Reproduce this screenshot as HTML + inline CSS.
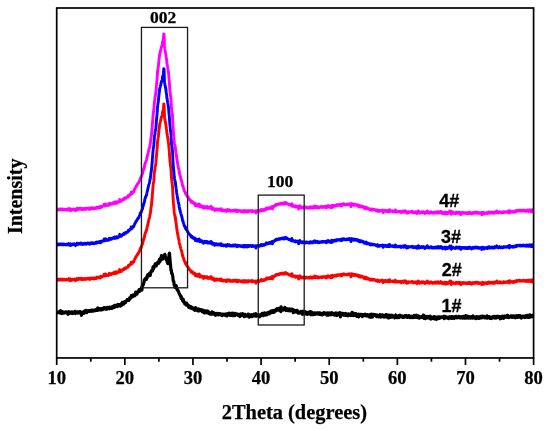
<!DOCTYPE html>
<html><head><meta charset="utf-8"><style>
html,body{margin:0;padding:0;background:#fff;}
svg{display:block;}
.serif{font-family:"Liberation Serif","Times New Roman",serif;font-weight:bold;stroke:#000;stroke-width:0.25px;}
.sans{font-family:"Liberation Sans",Arial,sans-serif;font-weight:bold;}
</style></head><body>
<svg width="550" height="431" viewBox="0 0 550 431">
<rect x="0" y="0" width="550" height="431" fill="#fff"/>
<g clip-path="url(#clip)">
<path d="M56.80,312.70 56.95,312.86 57.10,312.29 57.25,312.14 57.40,312.41 57.55,312.60 57.69,312.40 57.84,312.49 57.99,312.73 58.14,312.55 58.29,312.58 58.44,312.31 58.59,312.11 58.74,311.85 58.89,312.24 59.04,312.42 59.18,312.42 59.33,311.95 59.48,311.81 59.63,311.96 59.78,312.15 59.93,312.62 60.08,313.10 60.23,312.31 60.38,310.92 60.53,310.64 60.67,311.55 60.82,312.19 60.97,312.38 61.12,313.19 61.27,312.98 61.42,312.46 61.57,312.52 61.72,313.34 61.87,313.53 62.02,312.73 62.16,311.89 62.31,311.62 62.46,312.02 62.61,312.15 62.76,311.75 62.91,311.76 63.06,311.93 63.21,312.03 63.36,313.16 63.51,312.51 63.65,312.39 63.80,312.50 63.95,312.89 64.10,313.19 64.25,312.70 64.40,312.53 64.55,312.45 64.70,312.86 64.85,312.45 65.00,312.69 65.14,312.63 65.29,312.48 65.44,311.97 65.59,312.10 65.74,312.63 65.89,312.45 66.04,311.96 66.19,311.93 66.34,312.23 66.49,312.59 66.64,312.85 66.78,312.54 66.93,312.30 67.08,312.65 67.23,313.18 67.38,312.69 67.53,312.49 67.68,312.83 67.83,313.32 67.98,314.35 68.13,312.37 68.27,311.93 68.42,312.05 68.57,312.72 68.72,312.95 68.87,312.51 69.02,311.70 69.17,311.96 69.32,312.91 69.47,313.06 69.62,312.64 69.76,312.64 69.91,313.03 70.06,313.31 70.21,313.30 70.36,313.05 70.51,312.66 70.66,312.89 70.81,312.35 70.96,312.04 71.11,311.94 71.25,312.22 71.40,312.21 71.55,312.18 71.70,312.80 71.85,312.81 72.00,313.12 72.15,313.32 72.30,313.54 72.45,312.96 72.60,311.97 72.74,312.33 72.89,312.92 73.04,312.98 73.19,312.41 73.34,312.47 73.49,312.92 73.64,313.00 73.79,312.97 73.94,312.48 74.09,312.54 74.23,312.33 74.38,312.61 74.53,313.12 74.68,313.05 74.83,311.74 74.98,311.36 75.13,312.00 75.28,313.63 75.43,312.66 75.58,312.02 75.72,312.26 75.87,312.35 76.02,312.08 76.17,312.53 76.32,312.65 76.47,312.75 76.62,312.60 76.77,312.41 76.92,312.15 77.07,311.96 77.22,312.16 77.36,312.01 77.51,311.84 77.66,312.30 77.81,312.90 77.96,313.07 78.11,312.77 78.26,312.71 78.41,312.56 78.56,312.55 78.71,312.84 78.85,312.53 79.00,312.50 79.15,312.44 79.30,312.32 79.45,311.72 79.60,311.80 79.75,312.69 79.90,312.82 80.05,312.69 80.20,311.65 80.34,311.77 80.49,312.23 80.64,312.92 80.79,312.60 80.94,312.34 81.09,312.73 81.24,313.18 81.39,315.31 81.54,313.70 81.69,313.12 81.83,312.36 81.98,312.31 82.13,312.51 82.28,312.54 82.43,312.58 82.58,312.01 82.73,312.05 82.88,312.05 83.03,312.02 83.18,311.86 83.32,312.60 83.47,313.16 83.62,312.88 83.77,312.09 83.92,312.68 84.07,313.26 84.22,312.94 84.37,311.54 84.52,311.28 84.67,311.20 84.81,311.28 84.96,311.25 85.11,312.02 85.26,312.41 85.41,311.64 85.56,310.85 85.71,310.30 85.86,311.30 86.01,311.61 86.16,312.17 86.31,311.51 86.45,311.84 86.60,312.59 86.75,312.59 86.90,311.79 87.05,311.08 87.20,311.28 87.35,310.82 87.50,311.48 87.65,311.49 87.80,311.49 87.94,311.11 88.09,311.28 88.24,311.17 88.39,310.86 88.54,310.98 88.69,310.72 88.84,310.64 88.99,310.68 89.14,310.96 89.29,311.09 89.43,311.09 89.58,311.39 89.73,311.36 89.88,311.29 90.03,310.85 90.18,310.72 90.33,310.37 90.48,310.65 90.63,310.63 90.78,310.61 90.92,310.59 91.07,311.18 91.22,311.28 91.37,310.43 91.52,310.26 91.67,310.71 91.82,310.87 91.97,310.79 92.12,310.70 92.27,310.62 92.41,310.34 92.56,310.62 92.71,310.99 92.86,310.48 93.01,310.90 93.16,310.98 93.31,310.73 93.46,310.24 93.61,310.52 93.76,310.98 93.90,310.72 94.05,310.72 94.20,310.69 94.35,310.57 94.50,310.67 94.65,310.56 94.80,310.37 94.95,310.10 95.10,310.45 95.25,310.66 95.39,310.26 95.54,310.21 95.69,309.84 95.84,309.50 95.99,309.36 96.14,309.55 96.29,309.70 96.44,309.78 96.59,310.44 96.74,310.20 96.89,309.79 97.03,309.60 97.18,309.17 97.33,310.01 97.48,310.23 97.63,310.33 97.78,307.86 97.93,309.92 98.08,309.45 98.23,309.16 98.38,309.65 98.52,310.06 98.67,309.59 98.82,309.46 98.97,309.36 99.12,309.40 99.27,309.42 99.42,309.43 99.57,308.73 99.72,308.49 99.87,308.51 100.01,309.17 100.16,309.45 100.31,309.86 100.46,309.62 100.61,309.57 100.76,309.06 100.91,309.10 101.06,309.70 101.21,309.95 101.36,309.31 101.50,308.64 101.65,308.61 101.80,308.52 101.95,308.57 102.10,308.70 102.25,309.31 102.40,309.43 102.55,309.45 102.70,309.31 102.85,309.26 102.99,309.46 103.14,309.13 103.29,308.73 103.44,308.13 103.59,308.32 103.74,308.14 103.89,308.09 104.04,307.73 104.19,308.42 104.34,308.71 104.48,308.86 104.63,308.06 104.78,307.92 104.93,308.09 105.08,308.04 105.23,307.77 105.38,307.78 105.53,308.00 105.68,308.53 105.83,309.08 105.98,309.25 106.12,308.97 106.27,308.22 106.42,308.20 106.57,308.23 106.72,308.71 106.87,309.05 107.02,308.43 107.17,307.93 107.32,307.33 107.47,308.06 107.61,307.72 107.76,307.69 107.91,307.62 108.06,308.28 108.21,308.47 108.36,308.08 108.51,307.59 108.66,307.84 108.81,308.21 108.96,307.74 109.10,307.52 109.25,307.89 109.40,308.62 109.55,307.14 109.70,308.24 109.85,307.72 110.00,307.78 110.15,307.50 110.30,307.91 110.45,308.14 110.59,308.06 110.74,307.62 110.89,307.35 111.04,307.93 111.19,308.26 111.34,307.78 111.49,307.31 111.64,307.47 111.79,308.51 111.94,307.95 112.08,307.11 112.23,306.95 112.38,307.21 112.53,306.68 112.68,306.40 112.83,307.29 112.98,307.47 113.13,307.26 113.28,307.07 113.43,307.67 113.57,307.61 113.72,307.68 113.87,306.98 114.02,306.69 114.17,306.38 114.32,306.99 114.47,307.32 114.62,305.25 114.77,306.68 114.92,306.85 115.06,307.01 115.21,306.58 115.36,306.22 115.51,305.68 115.66,305.61 115.81,305.90 115.96,306.11 116.11,306.12 116.26,305.73 116.41,305.56 116.56,305.21 116.70,306.22 116.85,306.09 117.00,305.99 117.15,305.83 117.30,306.44 117.45,306.51 117.60,305.93 117.75,304.80 117.90,305.94 118.05,304.68 118.19,305.02 118.34,304.44 118.49,305.00 118.64,305.54 118.79,305.60 118.94,305.32 119.09,305.20 119.24,305.23 119.39,304.87 119.54,304.72 119.68,304.86 119.83,304.96 119.98,304.81 120.13,304.80 120.28,306.12 120.43,304.54 120.58,304.38 120.73,304.98 120.88,304.77 121.03,304.90 121.17,304.65 121.32,304.51 121.47,303.64 121.62,303.64 121.77,305.36 121.92,303.51 122.07,302.77 122.22,302.50 122.37,302.62 122.52,303.22 122.66,303.94 122.81,304.37 122.96,304.00 123.11,303.29 123.26,302.86 123.41,302.99 123.56,303.79 123.71,304.10 123.86,303.51 124.01,302.62 124.15,302.12 124.30,301.81 124.45,301.61 124.60,301.78 124.75,302.55 124.90,302.69 125.05,302.77 125.20,302.79 125.35,302.74 125.50,302.54 125.65,302.26 125.79,301.91 125.94,301.27 126.09,301.03 126.24,300.96 126.39,300.69 126.54,300.63 126.69,300.77 126.84,300.48 126.99,300.19 127.14,299.57 127.28,299.67 127.43,299.95 127.58,300.42 127.73,300.27 127.88,300.17 128.03,299.84 128.18,299.43 128.33,299.35 128.48,299.85 128.63,299.99 128.77,300.47 128.92,300.24 129.07,300.05 129.22,299.65 129.37,299.56 129.52,298.73 129.67,297.77 129.82,297.72 129.97,298.36 130.12,298.81 130.26,298.61 130.41,298.02 130.56,297.95 130.71,297.20 130.86,297.00 131.01,296.97 131.16,297.08 131.31,295.68 131.46,297.25 131.61,296.85 131.75,295.70 131.90,296.36 132.05,296.55 132.20,296.82 132.35,296.70 132.50,296.94 132.65,296.16 132.80,295.49 132.95,295.90 133.10,296.03 133.24,295.52 133.39,294.87 133.54,295.49 133.69,295.82 133.84,295.93 133.99,295.27 134.14,295.18 134.29,295.22 134.44,294.89 134.59,294.73 134.74,295.50 134.88,295.72 135.03,294.79 135.18,294.47 135.33,294.27 135.48,293.18 135.63,292.13 135.78,292.37 135.93,294.24 136.08,293.26 136.23,293.53 136.37,293.14 136.52,292.84 136.67,293.42 136.82,294.22 136.97,294.15 137.12,293.39 137.27,293.07 137.42,292.40 137.57,292.29 137.72,291.99 137.86,292.44 138.01,292.35 138.16,291.81 138.31,291.18 138.46,291.43 138.61,291.40 138.76,290.78 138.91,290.05 139.06,289.77 139.21,290.05 139.35,290.86 139.50,291.52 139.65,291.08 139.80,290.41 139.95,290.04 140.10,289.59 140.25,289.64 140.40,289.93 140.55,290.33 140.70,289.67 140.84,289.00 140.99,288.52 141.14,289.08 141.29,289.14 141.44,288.17 141.59,287.26 141.74,287.88 141.89,290.17 142.04,288.49 142.19,287.62 142.33,286.31 142.48,284.83 142.63,284.05 142.78,284.37 142.93,284.83 143.08,285.15 143.23,284.72 143.38,284.43 143.53,283.85 143.68,283.20 143.82,282.76 143.97,282.38 144.12,281.15 144.27,279.96 144.42,280.21 144.57,279.92 144.72,279.51 144.87,279.40 145.02,279.71 145.17,278.90 145.32,278.58 145.46,278.75 145.61,279.47 145.76,279.73 145.91,278.99 146.06,277.72 146.21,277.68 146.36,278.89 146.51,279.24 146.66,278.65 146.81,278.39 146.95,278.18 147.10,277.47 147.25,275.98 147.40,275.43 147.55,276.25 147.70,276.37 147.85,275.91 148.00,274.53 148.15,274.76 148.30,275.12 148.44,275.49 148.59,275.42 148.74,275.34 148.89,275.46 149.04,275.67 149.19,275.71 149.34,275.16 149.49,273.94 149.64,273.11 149.79,273.24 149.93,273.40 150.08,274.55 150.23,275.34 150.38,275.08 150.53,273.40 150.68,273.14 150.83,272.53 150.98,271.80 151.13,271.49 151.28,271.85 151.42,271.37 151.57,270.68 151.72,271.11 151.87,271.28 152.02,271.29 152.17,271.08 152.32,270.83 152.47,270.83 152.62,270.20 152.77,269.11 152.91,267.57 153.06,266.92 153.21,267.08 153.36,268.17 153.51,268.92 153.66,268.54 153.81,268.35 153.96,266.68 154.11,266.60 154.26,266.60 154.41,265.94 154.55,265.55 154.70,266.15 154.85,265.81 155.00,265.23 155.15,263.93 155.30,264.48 155.45,264.39 155.60,264.07 155.75,263.65 155.90,264.91 156.04,265.95 156.19,265.99 156.34,265.14 156.49,265.50 156.64,263.01 156.79,263.08 156.94,263.08 157.09,262.89 157.24,263.38 157.39,263.56 157.53,263.31 157.68,262.84 157.83,262.94 157.98,262.19 158.13,262.42 158.28,261.70 158.43,262.39 158.58,262.49 158.73,263.29 158.88,262.28 159.02,261.46 159.17,261.09 159.32,260.27 159.47,259.31 159.62,259.50 159.77,261.10 159.92,261.78 160.07,261.10 160.22,260.79 160.37,259.99 160.51,259.16 160.66,257.89 160.81,257.77 160.96,258.15 161.11,258.47 161.26,256.95 161.41,255.70 161.56,255.82 161.71,257.59 161.86,258.18 162.00,259.30 162.15,256.36 162.30,257.13 162.45,257.49 162.60,258.59 162.75,258.56 162.90,258.91 163.05,257.47 163.20,256.45 163.35,255.68 163.49,255.62 163.64,255.55 163.79,256.05 163.94,256.26 164.09,256.93 164.24,256.54 164.39,256.20 164.54,255.30 164.69,254.90 164.84,254.35 164.99,254.57 165.13,255.65 165.28,256.96 165.43,258.29 165.58,258.27 165.73,258.19 165.88,257.89 166.03,257.79 166.18,258.31 166.33,259.44 166.48,259.96 166.62,260.32 166.77,260.26 166.92,260.94 167.07,261.25 167.22,262.20 167.37,262.18 167.52,262.87 167.67,263.37 167.82,263.70 167.97,262.67 168.11,260.85 168.26,259.06 168.41,257.74 168.56,257.55 168.71,257.47 168.86,257.16 169.01,255.62 169.16,254.05 169.31,253.52 169.46,253.26 169.60,254.34 169.75,256.38 169.90,258.77 170.05,260.17 170.20,261.89 170.35,263.60 170.50,264.90 170.65,266.40 170.80,268.09 170.95,269.96 171.09,270.36 171.24,270.07 171.39,270.47 171.54,272.33 171.69,273.50 171.84,273.08 171.99,273.28 172.14,273.74 172.29,274.59 172.44,274.62 172.58,275.62 172.73,275.90 172.88,277.13 173.03,278.77 173.18,280.45 173.33,281.36 173.48,281.41 173.63,281.69 173.78,281.46 173.93,282.63 174.08,283.86 174.22,285.42 174.37,285.29 174.52,285.23 174.67,285.05 174.82,286.25 174.97,287.33 175.12,287.29 175.27,286.24 175.42,285.07 175.57,285.85 175.71,286.74 175.86,287.13 176.01,286.76 176.16,286.19 176.31,285.76 176.46,286.45 176.61,288.06 176.76,288.93 176.91,288.51 177.06,288.74 177.20,289.79 177.35,290.16 177.50,289.94 177.65,289.64 177.80,290.46 177.95,290.87 178.10,291.25 178.25,291.14 178.40,291.36 178.55,291.62 178.69,292.11 178.84,292.45 178.99,293.18 179.14,293.41 179.29,293.46 179.44,293.91 179.59,294.47 179.74,294.63 179.89,294.83 180.04,295.40 180.18,295.74 180.33,295.79 180.48,295.58 180.63,295.83 180.78,296.66 180.93,297.63 181.08,297.16 181.23,298.60 181.38,296.84 181.53,297.41 181.67,297.70 181.82,297.90 181.97,298.52 182.12,298.98 182.27,299.72 182.42,299.82 182.57,300.50 182.72,300.93 182.87,300.44 183.02,299.94 183.16,299.23 183.31,299.53 183.46,300.12 183.61,301.41 183.76,302.18 183.91,302.05 184.06,301.86 184.21,301.72 184.36,302.40 184.51,303.11 184.66,303.16 184.80,303.93 184.95,304.02 185.10,303.78 185.25,302.88 185.40,303.38 185.55,303.84 185.70,303.57 185.85,303.82 186.00,304.04 186.15,304.73 186.29,305.01 186.44,304.71 186.59,303.76 186.74,303.17 186.89,303.78 187.04,304.38 187.19,304.89 187.34,304.70 187.49,304.83 187.64,305.45 187.78,305.51 187.93,305.14 188.08,305.01 188.23,305.56 188.38,305.63 188.53,306.22 188.68,306.98 188.83,307.38 188.98,306.64 189.13,306.88 189.27,307.16 189.42,307.13 189.57,306.32 189.72,306.19 189.87,307.13 190.02,307.69 190.17,307.77 190.32,306.51 190.47,306.55 190.62,306.60 190.76,306.84 190.91,306.89 191.06,307.24 191.21,307.80 191.36,308.24 191.51,308.07 191.66,307.55 191.81,306.96 191.96,307.45 192.11,308.02 192.25,308.28 192.40,308.71 192.55,308.73 192.70,308.65 192.85,308.02 193.00,308.55 193.15,308.66 193.30,308.53 193.45,308.06 193.60,308.79 193.75,309.17 193.89,309.41 194.04,309.34 194.19,309.09 194.34,308.90 194.49,309.29 194.64,309.93 194.79,310.31 194.94,309.98 195.09,309.71 195.24,309.14 195.38,309.18 195.53,309.33 195.68,307.69 195.83,308.84 195.98,308.53 196.13,308.77 196.28,309.33 196.43,310.09 196.58,309.54 196.73,309.42 196.87,309.48 197.02,309.53 197.17,309.18 197.32,309.62 197.47,310.33 197.62,310.51 197.77,310.60 197.92,310.75 198.07,310.53 198.22,309.50 198.36,308.78 198.51,309.06 198.66,309.71 198.81,309.06 198.96,310.38 199.11,310.57 199.26,310.89 199.41,310.55 199.56,310.55 199.71,310.04 199.85,309.98 200.00,309.87 200.15,309.99 200.30,310.41 200.45,310.05 200.60,310.07 200.75,309.70 200.90,309.93 201.05,309.91 201.20,309.85 201.34,310.09 201.49,310.05 201.64,309.95 201.79,310.10 201.94,311.05 202.09,311.63 202.24,311.48 202.39,311.91 202.54,311.58 202.69,310.93 202.84,310.01 202.98,310.71 203.13,311.29 203.28,311.95 203.43,312.12 203.58,312.01 203.73,311.33 203.88,310.71 204.03,311.52 204.18,312.48 204.33,312.91 204.47,312.12 204.62,311.72 204.77,311.49 204.92,311.53 205.07,310.89 205.22,310.82 205.37,311.09 205.52,311.96 205.67,312.16 205.82,312.58 205.96,312.60 206.11,312.73 206.26,311.78 206.41,311.12 206.56,311.61 206.71,312.36 206.86,312.35 207.01,312.17 207.16,312.42 207.31,312.60 207.45,312.14 207.60,311.62 207.75,310.96 207.90,310.99 208.05,311.59 208.20,312.11 208.35,312.74 208.50,312.52 208.65,313.31 208.80,313.59 208.94,313.66 209.09,313.04 209.24,313.08 209.39,312.85 209.54,312.73 209.69,313.20 209.84,313.73 209.99,314.00 210.14,313.59 210.29,313.01 210.43,313.35 210.58,313.78 210.73,313.96 210.88,313.67 211.03,314.24 211.18,313.76 211.33,313.12 211.48,312.65 211.63,313.01 211.78,312.44 211.92,312.34 212.07,311.79 212.22,312.37 212.37,312.93 212.52,314.07 212.67,313.63 212.82,313.59 212.97,313.37 213.12,313.19 213.27,312.56 213.42,312.61 213.56,313.09 213.71,313.78 213.86,313.47 214.01,312.96 214.16,313.16 214.31,314.06 214.46,314.33 214.61,313.63 214.76,313.67 214.91,313.29 215.05,313.58 215.20,313.91 215.35,315.14 215.50,315.31 215.65,315.03 215.80,314.30 215.95,313.85 216.10,313.97 216.25,314.35 216.40,314.35 216.54,313.54 216.69,313.47 216.84,313.89 216.99,314.15 217.14,313.80 217.29,314.14 217.44,314.68 217.59,314.62 217.74,313.72 217.89,313.40 218.03,313.48 218.18,314.32 218.33,314.50 218.48,314.95 218.63,314.49 218.78,314.29 218.93,314.07 219.08,314.42 219.23,314.17 219.38,313.81 219.52,314.11 219.67,313.90 219.82,313.64 219.97,313.63 220.12,314.07 220.27,314.36 220.42,314.34 220.57,314.22 220.72,314.03 220.87,314.49 221.01,314.61 221.16,314.99 221.31,314.66 221.46,314.88 221.61,314.37 221.76,314.39 221.91,314.17 222.06,315.15 222.21,315.67 222.36,315.31 222.51,314.93 222.65,314.77 222.80,314.49 222.95,314.17 223.10,314.40 223.25,314.91 223.40,314.69 223.55,314.63 223.70,314.63 223.85,314.92 224.00,314.75 224.14,314.31 224.29,314.43 224.44,314.66 224.59,314.96 224.74,314.60 224.89,314.48 225.04,314.03 225.19,314.06 225.34,314.42 225.49,314.85 225.63,315.03 225.78,314.97 225.93,315.31 226.08,315.09 226.23,315.76 226.38,313.87 226.53,314.10 226.68,314.25 226.83,314.23 226.98,315.90 227.12,314.95 227.27,314.66 227.42,314.56 227.57,314.56 227.72,315.23 227.87,315.11 228.02,314.77 228.17,314.40 228.32,314.11 228.47,313.40 228.61,313.98 228.76,314.36 228.91,314.64 229.06,313.93 229.21,314.10 229.36,313.31 229.51,313.16 229.66,313.77 229.81,314.13 229.96,314.38 230.10,314.44 230.25,315.48 230.40,315.33 230.55,315.37 230.70,315.20 230.85,315.22 231.00,314.18 231.15,314.23 231.30,314.22 231.45,314.30 231.59,314.20 231.74,315.12 231.89,315.03 232.04,314.54 232.19,313.22 232.34,314.81 232.49,315.76 232.64,315.41 232.79,314.87 232.94,313.48 233.09,313.66 233.23,313.33 233.38,314.74 233.53,315.12 233.68,313.94 233.83,314.17 233.98,313.97 234.13,314.25 234.28,314.44 234.43,314.80 234.58,315.31 234.72,315.68 234.87,315.00 235.02,313.81 235.17,313.31 235.32,314.13 235.47,314.73 235.62,314.61 235.77,314.30 235.92,314.05 236.07,313.74 236.21,313.89 236.36,314.42 236.51,314.56 236.66,314.49 236.81,314.49 236.96,314.33 237.11,314.08 237.26,314.48 237.41,314.84 237.56,314.56 237.70,314.15 237.85,314.43 238.00,315.51 238.15,315.38 238.30,314.97 238.45,314.46 238.60,315.03 238.75,315.19 238.90,315.70 239.05,315.72 239.19,315.32 239.34,314.58 239.49,314.55 239.64,314.96 239.79,315.89 239.94,316.51 240.09,315.95 240.24,315.02 240.39,314.24 240.54,313.92 240.68,314.02 240.83,314.87 240.98,315.05 241.13,315.18 241.28,314.99 241.43,314.68 241.58,314.36 241.73,314.94 241.88,315.22 242.03,314.96 242.18,314.98 242.32,315.03 242.47,314.97 242.62,314.30 242.77,313.75 242.92,314.07 243.07,314.66 243.22,315.12 243.37,315.46 243.52,315.65 243.67,315.41 243.81,315.75 243.96,316.28 244.11,316.63 244.26,316.59 244.41,316.58 244.56,315.89 244.71,315.06 244.86,314.41 245.01,314.58 245.16,315.16 245.30,315.46 245.45,315.52 245.60,315.29 245.75,315.55 245.90,315.49 246.05,315.56 246.20,315.21 246.35,315.17 246.50,315.97 246.65,315.74 246.79,315.40 246.94,315.20 247.09,316.05 247.24,315.85 247.39,315.90 247.54,315.56 247.69,314.95 247.84,314.56 247.99,314.64 248.14,314.10 248.28,314.10 248.43,315.14 248.58,316.11 248.73,315.68 248.88,315.37 249.03,314.91 249.18,317.27 249.33,315.97 249.48,316.41 249.63,315.25 249.77,314.97 249.92,315.50 250.07,316.56 250.22,316.53 250.37,316.01 250.52,315.44 250.67,315.35 250.82,315.57 250.97,315.72 251.12,315.42 251.26,315.77 251.41,315.54 251.56,315.33 251.71,314.74 251.86,315.37 252.01,316.00 252.16,316.62 252.31,316.51 252.46,315.57 252.61,315.60 252.76,315.90 252.90,316.14 253.05,315.42 253.20,315.17 253.35,315.30 253.50,315.47 253.65,315.45 253.80,314.44 253.95,314.10 254.10,314.63 254.25,315.65 254.39,315.62 254.54,315.54 254.69,315.77 254.84,315.73 254.99,315.89 255.14,315.15 255.29,314.54 255.44,313.87 255.59,313.75 255.74,313.67 255.88,314.50 256.03,315.90 256.18,316.25 256.33,316.27 256.48,316.13 256.63,315.79 256.78,315.24 256.93,315.20 257.08,315.55 257.23,315.09 257.37,315.22 257.52,315.10 257.67,315.69 257.82,315.03 257.97,314.78 258.12,314.65 258.27,315.47 258.42,315.29 258.57,315.56 258.72,315.72 258.86,315.81 259.01,315.55 259.16,315.60 259.31,316.00 259.46,316.44 259.61,316.76 259.76,316.05 259.91,315.03 260.06,314.96 260.21,315.30 260.35,315.12 260.50,314.59 260.65,314.70 260.80,315.82 260.95,315.36 261.10,314.83 261.25,314.35 261.40,315.30 261.55,315.42 261.70,315.49 261.85,314.81 261.99,313.96 262.14,313.28 262.29,313.91 262.44,314.58 262.59,314.82 262.74,314.28 262.89,313.92 263.04,314.05 263.19,314.69 263.34,315.55 263.48,314.91 263.63,314.61 263.78,314.29 263.93,313.93 264.08,312.96 264.23,312.93 264.38,313.53 264.53,313.66 264.68,313.35 264.83,313.19 264.97,314.22 265.12,314.68 265.27,314.60 265.42,314.11 265.57,315.09 265.72,314.58 265.87,314.39 266.02,313.42 266.17,313.55 266.32,313.20 266.46,314.62 266.61,314.87 266.76,313.85 266.91,313.09 267.06,313.36 267.21,313.61 267.36,313.21 267.51,313.48 267.66,313.47 267.81,313.48 267.95,313.57 268.10,313.85 268.25,313.63 268.40,313.09 268.55,312.40 268.70,312.64 268.85,312.98 269.00,313.37 269.15,313.37 269.30,313.86 269.44,313.82 269.59,313.67 269.74,312.77 269.89,312.10 270.04,311.73 270.19,311.75 270.34,312.16 270.49,311.98 270.64,312.12 270.79,311.22 270.94,310.98 271.08,310.94 271.23,311.66 271.38,311.40 271.53,311.32 271.68,311.86 271.83,312.67 271.98,312.33 272.13,311.65 272.28,311.02 272.43,311.31 272.57,312.08 272.72,312.31 272.87,311.31 273.02,310.74 273.17,311.26 273.32,310.93 273.47,310.49 273.62,311.19 273.77,312.46 273.92,312.39 274.06,311.74 274.21,311.74 274.36,311.28 274.51,310.62 274.66,310.36 274.81,310.52 274.96,310.69 275.11,310.00 275.26,310.17 275.41,310.59 275.55,311.16 275.70,310.84 275.85,311.04 276.00,310.79 276.15,310.12 276.30,309.23 276.45,309.37 276.60,309.36 276.75,309.61 276.90,309.60 277.04,309.34 277.19,308.71 277.34,309.24 277.49,309.92 277.64,310.15 277.79,309.72 277.94,309.69 278.09,309.95 278.24,310.16 278.39,309.94 278.53,309.28 278.68,308.70 278.83,308.42 278.98,309.07 279.13,309.37 279.28,308.85 279.43,308.00 279.58,308.13 279.73,308.85 279.88,308.93 280.02,309.20 280.17,309.34 280.32,309.98 280.47,310.57 280.62,311.42 280.77,311.49 280.92,310.27 281.07,308.96 281.22,306.88 281.37,309.73 281.52,310.25 281.66,310.38 281.81,309.71 281.96,309.52 282.11,309.43 282.26,309.34 282.41,309.26 282.56,309.49 282.71,309.60 282.86,309.54 283.01,309.83 283.15,309.96 283.30,309.46 283.45,308.83 283.60,308.58 283.75,308.59 283.90,308.64 284.05,308.68 284.20,308.40 284.35,308.00 284.50,307.73 284.64,308.15 284.79,308.40 284.94,308.34 285.09,307.49 285.24,309.81 285.39,309.76 285.54,309.26 285.69,308.85 285.84,309.47 285.99,310.53 286.13,309.38 286.28,309.39 286.43,309.48 286.58,309.65 286.73,309.21 286.88,309.35 287.03,308.98 287.18,309.18 287.33,309.20 287.48,309.32 287.62,309.03 287.77,309.18 287.92,309.66 288.07,310.39 288.22,310.65 288.37,310.04 288.52,309.78 288.67,310.06 288.82,310.36 288.97,310.12 289.11,310.38 289.26,310.47 289.41,309.54 289.56,308.91 289.71,310.11 289.86,311.00 290.01,310.51 290.16,309.44 290.31,309.20 290.46,309.43 290.61,309.64 290.75,309.25 290.90,309.25 291.05,310.02 291.20,309.40 291.35,310.56 291.50,310.49 291.65,310.35 291.80,309.87 291.95,309.13 292.10,309.50 292.24,310.18 292.39,310.69 292.54,310.90 292.69,311.14 292.84,311.39 292.99,310.97 293.14,309.69 293.29,312.59 293.44,310.98 293.59,310.78 293.73,310.38 293.88,310.67 294.03,310.47 294.18,310.12 294.33,310.99 294.48,312.08 294.63,312.14 294.78,311.18 294.93,311.20 295.08,311.43 295.22,311.57 295.37,311.30 295.52,311.20 295.67,311.04 295.82,311.15 295.97,310.49 296.12,310.35 296.27,310.86 296.42,311.84 296.57,311.58 296.71,311.48 296.86,311.57 297.01,311.34 297.16,310.36 297.31,310.43 297.46,311.00 297.61,311.89 297.76,312.65 297.91,312.92 298.06,312.13 298.20,311.47 298.35,311.97 298.50,311.93 298.65,312.17 298.80,312.55 298.95,313.12 299.10,312.55 299.25,312.43 299.40,312.67 299.55,312.49 299.69,312.67 299.84,312.68 299.99,312.95 300.14,312.23 300.29,312.38 300.44,312.75 300.59,312.77 300.74,311.95 300.89,311.38 301.04,311.38 301.19,311.59 301.33,311.78 301.48,312.26 301.63,312.94 301.78,312.82 301.93,312.74 302.08,312.34 302.23,313.02 302.38,313.92 302.53,314.32 302.68,314.20 302.82,313.40 302.97,312.59 303.12,311.57 303.27,311.29 303.42,311.48 303.57,311.89 303.72,312.83 303.87,313.52 304.02,313.70 304.17,313.20 304.31,312.67 304.46,312.51 304.61,312.78 304.76,313.11 304.91,313.25 305.06,313.19 305.21,312.46 305.36,311.82 305.51,311.69 305.66,312.88 305.80,313.37 305.95,313.63 306.10,313.69 306.25,314.02 306.40,313.58 306.55,312.96 306.70,312.55 306.85,312.71 307.00,313.31 307.15,313.91 307.29,314.01 307.44,313.91 307.59,314.37 307.74,314.07 307.89,313.63 308.04,313.31 308.19,313.97 308.34,313.22 308.49,312.46 308.64,312.21 308.78,312.70 308.93,313.05 309.08,313.39 309.23,313.54 309.38,312.70 309.53,312.09 309.68,311.95 309.83,312.65 309.98,312.84 310.13,312.33 310.28,311.65 310.42,311.92 310.57,313.20 310.72,314.69 310.87,314.82 311.02,314.28 311.17,314.09 311.32,314.70 311.47,314.36 311.62,313.37 311.77,312.70 311.91,312.24 312.06,312.58 312.21,313.21 312.36,313.26 312.51,312.89 312.66,312.94 312.81,313.97 312.96,314.52 313.11,314.70 313.26,314.03 313.40,313.33 313.55,313.49 313.70,313.69 313.85,313.60 314.00,313.78 314.15,314.18 314.30,313.61 314.45,312.87 314.60,313.14 314.75,313.61 314.89,313.99 315.04,314.33 315.19,314.20 315.34,313.47 315.49,313.05 315.64,312.92 315.79,313.08 315.94,313.22 316.09,313.79 316.24,313.58 316.38,313.22 316.53,313.52 316.68,313.72 316.83,313.53 316.98,312.75 317.13,312.91 317.28,312.85 317.43,313.01 317.58,312.97 317.73,313.06 317.87,313.22 318.02,313.74 318.17,314.06 318.32,313.69 318.47,313.46 318.62,313.40 318.77,313.54 318.92,312.87 319.07,312.95 319.22,313.20 319.36,314.19 319.51,314.37 319.66,313.95 319.81,312.80 319.96,312.93 320.11,313.28 320.26,313.71 320.41,313.42 320.56,314.25 320.71,314.31 320.86,314.67 321.00,314.58 321.15,314.39 321.30,313.62 321.45,313.69 321.60,314.03 321.75,313.70 321.90,313.52 322.05,314.55 322.20,314.96 322.35,314.75 322.49,314.04 322.64,314.32 322.79,313.97 322.94,314.28 323.09,314.19 323.24,314.13 323.39,313.71 323.54,313.41 323.69,313.04 323.84,312.57 323.98,312.73 324.13,312.86 324.28,313.23 324.43,313.57 324.58,314.07 324.73,313.77 324.88,313.52 325.03,313.42 325.18,313.99 325.33,313.86 325.47,313.53 325.62,313.08 325.77,313.31 325.92,313.20 326.07,313.01 326.22,313.39 326.37,313.60 326.52,313.91 326.67,314.40 326.82,315.12 326.96,314.18 327.11,313.46 327.26,313.48 327.41,314.19 327.56,313.44 327.71,313.30 327.86,313.04 328.01,313.76 328.16,314.11 328.31,315.23 328.45,314.86 328.60,313.73 328.75,313.14 328.90,313.81 329.05,314.15 329.20,314.12 329.35,314.24 329.50,313.89 329.65,313.14 329.80,312.89 329.95,313.25 330.09,313.46 330.24,313.42 330.39,313.30 330.54,313.48 330.69,315.00 330.84,313.68 330.99,313.38 331.14,313.37 331.29,312.88 331.44,312.84 331.58,312.77 331.73,313.29 331.88,312.90 332.03,313.35 332.18,313.65 332.33,313.62 332.48,313.25 332.63,313.11 332.78,314.00 332.93,314.36 333.07,314.21 333.22,313.59 333.37,313.54 333.52,314.15 333.67,314.33 333.82,314.42 333.97,313.71 334.12,313.69 334.27,314.39 334.42,315.09 334.56,314.69 334.71,314.02 334.86,313.54 335.01,313.51 335.16,313.24 335.31,313.42 335.46,313.37 335.61,313.42 335.76,313.55 335.91,313.36 336.05,313.40 336.20,312.96 336.35,313.88 336.50,314.86 336.65,315.56 336.80,315.47 336.95,315.16 337.10,314.93 337.25,314.20 337.40,313.64 337.54,313.47 337.69,313.55 337.84,313.63 337.99,313.84 338.14,313.22 338.29,313.67 338.44,313.22 338.59,313.17 338.74,313.52 338.89,313.30 339.04,313.84 339.18,314.78 339.33,314.86 339.48,314.38 339.63,314.16 339.78,314.17 339.93,312.63 340.08,314.22 340.23,314.97 340.38,316.95 340.53,314.67 340.67,313.88 340.82,313.52 340.97,314.11 341.12,314.37 341.27,314.13 341.42,313.85 341.57,313.66 341.72,313.91 341.87,313.29 342.02,313.65 342.16,313.81 342.31,314.01 342.46,313.59 342.61,313.53 342.76,313.91 342.91,313.81 343.06,314.36 343.21,314.60 343.36,315.16 343.51,314.88 343.65,314.36 343.80,313.98 343.95,313.73 344.10,313.87 344.25,314.13 344.40,314.12 344.55,314.17 344.70,314.83 344.85,314.87 345.00,314.39 345.14,314.56 345.29,315.32 345.44,314.80 345.59,313.78 345.74,313.45 345.89,313.74 346.04,314.15 346.19,314.22 346.34,314.54 346.49,314.44 346.63,314.32 346.78,315.14 346.93,315.61 347.08,315.58 347.23,314.83 347.38,314.90 347.53,314.39 347.68,314.35 347.83,314.43 347.98,314.92 348.12,315.50 348.27,315.71 348.42,315.51 348.57,313.79 348.72,314.41 348.87,314.79 349.02,315.25 349.17,314.85 349.32,314.38 349.47,314.44 349.62,314.53 349.76,314.35 349.91,315.03 350.06,315.09 350.21,314.78 350.36,314.03 350.51,314.69 350.66,314.93 350.81,315.37 350.96,315.21 351.11,315.17 351.25,314.29 351.40,314.48 351.55,314.94 351.70,315.47 351.85,315.04 352.00,314.70 352.15,312.46 352.30,314.40 352.45,314.85 352.60,315.08 352.74,314.52 352.89,314.45 353.04,314.62 353.19,315.32 353.34,315.72 353.49,315.47 353.64,313.30 353.79,314.10 353.94,314.10 354.09,314.41 354.23,314.72 354.38,315.25 354.53,315.39 354.68,315.18 354.83,315.11 354.98,314.79 355.13,314.68 355.28,314.83 355.43,315.30 355.58,314.88 355.72,314.10 355.87,313.52 356.02,314.45 356.17,314.69 356.32,314.80 356.47,314.97 356.62,316.01 356.77,316.39 356.92,315.69 357.07,315.39 357.21,316.07 357.36,316.47 357.51,316.05 357.66,315.04 357.81,314.97 357.96,315.00 358.11,315.58 358.26,315.41 358.41,314.61 358.56,314.13 358.71,314.63 358.85,316.83 359.00,315.90 359.15,315.57 359.30,315.17 359.45,315.42 359.60,315.77 359.75,315.40 359.90,315.20 360.05,315.11 360.20,314.53 360.34,314.58 360.49,314.62 360.64,314.83 360.79,314.42 360.94,314.73 361.09,314.74 361.24,314.40 361.39,314.55 361.54,314.86 361.69,315.28 361.83,315.45 361.98,315.90 362.13,316.32 362.28,316.59 362.43,316.45 362.58,315.40 362.73,314.68 362.88,314.73 363.03,315.22 363.18,314.97 363.32,314.62 363.47,314.83 363.62,315.50 363.77,315.45 363.92,315.16 364.07,314.98 364.22,315.14 364.37,315.17 364.52,315.32 364.67,315.20 364.81,314.95 364.96,315.53 365.11,314.19 365.26,314.18 365.41,314.39 365.56,314.54 365.71,314.93 365.86,315.20 366.01,315.00 366.16,315.18 366.30,315.79 366.45,315.65 366.60,315.36 366.75,315.48 366.90,315.79 367.05,315.33 367.20,314.69 367.35,314.60 367.50,314.57 367.65,315.38 367.79,315.63 367.94,315.81 368.09,315.34 368.24,315.71 368.39,315.52 368.54,314.95 368.69,315.18 368.84,316.99 368.99,315.87 369.14,315.44 369.29,315.88 369.43,316.21 369.58,316.47 369.73,316.38 369.88,316.16 370.03,315.81 370.18,315.34 370.33,314.58 370.48,314.31 370.63,314.39 370.78,315.74 370.92,316.70 371.07,317.31 371.22,316.29 371.37,316.27 371.52,315.65 371.67,315.06 371.82,314.22 371.97,314.51 372.12,314.93 372.27,315.36 372.41,316.28 372.56,316.74 372.71,316.97 372.86,316.54 373.01,316.10 373.16,315.45 373.31,314.80 373.46,314.49 373.61,314.66 373.76,315.44 373.90,315.31 374.05,314.75 374.20,314.62 374.35,315.00 374.50,315.41 374.65,315.37 374.80,315.39 374.95,314.84 375.10,314.88 375.25,315.03 375.39,315.20 375.54,315.05 375.69,315.34 375.84,315.68 375.99,315.34 376.14,315.04 376.29,315.29 376.44,316.23 376.59,316.60 376.74,316.52 376.88,315.78 377.03,315.16 377.18,315.43 377.33,315.75 377.48,316.15 377.63,316.45 377.78,315.22 377.93,315.95 378.08,315.68 378.23,316.60 378.38,316.96 378.52,316.71 378.67,316.07 378.82,315.61 378.97,315.59 379.12,315.62 379.27,316.00 379.42,316.14 379.57,315.81 379.72,315.06 379.87,314.75 380.01,314.92 380.16,315.23 380.31,316.05 380.46,317.00 380.61,317.07 380.76,315.81 380.91,314.90 381.06,315.09 381.21,316.06 381.36,316.46 381.50,316.25 381.65,316.04 381.80,316.48 381.95,315.94 382.10,315.60 382.25,315.61 382.40,316.54 382.55,316.67 382.70,316.15 382.85,315.51 382.99,314.97 383.14,315.28 383.29,315.71 383.44,316.35 383.59,316.03 383.74,315.46 383.89,315.76 384.04,316.41 384.19,317.18 384.34,317.01 384.48,316.36 384.63,315.87 384.78,316.36 384.93,316.73 385.08,315.69 385.23,315.36 385.38,315.74 385.53,315.23 385.68,315.34 385.83,315.22 385.97,314.61 386.12,314.85 386.27,315.18 386.42,315.66 386.57,315.07 386.72,314.65 386.87,315.89 387.02,317.21 387.17,317.16 387.32,316.73 387.46,316.58 387.61,316.81 387.76,316.58 387.91,316.18 388.06,316.24 388.21,316.63 388.36,317.74 388.51,317.95 388.66,316.66 388.81,315.08 388.96,315.03 389.10,315.99 389.25,315.76 389.40,315.41 389.55,315.46 389.70,316.01 389.85,316.05 390.00,316.45 390.15,317.04 390.30,317.35 390.45,316.64 390.59,315.72 390.74,315.32 390.89,315.68 391.04,315.89 391.19,315.95 391.34,315.69 391.49,316.07 391.64,315.31 391.79,317.23 391.94,316.92 392.08,316.69 392.23,316.16 392.38,315.73 392.53,315.41 392.68,315.93 392.83,316.32 392.98,316.06 393.13,315.81 393.28,316.12 393.43,316.57 393.57,316.31 393.72,316.11 393.87,316.01 394.02,316.07 394.17,316.03 394.32,316.43 394.47,317.20 394.62,317.84 394.77,317.77 394.92,316.98 395.06,316.29 395.21,316.02 395.36,316.51 395.51,315.89 395.66,315.65 395.81,314.98 395.96,315.62 396.11,316.17 396.26,316.65 396.41,315.70 396.55,315.55 396.70,316.69 396.85,317.60 397.00,316.28 397.15,316.84 397.30,316.84 397.45,317.19 397.60,317.70 397.75,317.31 397.90,317.15 398.05,317.41 398.19,317.07 398.34,316.90 398.49,317.01 398.64,317.23 398.79,317.16 398.94,317.34 399.09,317.49 399.24,315.23 399.39,316.74 399.54,316.30 399.68,316.22 399.83,315.54 399.98,315.19 400.13,315.37 400.28,316.11 400.43,316.62 400.58,316.69 400.73,316.88 400.88,316.55 401.03,316.26 401.17,316.24 401.32,316.34 401.47,316.24 401.62,316.19 401.77,316.13 401.92,316.03 402.07,316.26 402.22,317.18 402.37,317.22 402.52,317.01 402.66,316.05 402.81,316.60 402.96,316.66 403.11,316.96 403.26,316.92 403.41,317.46 403.56,316.92 403.71,316.44 403.86,316.27 404.01,316.86 404.15,316.83 404.30,317.09 404.45,317.05 404.60,316.91 404.75,317.01 404.90,316.58 405.05,316.20 405.20,315.65 405.35,316.04 405.50,316.13 405.64,316.36 405.79,316.29 405.94,316.24 406.09,315.78 406.24,315.80 406.39,316.22 406.54,316.59 406.69,316.31 406.84,316.01 406.99,316.73 407.14,317.25 407.28,317.42 407.43,316.82 407.58,316.54 407.73,316.12 407.88,316.67 408.03,316.55 408.18,316.59 408.33,316.31 408.48,316.74 408.63,316.13 408.77,315.61 408.92,316.04 409.07,316.56 409.22,317.05 409.37,317.13 409.52,317.51 409.67,317.47 409.82,316.90 409.97,316.37 410.12,316.42 410.26,316.53 410.41,317.01 410.56,316.93 410.71,317.08 410.86,316.29 411.01,317.63 411.16,316.43 411.31,316.56 411.46,316.15 411.61,316.67 411.75,316.48 411.90,316.69 412.05,316.61 412.20,317.25 412.35,316.81 412.50,316.91 412.65,317.30 412.80,317.67 412.95,317.36 413.10,317.03 413.24,317.14 413.39,316.87 413.54,316.95 413.69,317.02 413.84,316.82 413.99,315.64 414.14,315.35 414.29,316.01 414.44,317.22 414.59,317.43 414.73,317.20 414.88,316.34 415.03,316.21 415.18,316.32 415.33,316.35 415.48,316.29 415.63,316.92 415.78,317.42 415.93,317.03 416.08,316.69 416.22,316.46 416.37,316.15 416.52,315.24 416.67,316.55 416.82,317.29 416.97,317.42 417.12,317.26 417.27,316.86 417.42,317.28 417.57,317.59 417.72,317.04 417.86,316.34 418.01,316.18 418.16,316.13 418.31,315.90 418.46,316.28 418.61,317.19 418.76,317.56 418.91,317.52 419.06,317.58 419.21,318.24 419.35,318.02 419.50,317.43 419.65,317.02 419.80,317.19 419.95,317.37 420.10,317.67 420.25,317.61 420.40,317.40 420.55,316.76 420.70,316.72 420.84,316.53 420.99,316.55 421.14,316.52 421.29,316.65 421.44,316.99 421.59,317.40 421.74,317.12 421.89,317.08 422.04,316.39 422.19,316.60 422.33,316.77 422.48,317.32 422.63,317.03 422.78,316.61 422.93,317.04 423.08,316.29 423.23,315.81 423.38,315.15 423.53,316.11 423.68,317.05 423.82,318.16 423.97,318.30 424.12,317.92 424.27,317.26 424.42,317.33 424.57,317.66 424.72,317.57 424.87,316.63 425.02,316.20 425.17,316.88 425.31,317.85 425.46,318.58 425.61,318.04 425.76,317.28 425.91,317.26 426.06,317.75 426.21,317.99 426.36,317.20 426.51,316.80 426.66,316.65 426.81,317.00 426.95,316.95 427.10,316.44 427.25,316.94 427.40,317.46 427.55,317.36 427.70,317.02 427.85,317.27 428.00,317.85 428.15,317.52 428.30,317.16 428.44,316.64 428.59,316.82 428.74,317.43 428.89,317.87 429.04,317.94 429.19,318.09 429.34,318.09 429.49,318.11 429.64,318.16 429.79,318.18 429.93,317.76 430.08,317.24 430.23,316.73 430.38,316.19 430.53,316.70 430.68,317.38 430.83,319.05 430.98,317.60 431.13,318.13 431.28,318.27 431.42,317.99 431.57,317.73 431.72,317.70 431.87,318.02 432.02,318.57 432.17,318.30 432.32,317.81 432.47,317.95 432.62,318.05 432.77,317.57 432.91,317.76 433.06,317.95 433.21,317.44 433.36,316.80 433.51,317.77 433.66,318.62 433.81,318.71 433.96,317.35 434.11,316.65 434.26,316.91 434.40,317.66 434.55,318.09 434.70,318.04 434.85,318.21 435.00,318.33 435.15,318.16 435.30,317.66 435.45,317.17 435.60,319.03 435.75,317.09 435.89,317.24 436.04,317.56 436.19,317.94 436.34,319.44 436.49,317.59 436.64,317.92 436.79,317.92 436.94,318.15 437.09,317.56 437.24,317.29 437.39,317.24 437.53,317.29 437.68,317.03 437.83,316.93 437.98,317.64 438.13,318.21 438.28,318.48 438.43,318.24 438.58,318.22 438.73,318.48 438.88,318.51 439.02,318.22 439.17,317.95 439.32,317.28 439.47,316.84 439.62,316.99 439.77,317.91 439.92,317.88 440.07,317.94 440.22,317.64 440.37,317.51 440.51,317.78 440.66,317.75 440.81,317.47 440.96,317.02 441.11,317.41 441.26,317.27 441.41,317.48 441.56,317.29 441.71,316.86 441.86,316.78 442.00,316.93 442.15,317.29 442.30,317.31 442.45,317.43 442.60,317.13 442.75,317.12 442.90,317.50 443.05,317.47 443.20,317.32 443.35,316.77 443.49,316.75 443.64,316.34 443.79,316.60 443.94,316.74 444.09,317.96 444.24,318.64 444.39,318.65 444.54,318.14 444.69,317.94 444.84,317.55 444.98,316.34 445.13,316.46 445.28,317.32 445.43,317.39 445.58,316.99 445.73,317.43 445.88,317.86 446.03,317.74 446.18,317.06 446.33,316.94 446.48,316.86 446.62,317.68 446.77,317.95 446.92,317.97 447.07,317.88 447.22,317.58 447.37,317.85 447.52,317.79 447.67,318.06 447.82,317.71 447.97,317.66 448.11,317.57 448.26,317.80 448.41,318.28 448.56,318.53 448.71,318.18 448.86,317.75 449.01,317.56 449.16,317.44 449.31,316.84 449.46,316.86 449.60,317.09 449.75,316.91 449.90,316.72 450.05,317.09 450.20,317.59 450.35,317.23 450.50,316.84 450.65,317.31 450.80,317.65 450.95,317.50 451.09,317.84 451.24,318.47 451.39,318.21 451.54,316.79 451.69,316.62 451.84,316.58 451.99,317.00 452.14,316.78 452.29,316.60 452.44,317.04 452.58,317.63 452.73,318.26 452.88,318.08 453.03,317.87 453.18,317.45 453.33,317.19 453.48,317.68 453.63,317.92 453.78,317.87 453.93,318.00 454.07,318.24 454.22,318.38 454.37,317.61 454.52,317.44 454.67,316.96 454.82,317.15 454.97,316.93 455.12,317.31 455.27,317.19 455.42,317.51 455.56,317.62 455.71,317.70 455.86,317.57 456.01,316.99 456.16,316.26 456.31,316.63 456.46,317.61 456.61,317.67 456.76,317.66 456.91,317.61 457.06,317.96 457.20,317.62 457.35,317.87 457.50,317.87 457.65,317.35 457.80,317.10 457.95,316.97 458.10,317.41 458.25,317.37 458.40,317.21 458.55,316.91 458.69,317.27 458.84,317.37 458.99,316.36 459.14,317.50 459.29,317.73 459.44,317.70 459.59,317.82 459.74,317.69 459.89,317.55 460.04,318.07 460.18,318.07 460.33,317.56 460.48,316.79 460.63,317.71 460.78,317.65 460.93,317.54 461.08,317.35 461.23,317.62 461.38,317.38 461.53,316.94 461.67,316.73 461.82,316.69 461.97,317.20 462.12,317.56 462.27,317.54 462.42,317.65 462.57,318.21 462.72,317.82 462.87,317.54 463.02,317.16 463.16,316.83 463.31,316.26 463.46,316.77 463.61,317.61 463.76,317.47 463.91,317.63 464.06,317.94 464.21,318.14 464.36,317.41 464.51,317.37 464.65,317.36 464.80,317.81 464.95,317.93 465.10,318.16 465.25,317.74 465.40,317.08 465.55,316.93 465.70,315.66 465.85,317.18 466.00,317.11 466.15,317.19 466.29,317.42 466.44,317.15 466.59,317.62 466.74,317.46 466.89,317.99 467.04,318.09 467.19,318.03 467.34,317.27 467.49,317.17 467.64,317.68 467.78,317.85 467.93,316.97 468.08,316.20 468.23,316.36 468.38,317.61 468.53,317.99 468.68,317.33 468.83,316.93 468.98,317.40 469.13,317.88 469.27,317.68 469.42,316.82 469.57,316.94 469.72,317.28 469.87,318.08 470.02,317.18 470.17,317.11 470.32,316.80 470.47,316.99 470.62,317.12 470.76,317.89 470.91,318.08 471.06,317.78 471.21,317.17 471.36,316.97 471.51,316.74 471.66,317.01 471.81,317.39 471.96,317.19 472.11,317.40 472.25,317.73 472.40,318.04 472.55,317.24 472.70,316.09 472.85,316.01 473.00,316.40 473.15,317.10 473.30,316.88 473.45,316.98 473.60,317.04 473.74,317.36 473.89,317.46 474.04,317.59 474.19,317.89 474.34,317.63 474.49,317.57 474.64,317.48 474.79,317.53 474.94,316.93 475.09,317.28 475.24,317.73 475.38,317.76 475.53,317.24 475.68,318.76 475.83,317.22 475.98,316.71 476.13,316.66 476.28,316.93 476.43,317.24 476.58,317.49 476.73,317.26 476.87,316.81 477.02,316.59 477.17,317.37 477.32,317.92 477.47,318.08 477.62,317.14 477.77,316.80 477.92,316.98 478.07,317.87 478.22,317.53 478.36,317.41 478.51,317.63 478.66,318.40 478.81,318.38 478.96,317.51 479.11,316.86 479.26,317.13 479.41,317.76 479.56,318.32 479.71,318.20 479.85,317.51 480.00,316.63 480.15,316.93 480.30,317.13 480.45,316.85 480.60,316.36 480.75,317.00 480.90,317.61 481.05,317.67 481.20,317.49 481.34,317.75 481.49,317.54 481.64,317.36 481.79,317.41 481.94,317.00 482.09,316.14 482.24,316.23 482.39,317.17 482.54,317.47 482.69,317.00 482.83,316.85 482.98,316.50 483.13,316.76 483.28,316.89 483.43,317.37 483.58,317.01 483.73,317.25 483.88,316.68 484.03,316.29 484.18,316.36 484.32,317.01 484.47,317.60 484.62,317.78 484.77,317.65 484.92,317.42 485.07,317.45 485.22,317.74 485.37,317.28 485.52,317.00 485.67,317.04 485.82,317.39 485.96,317.28 486.11,316.70 486.26,316.86 486.41,317.80 486.56,317.92 486.71,317.66 486.86,316.37 487.01,315.82 487.16,315.98 487.31,317.59 487.45,318.14 487.60,317.94 487.75,317.57 487.90,317.83 488.05,317.40 488.20,317.30 488.35,317.03 488.50,317.15 488.65,316.96 488.80,317.06 488.94,316.90 489.09,316.77 489.24,316.59 489.39,317.21 489.54,317.76 489.69,317.84 489.84,317.76 489.99,318.15 490.14,318.39 490.29,317.65 490.43,317.22 490.58,317.33 490.73,317.96 490.88,317.90 491.03,317.38 491.18,317.62 491.33,318.40 491.48,318.58 491.63,317.47 491.78,317.06 491.92,317.45 492.07,318.04 492.22,318.10 492.37,317.77 492.52,317.81 492.67,317.47 492.82,317.14 492.97,316.64 493.12,316.62 493.27,317.35 493.41,317.24 493.56,317.14 493.71,316.42 493.86,316.43 494.01,316.36 494.16,316.31 494.31,316.49 494.46,317.33 494.61,318.03 494.76,317.94 494.91,317.02 495.05,317.07 495.20,316.59 495.35,316.71 495.50,316.69 495.65,317.79 495.80,317.94 495.95,317.63 496.10,316.74 496.25,316.37 496.40,316.65 496.54,317.48 496.69,317.81 496.84,317.59 496.99,317.14 497.14,317.27 497.29,317.26 497.44,316.93 497.59,316.36 497.74,316.57 497.89,316.60 498.03,316.54 498.18,316.34 498.33,316.61 498.48,316.56 498.63,316.86 498.78,317.34 498.93,316.52 499.08,316.62 499.23,316.75 499.38,317.67 499.52,317.26 499.67,317.10 499.82,316.71 499.97,317.79 500.12,318.80 500.27,318.54 500.42,317.41 500.57,317.33 500.72,317.71 500.87,317.61 501.01,317.14 501.16,316.59 501.31,316.70 501.46,317.30 501.61,318.37 501.76,318.08 501.91,317.64 502.06,317.05 502.21,317.54 502.36,317.44 502.50,317.10 502.65,316.11 502.80,316.26 502.95,316.76 503.10,317.59 503.25,317.29 503.40,317.87 503.55,317.62 503.70,317.61 503.85,318.28 503.99,317.61 504.14,317.46 504.29,316.91 504.44,316.17 504.59,316.46 504.74,316.97 504.89,317.31 505.04,316.82 505.19,316.71 505.34,316.77 505.49,317.22 505.63,316.76 505.78,316.22 505.93,316.64 506.08,317.24 506.23,317.23 506.38,316.59 506.53,316.20 506.68,315.77 506.83,316.06 506.98,316.47 507.12,317.33 507.27,317.02 507.42,316.25 507.57,315.44 507.72,315.69 507.87,316.65 508.02,316.90 508.17,317.25 508.32,316.47 508.47,316.60 508.61,316.86 508.76,317.69 508.91,317.61 509.06,317.46 509.21,317.15 509.36,317.33 509.51,317.11 509.66,317.09 509.81,316.71 509.96,316.94 510.10,316.82 510.25,316.68 510.40,316.20 510.55,316.75 510.70,316.69 510.85,316.11 511.00,315.85 511.15,316.25 511.30,316.39 511.45,316.09 511.59,317.12 511.74,317.34 511.89,316.95 512.04,316.10 512.19,316.42 512.34,316.87 512.49,316.55 512.64,316.41 512.79,317.07 512.94,317.12 513.08,316.77 513.23,316.64 513.38,317.27 513.53,316.96 513.68,315.93 513.83,316.03 513.98,316.36 514.13,316.88 514.28,316.89 514.43,316.40 514.58,316.07 514.72,316.11 514.87,317.14 515.02,317.36 515.17,317.80 515.32,317.81 515.47,317.75 515.62,317.42 515.77,316.84 515.92,316.04 516.07,316.52 516.21,317.20 516.36,317.17 516.51,316.12 516.66,315.96 516.81,315.67 516.96,315.78 517.11,316.14 517.26,316.41 517.41,316.26 517.56,316.52 517.70,317.13 517.85,317.40 518.00,317.29 518.15,317.01 518.30,316.56 518.45,315.61 518.60,315.84 518.75,316.19 518.90,316.73 519.05,316.17 519.19,316.32 519.34,316.69 519.49,317.09 519.64,316.34 519.79,315.69 519.94,315.70 520.09,316.01 520.24,316.31 520.39,316.77 520.54,316.85 520.68,316.49 520.83,316.01 520.98,316.51 521.13,317.03 521.28,318.07 521.43,317.93 521.58,317.07 521.73,316.26 521.88,316.32 522.03,316.60 522.17,316.90 522.32,316.99 522.47,317.00 522.62,316.04 522.77,316.16 522.92,316.31 523.07,316.80 523.22,316.26 523.37,316.64 523.52,316.75 523.66,317.10 523.81,316.68 523.96,316.66 524.11,316.43 524.26,317.26 524.41,317.49 524.56,317.27 524.71,316.60 524.86,316.39 525.01,316.10 525.16,316.65 525.30,317.46 525.45,317.40 525.60,316.65 525.75,315.90 525.90,316.27 526.05,316.65 526.20,317.03 526.35,316.42 526.50,316.34 526.65,316.66 526.79,316.84 526.94,316.74 527.09,316.22 527.24,315.86 527.39,315.40 527.54,315.82 527.69,316.64 527.84,317.12 527.99,317.26 528.14,316.84 528.28,316.57 528.43,316.49 528.58,316.81 528.73,317.33 528.88,317.41 529.03,316.93 529.18,315.49 529.33,315.04 529.48,315.20 529.63,315.41 529.77,314.88 529.92,315.03 530.07,315.50 530.22,316.01 530.37,316.87 530.52,316.76 530.67,316.41 530.82,315.49 530.97,315.43 531.12,315.47 531.26,316.10 531.41,316.05 531.56,316.20 531.71,316.03 531.86,316.51 532.01,316.33 532.16,316.80 532.31,316.77 532.46,316.65 532.61,316.43 532.75,315.90 532.90,315.38 533.05,315.12 533.20,316.07 533.35,316.42 533.50,316.31" fill="none" stroke="#000000" stroke-width="3.2" stroke-linejoin="round"/>
<path d="M56.80,279.41 56.95,279.74 57.10,280.09 57.25,279.76 57.40,279.32 57.55,279.19 57.69,279.48 57.84,279.23 57.99,279.28 58.14,279.41 58.29,279.98 58.44,280.08 58.59,280.05 58.74,279.51 58.89,279.74 59.04,279.53 59.18,279.74 59.33,279.46 59.48,279.56 59.63,279.21 59.78,279.16 59.93,279.39 60.08,279.55 60.23,279.91 60.38,279.61 60.53,279.43 60.67,279.11 60.82,279.53 60.97,279.24 61.12,279.17 61.27,279.17 61.42,279.32 61.57,279.46 61.72,279.60 61.87,280.00 62.02,280.05 62.16,279.84 62.31,279.39 62.46,279.20 62.61,279.54 62.76,279.90 62.91,279.81 63.06,279.47 63.21,279.18 63.36,279.19 63.51,279.27 63.65,279.41 63.80,279.90 63.95,279.98 64.10,279.80 64.25,279.52 64.40,279.49 64.55,279.39 64.70,279.34 64.85,279.68 65.00,279.55 65.14,279.67 65.29,279.63 65.44,279.79 65.59,279.73 65.74,279.95 65.89,280.10 66.04,280.00 66.19,279.83 66.34,279.68 66.49,279.49 66.64,279.64 66.78,279.57 66.93,279.41 67.08,279.53 67.23,279.84 67.38,279.73 67.53,279.63 67.68,279.77 67.83,280.05 67.98,279.65 68.13,279.55 68.27,279.09 68.42,278.81 68.57,278.66 68.72,279.00 68.87,279.54 69.02,280.21 69.17,280.13 69.32,279.96 69.47,279.53 69.62,279.59 69.76,279.17 69.91,278.93 70.06,278.81 70.21,278.90 70.36,279.14 70.51,280.81 70.66,279.62 70.81,279.76 70.96,279.84 71.11,279.82 71.25,279.94 71.40,279.86 71.55,279.60 71.70,279.47 71.85,279.67 72.00,279.89 72.15,279.96 72.30,279.87 72.45,279.65 72.60,279.59 72.74,279.25 72.89,279.47 73.04,279.55 73.19,279.76 73.34,279.62 73.49,279.62 73.64,279.50 73.79,279.58 73.94,279.69 74.09,279.50 74.23,279.29 74.38,279.04 74.53,279.36 74.68,279.45 74.83,279.65 74.98,279.76 75.13,280.30 75.28,280.30 75.43,279.88 75.58,280.87 75.72,280.01 75.87,279.90 76.02,279.61 76.17,279.54 76.32,279.66 76.47,279.71 76.62,279.62 76.77,279.35 76.92,278.95 77.07,278.37 77.22,278.41 77.36,278.94 77.51,279.31 77.66,279.42 77.81,279.49 77.96,279.66 78.11,279.36 78.26,279.19 78.41,279.05 78.56,278.93 78.71,278.94 78.85,279.21 79.00,278.56 79.15,279.31 79.30,279.25 79.45,279.05 79.60,279.05 79.75,279.00 79.90,279.16 80.05,279.14 80.20,278.30 80.34,279.03 80.49,278.87 80.64,278.78 80.79,279.07 80.94,279.23 81.09,279.54 81.24,279.52 81.39,278.89 81.54,278.27 81.69,278.68 81.83,279.34 81.98,279.23 82.13,278.74 82.28,278.94 82.43,279.33 82.58,279.58 82.73,279.39 82.88,279.45 83.03,279.53 83.18,279.19 83.32,278.94 83.47,278.93 83.62,279.09 83.77,279.06 83.92,279.08 84.07,278.53 84.22,278.48 84.37,278.93 84.52,279.40 84.67,278.97 84.81,278.80 84.96,278.62 85.11,278.65 85.26,278.65 85.41,278.78 85.56,278.54 85.71,278.42 85.86,278.69 86.01,279.20 86.16,279.41 86.31,279.15 86.45,278.71 86.60,278.69 86.75,279.08 86.90,278.99 87.05,278.87 87.20,278.35 87.35,278.37 87.50,278.33 87.65,278.51 87.80,278.18 87.94,278.13 88.09,278.62 88.24,278.84 88.39,278.96 88.54,278.76 88.69,279.03 88.84,278.95 88.99,279.02 89.14,278.81 89.29,278.86 89.43,279.13 89.58,279.49 89.73,279.54 89.88,279.07 90.03,278.41 90.18,278.10 90.33,278.15 90.48,278.38 90.63,278.49 90.78,278.48 90.92,278.57 91.07,278.36 91.22,278.05 91.37,278.17 91.52,278.68 91.67,278.74 91.82,278.67 91.97,278.50 92.12,278.41 92.27,277.86 92.41,278.03 92.56,278.21 92.71,278.67 92.86,278.69 93.01,278.67 93.16,278.45 93.31,278.52 93.46,278.51 93.61,278.36 93.76,278.13 93.90,278.30 94.05,278.51 94.20,278.83 94.35,278.71 94.50,278.62 94.65,278.22 94.80,278.20 94.95,278.05 95.10,278.43 95.25,278.50 95.39,278.31 95.54,278.01 95.69,278.00 95.84,277.98 95.99,277.76 96.14,277.51 96.29,277.99 96.44,278.27 96.59,278.43 96.74,277.75 96.89,277.37 97.03,277.15 97.18,277.36 97.33,277.67 97.48,277.55 97.63,277.53 97.78,277.73 97.93,277.77 98.08,277.66 98.23,277.30 98.38,277.38 98.52,277.33 98.67,277.79 98.82,277.65 98.97,277.44 99.12,277.33 99.27,277.27 99.42,277.07 99.57,276.76 99.72,276.76 99.87,276.86 100.01,277.19 100.16,277.75 100.31,277.95 100.46,277.94 100.61,277.41 100.76,276.98 100.91,276.72 101.06,276.33 101.21,276.49 101.36,276.54 101.50,276.58 101.65,276.99 101.80,276.40 101.95,276.85 102.10,276.84 102.25,276.62 102.40,276.39 102.55,276.21 102.70,276.06 102.85,276.11 102.99,275.96 103.14,275.99 103.29,275.82 103.44,275.94 103.59,275.63 103.74,275.65 103.89,275.46 104.04,275.74 104.19,274.24 104.34,275.65 104.48,275.83 104.63,276.00 104.78,275.86 104.93,275.70 105.08,275.73 105.23,274.70 105.38,275.50 105.53,275.63 105.68,273.94 105.83,275.48 105.98,275.51 106.12,275.59 106.27,275.58 106.42,275.12 106.57,274.98 106.72,275.00 106.87,275.19 107.02,275.45 107.17,275.26 107.32,274.98 107.47,275.02 107.61,275.35 107.76,275.39 107.91,275.45 108.06,275.51 108.21,275.41 108.36,275.09 108.51,275.28 108.66,275.46 108.81,275.26 108.96,274.90 109.10,274.54 109.25,274.73 109.40,273.31 109.55,274.97 109.70,274.62 109.85,274.12 110.00,274.17 110.15,274.33 110.30,274.51 110.45,274.45 110.59,274.38 110.74,274.21 110.89,273.92 111.04,273.75 111.19,274.21 111.34,274.49 111.49,274.47 111.64,274.15 111.79,273.66 111.94,273.43 112.08,273.42 112.23,273.78 112.38,273.77 112.53,273.45 112.68,273.44 112.83,273.59 112.98,273.57 113.13,273.07 113.28,272.89 113.43,273.31 113.57,273.42 113.72,273.43 113.87,273.49 114.02,273.31 114.17,273.08 114.32,272.84 114.47,272.59 114.62,272.08 114.77,272.43 114.92,272.94 115.06,273.61 115.21,273.24 115.36,272.95 115.51,272.68 115.66,272.91 115.81,272.99 115.96,272.95 116.11,272.80 116.26,272.20 116.41,271.85 116.56,272.31 116.70,272.98 116.85,273.30 117.00,272.87 117.15,272.53 117.30,272.10 117.45,272.19 117.60,272.26 117.75,272.43 117.90,272.65 118.05,272.51 118.19,272.36 118.34,271.83 118.49,271.99 118.64,271.88 118.79,271.97 118.94,271.76 119.09,272.09 119.24,272.12 119.39,271.85 119.54,271.25 119.68,269.49 119.83,271.16 119.98,271.15 120.13,271.05 120.28,271.29 120.43,271.22 120.58,271.20 120.73,271.41 120.88,271.26 121.03,271.12 121.17,271.29 121.32,271.42 121.47,271.04 121.62,270.40 121.77,270.36 121.92,270.21 122.07,270.38 122.22,270.10 122.37,269.85 122.52,269.62 122.66,269.59 122.81,269.51 122.96,269.46 123.11,269.32 123.26,269.25 123.41,269.33 123.56,269.05 123.71,268.84 123.86,268.67 124.01,269.68 124.15,268.33 124.30,268.19 124.45,268.19 124.60,268.40 124.75,268.29 124.90,268.42 125.05,268.25 125.20,268.39 125.35,268.39 125.50,268.24 125.65,268.08 125.79,268.32 125.94,268.43 126.09,268.09 126.24,267.65 126.39,267.60 126.54,267.38 126.69,267.20 126.84,267.20 126.99,267.37 127.14,267.37 127.28,267.36 127.43,267.39 127.58,267.38 127.73,266.86 127.88,266.81 128.03,266.97 128.18,266.57 128.33,265.71 128.48,265.34 128.63,265.82 128.77,266.22 128.92,266.16 129.07,265.84 129.22,265.66 129.37,265.40 129.52,265.24 129.67,265.06 129.82,265.16 129.97,264.96 130.12,264.68 130.26,264.28 130.41,264.20 130.56,264.38 130.71,264.39 130.86,264.43 131.01,264.30 131.16,262.22 131.31,263.48 131.46,263.43 131.61,263.50 131.75,263.63 131.90,263.68 132.05,263.71 132.20,263.49 132.35,263.18 132.50,262.96 132.65,262.70 132.80,262.50 132.95,261.96 133.10,261.73 133.24,261.46 133.39,261.45 133.54,261.55 133.69,261.87 133.84,261.76 133.99,261.08 134.14,260.47 134.29,260.11 134.44,259.69 134.59,259.21 134.74,258.89 134.88,258.61 135.03,258.59 135.18,258.39 135.33,258.05 135.48,257.68 135.63,257.49 135.78,257.04 135.93,256.49 136.08,256.48 136.23,256.59 136.37,256.55 136.52,256.13 136.67,255.62 136.82,255.46 136.97,255.16 137.12,254.91 137.27,254.35 137.42,254.25 137.57,254.11 137.72,254.37 137.86,253.81 138.01,253.62 138.16,253.28 138.31,253.48 138.46,253.21 138.61,253.00 138.76,252.55 138.91,252.23 139.06,252.05 139.21,251.55 139.35,251.10 139.50,250.83 139.65,250.33 139.80,250.08 139.95,249.93 140.10,249.36 140.25,248.47 140.40,248.52 140.55,249.07 140.70,248.94 140.84,247.92 140.99,247.14 141.14,247.03 141.29,247.13 141.44,246.70 141.59,245.94 141.74,245.59 141.89,245.28 142.04,244.97 142.19,244.49 142.33,244.37 142.48,243.94 142.63,243.33 142.78,242.23 142.93,241.77 143.08,241.56 143.23,241.34 143.38,240.13 143.53,239.17 143.68,238.72 143.82,238.96 143.97,238.72 144.12,238.18 144.27,237.40 144.42,236.99 144.57,236.14 144.72,235.17 144.87,234.23 145.02,233.87 145.17,233.52 145.32,233.26 145.46,232.68 145.61,232.21 145.76,231.63 145.91,231.66 146.06,231.24 146.21,231.20 146.36,230.80 146.51,230.12 146.66,229.15 146.81,228.56 146.95,227.93 147.10,227.18 147.25,226.60 147.40,226.31 147.55,225.47 147.70,224.79 147.85,224.22 148.00,223.74 148.15,222.97 148.30,222.19 148.44,221.42 148.59,220.89 148.74,219.87 148.89,219.50 149.04,219.06 149.19,218.88 149.34,218.15 149.49,217.29 149.64,216.82 149.79,215.99 149.93,215.37 150.08,214.35 150.23,213.98 150.38,213.10 150.53,211.79 150.68,210.54 150.83,209.16 150.98,208.11 151.13,206.93 151.28,206.42 151.42,205.25 151.57,203.82 151.72,202.01 151.87,200.46 152.02,198.96 152.17,197.56 152.32,194.31 152.47,193.63 152.62,191.28 152.77,189.39 152.91,187.63 153.06,185.97 153.21,184.34 153.36,183.08 153.51,182.29 153.66,181.42 153.81,180.13 153.96,178.31 154.11,175.99 154.26,173.86 154.41,172.29 154.55,171.17 154.70,170.11 154.85,170.60 155.00,167.79 155.15,167.01 155.30,166.25 155.45,165.45 155.60,164.38 155.75,163.46 155.90,162.39 156.04,160.88 156.19,159.14 156.34,156.92 156.49,155.16 156.64,153.53 156.79,152.16 156.94,150.59 157.09,148.96 157.24,146.92 157.39,144.45 157.53,141.21 157.68,141.01 157.83,139.91 157.98,138.62 158.13,137.89 158.28,137.26 158.43,135.89 158.58,133.89 158.73,132.40 158.88,130.98 159.02,128.78 159.17,128.82 159.32,127.51 159.47,125.97 159.62,124.70 159.77,123.93 159.92,123.13 160.07,122.91 160.22,122.20 160.37,121.55 160.51,120.78 160.66,120.38 160.81,119.78 160.96,119.15 161.11,118.30 161.26,117.58 161.41,116.98 161.56,116.84 161.71,116.43 161.86,116.02 162.00,115.57 162.15,115.11 162.30,114.59 162.45,112.24 162.60,112.96 162.75,111.97 162.90,111.11 163.05,110.45 163.20,110.05 163.35,108.93 163.49,107.34 163.64,105.61 163.79,103.94 163.94,104.09 164.09,105.04 164.24,108.73 164.39,114.69 164.54,117.06 164.69,118.24 164.84,119.19 164.99,120.14 165.13,120.83 165.28,121.55 165.43,122.33 165.58,123.18 165.73,123.74 165.88,124.75 166.03,125.97 166.18,127.31 166.33,128.24 166.48,129.00 166.62,130.08 166.77,131.22 166.92,133.67 167.07,133.38 167.22,134.45 167.37,135.44 167.52,136.27 167.67,137.63 167.82,138.40 167.97,139.07 168.11,140.19 168.26,141.72 168.41,142.39 168.56,143.32 168.71,144.91 168.86,146.97 169.01,148.47 169.16,150.05 169.31,151.90 169.46,154.03 169.60,156.15 169.75,158.17 169.90,160.07 170.05,161.51 170.20,162.90 170.35,164.34 170.50,165.84 170.65,166.36 170.80,167.34 170.95,168.83 171.09,170.85 171.24,174.80 171.39,175.99 171.54,178.34 171.69,179.89 171.84,181.14 171.99,182.09 172.14,183.20 172.29,184.41 172.44,185.31 172.58,187.20 172.73,190.53 172.88,194.47 173.03,197.26 173.18,199.36 173.33,201.37 173.48,203.45 173.63,204.95 173.78,206.30 173.93,207.90 174.08,209.75 174.22,211.68 174.37,213.23 174.52,214.26 174.67,214.75 174.82,215.35 174.97,216.08 175.12,217.30 175.27,216.61 175.42,218.98 175.57,219.81 175.71,220.79 175.86,221.78 176.01,222.81 176.16,223.90 176.31,224.66 176.46,225.86 176.61,227.40 176.76,228.38 176.91,229.32 177.06,230.19 177.20,231.23 177.35,231.91 177.50,232.79 177.65,233.71 177.80,234.65 177.95,235.30 178.10,236.33 178.25,237.29 178.40,238.06 178.55,238.04 178.69,238.57 178.84,239.48 178.99,239.65 179.14,241.65 179.29,242.80 179.44,243.42 179.59,243.99 179.74,244.28 179.89,244.81 180.04,245.57 180.18,246.34 180.33,246.89 180.48,247.13 180.63,247.78 180.78,248.52 180.93,249.15 181.08,249.40 181.23,249.84 181.38,250.35 181.53,250.96 181.67,251.50 181.82,252.26 181.97,252.43 182.12,253.06 182.27,253.92 182.42,255.15 182.57,255.88 182.72,256.11 182.87,255.96 183.02,256.08 183.16,257.00 183.31,257.58 183.46,257.91 183.61,258.48 183.76,259.01 183.91,259.49 184.06,260.04 184.21,260.68 184.36,261.14 184.51,261.41 184.66,261.50 184.80,261.52 184.95,261.90 185.10,262.47 185.25,262.87 185.40,263.29 185.55,263.70 185.70,264.00 185.85,264.10 186.00,262.69 186.15,264.39 186.29,264.60 186.44,265.12 186.59,265.20 186.74,265.38 186.89,265.18 187.04,265.51 187.19,265.89 187.34,266.43 187.49,266.94 187.64,266.94 187.78,267.01 187.93,266.91 188.08,267.31 188.23,267.60 188.38,267.89 188.53,268.17 188.68,268.72 188.83,269.14 188.98,269.33 189.13,269.32 189.27,269.37 189.42,269.28 189.57,269.28 189.72,269.60 189.87,269.73 190.02,270.07 190.17,270.29 190.32,270.54 190.47,270.43 190.62,270.78 190.76,271.22 190.91,271.47 191.06,271.79 191.21,272.36 191.36,272.24 191.51,271.98 191.66,271.66 191.81,271.66 191.96,271.48 192.11,271.96 192.25,272.35 192.40,272.39 192.55,272.55 192.70,272.92 192.85,273.04 193.00,273.17 193.15,273.38 193.30,273.29 193.45,272.78 193.60,272.69 193.75,272.98 193.89,273.47 194.04,273.84 194.19,273.90 194.34,273.56 194.49,273.58 194.64,273.78 194.79,273.81 194.94,273.42 195.09,273.51 195.24,275.67 195.38,274.37 195.53,274.21 195.68,274.44 195.83,274.22 195.98,274.27 196.13,274.34 196.28,275.01 196.43,274.89 196.58,274.71 196.73,274.90 196.87,275.31 197.02,275.06 197.17,275.10 197.32,276.28 197.47,274.96 197.62,274.63 197.77,274.85 197.92,274.89 198.07,275.24 198.22,275.21 198.36,275.27 198.51,275.57 198.66,275.95 198.81,276.00 198.96,275.93 199.11,275.84 199.26,274.05 199.41,275.67 199.56,275.98 199.71,276.50 199.85,276.93 200.00,276.79 200.15,276.26 200.30,275.83 200.45,275.50 200.60,275.78 200.75,276.32 200.90,276.38 201.05,276.03 201.20,276.52 201.34,277.14 201.49,277.15 201.64,276.79 201.79,276.58 201.94,276.25 202.09,276.07 202.24,276.29 202.39,276.55 202.54,276.84 202.69,277.22 202.84,277.46 202.98,277.45 203.13,277.11 203.28,276.72 203.43,276.93 203.58,278.51 203.73,277.76 203.88,277.35 204.03,276.84 204.18,276.81 204.33,276.70 204.47,276.79 204.62,276.60 204.77,277.03 204.92,277.28 205.07,277.59 205.22,277.19 205.37,277.07 205.52,276.78 205.67,277.14 205.82,277.06 205.96,277.16 206.11,276.92 206.26,276.82 206.41,277.00 206.56,277.38 206.71,277.85 206.86,277.88 207.01,277.89 207.16,276.62 207.31,278.30 207.45,278.33 207.60,278.05 207.75,277.57 207.90,277.38 208.05,277.44 208.20,277.52 208.35,277.83 208.50,278.11 208.65,278.18 208.80,278.12 208.94,277.89 209.09,277.75 209.24,277.26 209.39,277.17 209.54,277.31 209.69,278.28 209.84,278.40 209.99,278.29 210.14,277.88 210.29,277.85 210.43,277.84 210.58,278.05 210.73,278.09 210.88,277.55 211.03,277.52 211.18,276.58 211.33,278.20 211.48,278.32 211.63,278.65 211.78,278.56 211.92,278.87 212.07,279.05 212.22,279.36 212.37,279.19 212.52,278.82 212.67,278.24 212.82,278.14 212.97,278.47 213.12,278.69 213.27,279.21 213.42,279.36 213.56,279.44 213.71,279.07 213.86,278.85 214.01,278.91 214.16,279.19 214.31,279.58 214.46,279.26 214.61,280.54 214.76,278.98 214.91,279.39 215.05,279.23 215.20,279.23 215.35,279.40 215.50,279.64 215.65,279.29 215.80,279.30 215.95,279.58 216.10,279.00 216.25,279.87 216.40,280.02 216.54,279.82 216.69,279.24 216.84,279.06 216.99,279.16 217.14,279.61 217.29,279.50 217.44,279.88 217.59,279.88 217.74,280.04 217.89,280.03 218.03,280.10 218.18,279.96 218.33,279.79 218.48,279.64 218.63,279.81 218.78,279.82 218.93,279.57 219.08,279.19 219.23,279.46 219.38,279.82 219.52,279.87 219.67,279.75 219.82,279.36 219.97,279.45 220.12,280.04 220.27,280.39 220.42,279.81 220.57,279.58 220.72,279.85 220.87,279.41 221.01,278.92 221.16,278.90 221.31,279.39 221.46,279.93 221.61,280.59 221.76,280.74 221.91,280.32 222.06,280.46 222.21,280.40 222.36,280.38 222.51,280.10 222.65,280.39 222.80,280.40 222.95,280.36 223.10,280.36 223.25,280.54 223.40,281.00 223.55,280.83 223.70,280.63 223.85,280.20 224.00,280.47 224.14,280.43 224.29,280.45 224.44,280.52 224.59,280.85 224.74,280.87 224.89,280.68 225.04,280.65 225.19,280.73 225.34,280.66 225.49,280.17 225.63,280.21 225.78,280.28 225.93,280.85 226.08,280.85 226.23,281.55 226.38,281.61 226.53,281.52 226.68,281.06 226.83,280.62 226.98,280.44 227.12,280.31 227.27,280.54 227.42,280.16 227.57,279.70 227.72,279.82 227.87,280.40 228.02,280.69 228.17,280.52 228.32,280.41 228.47,280.38 228.61,280.54 228.76,280.69 228.91,280.86 229.06,280.67 229.21,280.29 229.36,279.97 229.51,280.16 229.66,280.32 229.81,280.32 229.96,280.30 230.10,280.68 230.25,281.01 230.40,281.31 230.55,281.01 230.70,280.81 230.85,280.92 231.00,281.16 231.15,281.02 231.30,280.63 231.45,280.71 231.59,280.86 231.74,281.16 231.89,281.03 232.04,281.32 232.19,281.27 232.34,280.94 232.49,280.53 232.64,280.72 232.79,281.21 232.94,281.14 233.09,280.84 233.23,280.55 233.38,280.59 233.53,280.29 233.68,280.38 233.83,280.87 233.98,281.16 234.13,280.72 234.28,280.45 234.43,280.50 234.58,280.80 234.72,280.81 234.87,281.00 235.02,280.70 235.17,280.44 235.32,280.04 235.47,280.00 235.62,280.36 235.77,280.93 235.92,281.25 236.07,281.17 236.21,280.61 236.36,280.65 236.51,280.59 236.66,281.11 236.81,281.51 236.96,281.83 237.11,281.56 237.26,281.27 237.41,281.02 237.56,280.58 237.70,280.35 237.85,280.66 238.00,281.08 238.15,281.28 238.30,281.42 238.45,281.24 238.60,280.86 238.75,280.61 238.90,280.79 239.05,280.79 239.19,280.89 239.34,280.88 239.49,280.90 239.64,280.77 239.79,280.81 239.94,280.98 240.09,281.13 240.24,281.40 240.39,281.30 240.54,281.11 240.68,280.86 240.83,280.91 240.98,281.32 241.13,281.68 241.28,281.66 241.43,281.57 241.58,281.72 241.73,281.44 241.88,281.10 242.03,281.16 242.18,281.35 242.32,281.16 242.47,281.07 242.62,281.22 242.77,281.48 242.92,281.40 243.07,281.46 243.22,281.76 243.37,282.16 243.52,281.71 243.67,280.90 243.81,280.52 243.96,280.77 244.11,280.76 244.26,280.97 244.41,281.42 244.56,282.04 244.71,281.79 244.86,281.27 245.01,280.96 245.16,280.94 245.30,281.27 245.45,281.36 245.60,281.16 245.75,280.88 245.90,281.16 246.05,281.65 246.20,281.94 246.35,281.84 246.50,281.06 246.65,280.79 246.79,281.14 246.94,281.87 247.09,281.51 247.24,280.94 247.39,280.92 247.54,281.67 247.69,282.13 247.84,281.82 247.99,281.67 248.14,281.41 248.28,281.07 248.43,280.78 248.58,280.97 248.73,281.36 248.88,281.61 249.03,281.28 249.18,281.01 249.33,281.02 249.48,281.13 249.63,280.92 249.77,280.90 249.92,281.23 250.07,281.15 250.22,280.94 250.37,280.67 250.52,280.86 250.67,281.00 250.82,281.05 250.97,281.09 251.12,281.20 251.26,281.03 251.41,281.06 251.56,281.41 251.71,281.71 251.86,281.28 252.01,281.21 252.16,281.15 252.31,280.89 252.46,280.59 252.61,281.13 252.76,281.51 252.90,281.50 253.05,281.49 253.20,281.65 253.35,281.41 253.50,281.14 253.65,281.23 253.80,281.23 253.95,281.22 254.10,281.27 254.25,281.31 254.39,281.32 254.54,281.38 254.69,281.38 254.84,281.17 254.99,281.09 255.14,281.14 255.29,281.12 255.44,280.91 255.59,280.91 255.74,281.15 255.88,283.27 256.03,281.32 256.18,281.20 256.33,281.27 256.48,281.26 256.63,281.15 256.78,281.10 256.93,281.15 257.08,281.08 257.23,281.11 257.37,280.74 257.52,280.61 257.67,280.58 257.82,280.88 257.97,281.02 258.12,281.22 258.27,281.09 258.42,280.97 258.57,281.13 258.72,281.07 258.86,280.84 259.01,280.84 259.16,281.34 259.31,281.51 259.46,281.47 259.61,281.08 259.76,280.98 259.91,280.86 260.06,280.76 260.21,280.65 260.35,280.66 260.50,280.40 260.65,280.22 260.80,280.42 260.95,280.92 261.10,280.95 261.25,279.56 261.40,280.36 261.55,280.25 261.70,280.28 261.85,280.25 261.99,280.48 262.14,280.53 262.29,280.38 262.44,280.47 262.59,280.68 262.74,280.40 262.89,280.02 263.04,280.10 263.19,280.25 263.34,279.85 263.48,279.72 263.63,279.83 263.78,280.45 263.93,280.57 264.08,280.30 264.23,279.88 264.38,279.87 264.53,279.89 264.68,279.72 264.83,279.80 264.97,279.94 265.12,279.92 265.27,279.45 265.42,279.29 265.57,278.88 265.72,279.07 265.87,279.04 266.02,279.33 266.17,279.37 266.32,279.24 266.46,278.03 266.61,279.00 266.76,279.29 266.91,279.02 267.06,278.71 267.21,278.67 267.36,278.88 267.51,278.91 267.66,278.41 267.81,278.46 267.95,278.50 268.10,278.53 268.25,278.14 268.40,278.13 268.55,278.28 268.70,278.39 268.85,278.30 269.00,278.05 269.15,278.26 269.30,278.65 269.44,278.67 269.59,278.10 269.74,277.78 269.89,277.58 270.04,277.62 270.19,277.70 270.34,277.97 270.49,278.16 270.64,278.48 270.79,278.50 270.94,278.02 271.08,277.78 271.23,277.93 271.38,277.74 271.53,277.24 271.68,276.96 271.83,276.85 271.98,276.64 272.13,276.94 272.28,277.12 272.43,278.99 272.57,276.86 272.72,277.10 272.87,277.04 273.02,277.24 273.17,276.79 273.32,276.58 273.47,276.35 273.62,276.61 273.77,276.69 273.92,276.75 274.06,276.49 274.21,276.27 274.36,276.22 274.51,276.09 274.66,275.90 274.81,275.66 274.96,275.46 275.11,275.61 275.26,275.52 275.41,275.70 275.55,275.69 275.70,275.48 275.85,274.68 276.00,274.45 276.15,274.57 276.30,274.75 276.45,274.88 276.60,275.08 276.75,274.89 276.90,274.56 277.04,274.67 277.19,274.66 277.34,274.82 277.49,274.97 277.64,274.93 277.79,274.47 277.94,274.41 278.09,274.40 278.24,274.25 278.39,274.17 278.53,274.13 278.68,273.97 278.83,273.87 278.98,273.93 279.13,274.08 279.28,274.14 279.43,274.52 279.58,274.51 279.73,274.30 279.88,273.85 280.02,273.63 280.17,273.82 280.32,273.97 280.47,273.88 280.62,273.54 280.77,273.54 280.92,273.80 281.07,273.66 281.22,273.69 281.37,274.03 281.52,273.94 281.66,273.82 281.81,273.38 281.96,273.39 282.11,273.10 282.26,273.30 282.41,273.34 282.56,273.27 282.71,273.24 282.86,273.54 283.01,273.91 283.15,274.09 283.30,273.98 283.45,273.55 283.60,273.43 283.75,273.60 283.90,273.92 284.05,273.51 284.20,273.18 284.35,272.85 284.50,272.84 284.64,272.99 284.79,274.17 284.94,273.12 285.09,272.75 285.24,272.53 285.39,272.48 285.54,272.87 285.69,273.00 285.84,273.03 285.99,273.01 286.13,273.07 286.28,273.10 286.43,273.33 286.58,273.51 286.73,273.38 286.88,273.30 287.03,273.62 287.18,273.96 287.33,273.68 287.48,273.66 287.62,273.76 287.77,274.03 287.92,273.96 288.07,274.10 288.22,274.26 288.37,274.57 288.52,274.66 288.67,274.56 288.82,274.46 288.97,274.50 289.11,274.72 289.26,274.76 289.41,274.92 289.56,274.73 289.71,274.86 289.86,274.99 290.01,274.98 290.16,274.71 290.31,274.71 290.46,274.72 290.61,274.58 290.75,274.72 290.90,275.19 291.05,275.68 291.20,275.48 291.35,275.24 291.50,274.76 291.65,275.25 291.80,275.36 291.95,273.75 292.10,275.69 292.24,276.35 292.39,276.26 292.54,276.23 292.69,276.28 292.84,276.19 292.99,275.79 293.14,275.94 293.29,276.29 293.44,275.91 293.59,275.99 293.73,275.87 293.88,276.03 294.03,276.08 294.18,276.55 294.33,276.56 294.48,276.21 294.63,276.24 294.78,276.59 294.93,276.67 295.08,276.57 295.22,277.21 295.37,276.35 295.52,275.94 295.67,275.98 295.82,276.38 295.97,276.79 296.12,276.89 296.27,276.85 296.42,277.07 296.57,277.00 296.71,276.87 296.86,276.57 297.01,276.57 297.16,276.75 297.31,276.73 297.46,276.65 297.61,276.43 297.76,276.28 297.91,276.44 298.06,276.88 298.20,277.27 298.35,277.23 298.50,277.19 298.65,279.10 298.80,277.32 298.95,277.19 299.10,277.23 299.25,277.82 299.40,276.99 299.55,277.55 299.69,277.00 299.84,275.70 299.99,276.95 300.14,277.17 300.29,277.29 300.44,277.41 300.59,277.35 300.74,277.06 300.89,276.90 301.04,277.11 301.19,277.61 301.33,277.46 301.48,277.40 301.63,277.24 301.78,277.65 301.93,277.88 302.08,278.08 302.23,277.63 302.38,277.15 302.53,277.18 302.68,277.38 302.82,277.41 302.97,277.25 303.12,277.24 303.27,277.18 303.42,277.45 303.57,277.64 303.72,277.85 303.87,277.46 304.02,277.20 304.17,277.02 304.31,277.22 304.46,277.17 304.61,277.16 304.76,277.52 304.91,277.77 305.06,277.58 305.21,277.21 305.36,277.70 305.51,278.19 305.66,278.01 305.80,277.49 305.95,277.40 306.10,277.58 306.25,277.32 306.40,277.07 306.55,277.09 306.70,277.17 306.85,277.21 307.00,277.35 307.15,277.80 307.29,278.06 307.44,278.04 307.59,277.87 307.74,277.84 307.89,278.07 308.04,278.07 308.19,277.77 308.34,277.65 308.49,277.87 308.64,278.04 308.78,278.00 308.93,278.15 309.08,278.09 309.23,277.76 309.38,277.28 309.53,277.41 309.68,277.77 309.83,277.90 309.98,278.06 310.13,277.93 310.28,277.92 310.42,277.63 310.57,277.94 310.72,276.82 310.87,278.05 311.02,277.90 311.17,277.67 311.32,277.22 311.47,277.25 311.62,277.79 311.77,277.90 311.91,277.79 312.06,277.88 312.21,278.10 312.36,277.87 312.51,277.33 312.66,277.02 312.81,277.13 312.96,277.56 313.11,277.81 313.26,277.46 313.40,277.25 313.55,277.38 313.70,277.51 313.85,277.52 314.00,277.55 314.15,277.48 314.30,277.54 314.45,277.28 314.60,276.98 314.75,275.95 314.89,276.92 315.04,277.30 315.19,277.13 315.34,277.26 315.49,277.26 315.64,277.68 315.79,277.61 315.94,277.41 316.09,277.16 316.24,277.32 316.38,277.51 316.53,277.28 316.68,276.74 316.83,276.51 316.98,276.78 317.13,277.29 317.28,277.55 317.43,277.44 317.58,277.17 317.73,277.34 317.87,277.54 318.02,277.78 318.17,277.94 318.32,277.62 318.47,277.42 318.62,276.96 318.77,277.16 318.92,277.29 319.07,277.68 319.22,277.69 319.36,277.52 319.51,277.23 319.66,277.19 319.81,277.18 319.96,277.33 320.11,277.13 320.26,277.20 320.41,277.19 320.56,277.18 320.71,277.00 320.86,277.13 321.00,277.34 321.15,277.43 321.30,277.20 321.45,277.15 321.60,276.84 321.75,276.70 321.90,276.93 322.05,277.38 322.20,277.47 322.35,277.24 322.49,276.91 322.64,276.89 322.79,276.75 322.94,276.75 323.09,276.82 323.24,276.97 323.39,276.92 323.54,276.79 323.69,276.95 323.84,277.26 323.98,277.05 324.13,276.78 324.28,276.71 324.43,276.97 324.58,276.90 324.73,276.65 324.88,276.65 325.03,276.85 325.18,277.24 325.33,277.38 325.47,277.44 325.62,277.30 325.77,276.87 325.92,276.66 326.07,276.42 326.22,276.53 326.37,277.99 326.52,276.64 326.67,276.54 326.82,276.49 326.96,276.68 327.11,276.69 327.26,276.85 327.41,276.81 327.56,276.89 327.71,276.83 327.86,276.89 328.01,276.81 328.16,275.64 328.31,276.82 328.45,276.97 328.60,276.62 328.75,276.05 328.90,276.29 329.05,276.78 329.20,277.34 329.35,277.28 329.50,277.26 329.65,276.69 329.80,276.51 329.95,276.46 330.09,276.69 330.24,276.77 330.39,276.67 330.54,276.32 330.69,276.15 330.84,276.09 330.99,276.21 331.14,277.78 331.29,275.98 331.44,275.90 331.58,275.63 331.73,275.41 331.88,275.34 332.03,277.61 332.18,276.01 332.33,275.87 332.48,275.87 332.63,276.03 332.78,276.37 332.93,276.28 333.07,276.06 333.22,275.71 333.37,276.04 333.52,276.51 333.67,276.56 333.82,276.33 333.97,275.86 334.12,275.89 334.27,275.89 334.42,276.04 334.56,275.78 334.71,275.74 334.86,275.67 335.01,275.53 335.16,275.26 335.31,275.52 335.46,275.56 335.61,275.57 335.76,275.49 335.91,275.89 336.05,276.13 336.20,275.84 336.35,275.42 336.50,275.14 336.65,274.92 336.80,275.01 336.95,274.87 337.10,274.99 337.25,275.05 337.40,275.50 337.54,275.42 337.69,275.32 337.84,275.41 337.99,275.18 338.14,274.80 338.29,274.79 338.44,275.18 338.59,275.15 338.74,274.97 338.89,275.27 339.04,275.36 339.18,275.39 339.33,274.86 339.48,274.87 339.63,274.95 339.78,275.09 339.93,274.81 340.08,274.92 340.23,275.09 340.38,275.24 340.53,274.74 340.67,274.91 340.82,274.57 340.97,274.44 341.12,275.87 341.27,274.44 341.42,274.65 341.57,275.02 341.72,275.45 341.87,275.76 342.02,275.60 342.16,275.22 342.31,274.50 342.46,274.21 342.61,274.17 342.76,274.59 342.91,274.49 343.06,274.34 343.21,274.11 343.36,274.38 343.51,274.62 343.65,274.53 343.80,274.05 343.95,273.88 344.10,274.00 344.25,274.18 344.40,274.29 344.55,274.55 344.70,274.81 344.85,274.67 345.00,274.33 345.14,274.45 345.29,274.65 345.44,274.80 345.59,274.63 345.74,274.70 345.89,274.86 346.04,274.86 346.19,274.88 346.34,274.78 346.49,274.77 346.63,274.46 346.78,274.27 346.93,274.49 347.08,274.83 347.23,274.77 347.38,274.54 347.53,274.13 347.68,274.16 347.83,274.55 347.98,274.77 348.12,274.63 348.27,274.26 348.42,274.42 348.57,274.23 348.72,274.30 348.87,273.96 349.02,273.96 349.17,273.99 349.32,274.36 349.47,274.76 349.62,274.74 349.76,274.45 349.91,273.90 350.06,274.15 350.21,274.37 350.36,274.37 350.51,274.38 350.66,274.54 350.81,274.95 350.96,276.76 351.11,274.91 351.25,274.49 351.40,273.95 351.55,273.75 351.70,274.17 351.85,274.60 352.00,274.49 352.15,274.31 352.30,274.55 352.45,275.22 352.60,275.14 352.74,274.76 352.89,274.14 353.04,274.16 353.19,274.42 353.34,274.72 353.49,274.56 353.64,274.58 353.79,275.09 353.94,275.53 354.09,275.10 354.23,274.54 354.38,274.64 354.53,274.80 354.68,274.79 354.83,274.37 354.98,274.84 355.13,275.05 355.28,275.15 355.43,274.75 355.58,274.74 355.72,274.60 355.87,274.93 356.02,275.09 356.17,275.47 356.32,275.21 356.47,275.29 356.62,275.34 356.77,275.43 356.92,275.31 357.07,275.16 357.21,275.16 357.36,275.05 357.51,274.91 357.66,275.00 357.81,274.94 357.96,275.35 358.11,275.83 358.26,276.43 358.41,276.23 358.56,275.86 358.71,276.04 358.85,276.55 359.00,276.69 359.15,275.99 359.30,275.61 359.45,276.04 359.60,276.69 359.75,276.62 359.90,276.25 360.05,276.67 360.20,277.17 360.34,276.92 360.49,276.21 360.64,276.06 360.79,276.63 360.94,276.82 361.09,276.65 361.24,276.05 361.39,276.01 361.54,276.38 361.69,277.05 361.83,276.95 361.98,276.92 362.13,276.84 362.28,276.80 362.43,276.77 362.58,276.79 362.73,276.88 362.88,276.75 363.03,277.04 363.18,277.25 363.32,277.40 363.47,277.29 363.62,277.18 363.77,276.91 363.92,276.98 364.07,277.62 364.22,278.29 364.37,278.47 364.52,278.22 364.67,278.15 364.81,278.08 364.96,278.27 365.11,278.45 365.26,278.27 365.41,278.11 365.56,277.83 365.71,278.11 365.86,278.30 366.01,277.36 366.16,277.13 366.30,278.17 366.45,278.54 366.60,278.93 366.75,279.05 366.90,278.81 367.05,278.81 367.20,278.75 367.35,278.39 367.50,278.16 367.65,278.19 367.79,278.60 367.94,278.52 368.09,278.54 368.24,278.78 368.39,278.95 368.54,279.07 368.69,279.09 368.84,279.18 368.99,278.90 369.14,278.77 369.29,278.93 369.43,279.01 369.58,279.01 369.73,279.34 369.88,279.77 370.03,280.04 370.18,280.13 370.33,280.01 370.48,279.70 370.63,279.28 370.78,279.42 370.92,279.48 371.07,279.70 371.22,279.88 371.37,280.10 371.52,279.67 371.67,279.12 371.82,279.09 371.97,279.66 372.12,279.91 372.27,279.87 372.41,279.48 372.56,279.57 372.71,279.72 372.86,280.07 373.01,279.90 373.16,279.91 373.31,279.63 373.46,279.59 373.61,279.44 373.76,279.69 373.90,279.92 374.05,279.66 374.20,279.54 374.35,279.55 374.50,279.73 374.65,279.66 374.80,279.89 374.95,280.11 375.10,280.05 375.25,280.11 375.39,280.14 375.54,280.35 375.69,280.42 375.84,280.61 375.99,280.55 376.14,280.73 376.29,280.59 376.44,280.58 376.59,280.33 376.74,280.42 376.88,280.41 377.03,280.62 377.18,280.35 377.33,279.96 377.48,281.46 377.63,279.96 377.78,280.28 377.93,280.60 378.08,280.37 378.23,280.29 378.38,280.49 378.52,280.85 378.67,280.75 378.82,280.72 378.97,281.03 379.12,281.36 379.27,281.49 379.42,281.00 379.57,280.84 379.72,280.68 379.87,280.97 380.01,280.69 380.16,280.73 380.31,280.55 380.46,280.56 380.61,280.86 380.76,280.90 380.91,280.95 381.06,280.75 381.21,280.73 381.36,280.73 381.50,280.87 381.65,280.91 381.80,280.71 381.95,280.62 382.10,280.96 382.25,280.79 382.40,280.67 382.55,280.08 382.70,280.31 382.85,280.69 382.99,281.25 383.14,282.60 383.29,281.40 383.44,281.07 383.59,280.94 383.74,280.93 383.89,280.99 384.04,280.81 384.19,280.75 384.34,280.67 384.48,281.01 384.63,281.38 384.78,281.41 384.93,280.71 385.08,280.39 385.23,280.60 385.38,281.20 385.53,281.09 385.68,281.14 385.83,281.21 385.97,280.97 386.12,280.80 386.27,281.20 386.42,281.65 386.57,281.31 386.72,281.29 386.87,281.58 387.02,281.36 387.17,281.07 387.32,281.14 387.46,281.49 387.61,280.99 387.76,280.50 387.91,280.49 388.06,281.27 388.21,281.71 388.36,281.60 388.51,281.15 388.66,281.02 388.81,280.38 388.96,281.27 389.10,281.58 389.25,281.65 389.40,281.76 389.55,279.70 389.70,281.17 389.85,281.04 390.00,280.83 390.15,280.91 390.30,280.71 390.45,281.25 390.59,281.48 390.74,281.42 390.89,280.99 391.04,281.13 391.19,281.30 391.34,281.27 391.49,281.16 391.64,281.18 391.79,281.15 391.94,281.39 392.08,281.36 392.23,281.39 392.38,280.86 392.53,280.98 392.68,281.20 392.83,281.76 392.98,281.56 393.13,281.65 393.28,281.63 393.43,281.66 393.57,281.54 393.72,281.46 393.87,281.23 394.02,281.30 394.17,281.61 394.32,281.78 394.47,281.88 394.62,281.88 394.77,281.92 394.92,281.92 395.06,282.07 395.21,281.94 395.36,280.16 395.51,281.19 395.66,281.06 395.81,281.38 395.96,281.00 396.11,281.30 396.26,281.33 396.41,282.00 396.55,281.82 396.70,282.03 396.85,281.63 397.00,281.66 397.15,281.69 397.30,281.97 397.45,281.67 397.60,281.60 397.75,281.42 397.90,281.61 398.05,281.80 398.19,281.92 398.34,281.89 398.49,281.91 398.64,281.95 398.79,281.79 398.94,281.35 399.09,281.45 399.24,281.72 399.39,281.97 399.54,281.80 399.68,281.71 399.83,281.66 399.98,281.73 400.13,281.60 400.28,281.49 400.43,281.52 400.58,281.55 400.73,281.31 400.88,281.52 401.03,282.34 401.17,282.65 401.32,282.44 401.47,281.93 401.62,282.03 401.77,282.04 401.92,282.13 402.07,281.98 402.22,281.91 402.37,281.71 402.52,281.63 402.66,281.59 402.81,281.55 402.96,281.13 403.11,281.02 403.26,281.31 403.41,282.06 403.56,282.39 403.71,282.13 403.86,281.86 404.01,281.64 404.15,281.54 404.30,281.70 404.45,281.93 404.60,281.99 404.75,281.85 404.90,282.12 405.05,282.25 405.20,280.77 405.35,282.01 405.50,282.01 405.64,281.98 405.79,281.52 405.94,281.28 406.09,281.40 406.24,281.66 406.39,282.10 406.54,282.71 406.69,283.23 406.84,282.71 406.99,282.25 407.14,282.11 407.28,282.33 407.43,281.97 407.58,281.95 407.73,282.34 407.88,282.83 408.03,282.99 408.18,282.72 408.33,282.56 408.48,282.48 408.63,282.41 408.77,282.14 408.92,281.83 409.07,282.12 409.22,282.05 409.37,282.12 409.52,281.96 409.67,282.28 409.82,282.22 409.97,282.21 410.12,282.12 410.26,282.10 410.41,282.00 410.56,281.93 410.71,281.99 410.86,282.10 411.01,282.06 411.16,282.10 411.31,282.05 411.46,282.05 411.61,281.82 411.75,281.51 411.90,281.45 412.05,281.80 412.20,282.15 412.35,282.48 412.50,282.32 412.65,282.17 412.80,281.65 412.95,281.96 413.10,281.95 413.24,282.16 413.39,282.12 413.54,282.81 413.69,283.11 413.84,283.12 413.99,282.66 414.14,282.73 414.29,282.63 414.44,282.26 414.59,282.04 414.73,282.22 414.88,282.27 415.03,282.14 415.18,282.31 415.33,282.17 415.48,282.17 415.63,282.58 415.78,282.85 415.93,282.28 416.08,281.91 416.22,282.07 416.37,282.45 416.52,282.63 416.67,282.64 416.82,282.72 416.97,283.54 417.12,282.01 417.27,281.85 417.42,283.45 417.57,282.44 417.72,282.47 417.86,282.20 418.01,281.71 418.16,281.72 418.31,280.97 418.46,282.83 418.61,282.40 418.76,281.97 418.91,282.11 419.06,282.44 419.21,281.70 419.35,283.04 419.50,283.25 419.65,282.95 419.80,282.76 419.95,282.71 420.10,282.76 420.25,282.59 420.40,282.49 420.55,282.26 420.70,282.24 420.84,282.20 420.99,282.31 421.14,282.43 421.29,282.76 421.44,282.44 421.59,282.02 421.74,281.76 421.89,282.11 422.04,282.18 422.19,282.49 422.33,282.46 422.48,282.59 422.63,282.31 422.78,282.17 422.93,282.06 423.08,282.34 423.23,282.15 423.38,282.06 423.53,281.86 423.68,282.16 423.82,281.93 423.97,282.00 424.12,282.26 424.27,282.94 424.42,282.85 424.57,282.79 424.72,282.62 424.87,283.66 425.02,282.50 425.17,282.63 425.31,282.66 425.46,282.62 425.61,282.75 425.76,282.77 425.91,282.62 426.06,282.25 426.21,281.99 426.36,282.05 426.51,282.42 426.66,282.71 426.81,282.65 426.95,282.56 427.10,282.45 427.25,282.47 427.40,280.94 427.55,282.57 427.70,282.74 427.85,282.96 428.00,282.97 428.15,282.76 428.30,282.66 428.44,282.74 428.59,282.70 428.74,282.91 428.89,282.97 429.04,282.92 429.19,282.85 429.34,283.00 429.49,283.25 429.64,283.00 429.79,282.82 429.93,282.28 430.08,282.29 430.23,282.06 430.38,282.08 430.53,282.06 430.68,282.17 430.83,282.30 430.98,281.89 431.13,282.18 431.28,282.00 431.42,282.13 431.57,282.30 431.72,282.68 431.87,282.92 432.02,283.00 432.17,283.19 432.32,282.76 432.47,282.51 432.62,282.58 432.77,282.85 432.91,283.18 433.06,282.78 433.21,282.57 433.36,282.62 433.51,282.77 433.66,282.66 433.81,282.85 433.96,283.23 434.11,283.06 434.26,282.98 434.40,283.09 434.55,283.02 434.70,282.68 434.85,282.37 435.00,282.70 435.15,282.89 435.30,282.80 435.45,282.37 435.60,282.13 435.75,282.28 435.89,282.70 436.04,283.19 436.19,283.00 436.34,282.55 436.49,282.16 436.64,282.19 436.79,282.10 436.94,282.50 437.09,282.92 437.24,283.03 437.39,282.25 437.53,282.29 437.68,282.75 437.83,283.19 437.98,283.03 438.13,282.81 438.28,281.67 438.43,282.68 438.58,282.82 438.73,282.74 438.88,282.57 439.02,282.23 439.17,282.46 439.32,283.00 439.47,283.16 439.62,282.77 439.77,282.49 439.92,282.61 440.07,282.54 440.22,282.69 440.37,282.62 440.51,282.56 440.66,282.37 440.81,282.92 440.96,281.57 441.11,282.90 441.26,282.37 441.41,282.50 441.56,282.70 441.71,282.91 441.86,282.78 442.00,282.78 442.15,282.97 442.30,282.99 442.45,282.81 442.60,283.90 442.75,282.52 442.90,282.79 443.05,282.83 443.20,282.83 443.35,282.87 443.49,283.01 443.64,282.99 443.79,283.01 443.94,282.85 444.09,282.79 444.24,282.63 444.39,282.79 444.54,282.42 444.69,282.21 444.84,282.14 444.98,282.79 445.13,283.64 445.28,284.23 445.43,284.21 445.58,283.89 445.73,283.53 445.88,283.39 446.03,283.12 446.18,282.84 446.33,282.80 446.48,283.00 446.62,282.98 446.77,282.63 446.92,282.39 447.07,283.12 447.22,283.46 447.37,283.61 447.52,283.36 447.67,283.67 447.82,283.30 447.97,283.34 448.11,283.36 448.26,283.27 448.41,282.73 448.56,282.65 448.71,283.17 448.86,283.20 449.01,282.91 449.16,282.57 449.31,282.93 449.46,282.89 449.60,282.62 449.75,281.05 449.90,282.78 450.05,283.00 450.20,283.01 450.35,282.93 450.50,283.00 450.65,283.21 450.80,283.10 450.95,282.98 451.09,281.23 451.24,284.48 451.39,283.20 451.54,283.28 451.69,283.30 451.84,283.20 451.99,283.42 452.14,283.24 452.29,283.09 452.44,282.57 452.58,282.40 452.73,282.44 452.88,282.37 453.03,282.44 453.18,282.79 453.33,283.32 453.48,283.34 453.63,283.29 453.78,283.12 453.93,282.93 454.07,282.97 454.22,283.12 454.37,283.33 454.52,283.17 454.67,283.23 454.82,283.34 454.97,283.45 455.12,283.55 455.27,283.72 455.42,283.29 455.56,283.23 455.71,282.97 455.86,283.59 456.01,283.20 456.16,282.91 456.31,282.15 456.46,282.44 456.61,282.75 456.76,282.80 456.91,282.96 457.06,283.07 457.20,283.13 457.35,283.23 457.50,283.13 457.65,282.64 457.80,282.49 457.95,282.91 458.10,283.16 458.25,282.78 458.40,282.49 458.55,282.58 458.69,283.12 458.84,283.52 458.99,283.42 459.14,283.09 459.29,282.66 459.44,282.55 459.59,282.31 459.74,282.73 459.89,283.04 460.04,283.15 460.18,282.71 460.33,282.89 460.48,283.11 460.63,283.05 460.78,284.62 460.93,283.21 461.08,283.27 461.23,283.06 461.38,283.24 461.53,283.47 461.67,283.42 461.82,283.35 461.97,282.90 462.12,282.85 462.27,282.69 462.42,282.87 462.57,282.71 462.72,283.22 462.87,283.43 463.02,283.33 463.16,283.10 463.31,282.81 463.46,282.64 463.61,282.76 463.76,283.00 463.91,283.04 464.06,282.88 464.21,282.71 464.36,282.71 464.51,283.01 464.65,283.37 464.80,283.28 464.95,283.04 465.10,283.02 465.25,283.19 465.40,283.42 465.55,283.17 465.70,282.85 465.85,283.00 466.00,283.36 466.15,283.56 466.29,283.16 466.44,283.22 466.59,283.15 466.74,282.99 466.89,283.13 467.04,283.57 467.19,283.78 467.34,283.54 467.49,282.71 467.64,283.80 467.78,283.66 467.93,283.13 468.08,282.98 468.23,282.67 468.38,282.66 468.53,282.72 468.68,283.14 468.83,283.50 468.98,283.41 469.13,282.97 469.27,282.75 469.42,282.79 469.57,283.22 469.72,282.28 469.87,283.51 470.02,283.11 470.17,283.18 470.32,283.26 470.47,283.00 470.62,282.78 470.76,283.21 470.91,283.47 471.06,283.38 471.21,283.15 471.36,283.10 471.51,283.16 471.66,284.20 471.81,283.25 471.96,283.31 472.11,283.25 472.25,283.12 472.40,282.93 472.55,282.64 472.70,282.52 472.85,282.96 473.00,283.37 473.15,283.43 473.30,283.30 473.45,283.24 473.60,283.00 473.74,282.95 473.89,282.92 474.04,283.05 474.19,283.18 474.34,283.38 474.49,283.23 474.64,282.43 474.79,283.25 474.94,282.72 475.09,282.53 475.24,282.52 475.38,282.79 475.53,282.65 475.68,282.74 475.83,282.53 475.98,282.19 476.13,282.24 476.28,282.66 476.43,283.08 476.58,282.89 476.73,282.73 476.87,282.86 477.02,283.08 477.17,282.96 477.32,283.17 477.47,283.10 477.62,282.84 477.77,282.33 477.92,282.52 478.07,283.27 478.22,283.49 478.36,283.28 478.51,282.67 478.66,282.70 478.81,282.88 478.96,282.99 479.11,283.25 479.26,283.45 479.41,283.46 479.56,283.41 479.71,283.06 479.85,283.05 480.00,283.07 480.15,283.15 480.30,282.96 480.45,282.92 480.60,283.24 480.75,283.32 480.90,283.57 481.05,283.54 481.20,283.57 481.34,283.67 481.49,283.64 481.64,284.63 481.79,282.63 481.94,282.83 482.09,283.26 482.24,283.17 482.39,282.69 482.54,282.37 482.69,283.10 482.83,283.37 482.98,283.39 483.13,282.82 483.28,282.95 483.43,282.81 483.58,282.90 483.73,284.19 483.88,282.73 484.03,282.77 484.18,282.99 484.32,283.06 484.47,283.41 484.62,283.33 484.77,283.38 484.92,283.23 485.07,283.27 485.22,283.05 485.37,283.07 485.52,283.25 485.67,283.37 485.82,283.43 485.96,283.31 486.11,282.86 486.26,282.79 486.41,283.08 486.56,283.45 486.71,283.30 486.86,282.95 487.01,282.86 487.16,283.02 487.31,282.97 487.45,283.68 487.60,282.50 487.75,282.95 487.90,283.05 488.05,282.71 488.20,282.43 488.35,282.86 488.50,283.22 488.65,283.02 488.80,281.95 488.94,283.17 489.09,283.28 489.24,283.08 489.39,282.84 489.54,282.79 489.69,282.46 489.84,282.35 489.99,282.53 490.14,282.86 490.29,282.90 490.43,283.04 490.58,282.80 490.73,282.74 490.88,282.56 491.03,282.74 491.18,282.67 491.33,283.08 491.48,282.98 491.63,282.50 491.78,282.13 491.92,282.35 492.07,282.55 492.22,282.53 492.37,282.97 492.52,283.18 492.67,282.90 492.82,282.82 492.97,283.17 493.12,283.28 493.27,282.86 493.41,282.74 493.56,282.68 493.71,282.58 493.86,282.30 494.01,282.51 494.16,282.96 494.31,283.17 494.46,283.29 494.61,282.77 494.76,282.53 494.91,282.02 495.05,282.42 495.20,282.80 495.35,282.80 495.50,282.32 495.65,282.15 495.80,282.25 495.95,282.13 496.10,281.96 496.25,282.22 496.40,282.30 496.54,282.21 496.69,282.02 496.84,281.02 496.99,282.39 497.14,282.50 497.29,282.71 497.44,282.71 497.59,282.66 497.74,282.58 497.89,282.60 498.03,282.76 498.18,282.89 498.33,283.05 498.48,282.66 498.63,282.40 498.78,282.40 498.93,282.78 499.08,282.71 499.23,282.42 499.38,282.01 499.52,281.80 499.67,282.07 499.82,282.45 499.97,282.74 500.12,282.77 500.27,282.80 500.42,282.65 500.57,282.28 500.72,282.11 500.87,282.19 501.01,282.67 501.16,283.01 501.31,282.79 501.46,282.30 501.61,282.23 501.76,282.52 501.91,282.73 502.06,282.65 502.21,282.77 502.36,282.78 502.50,282.92 502.65,282.86 502.80,282.75 502.95,282.27 503.10,282.15 503.25,282.38 503.40,282.64 503.55,282.36 503.70,281.81 503.85,281.66 503.99,282.23 504.14,282.47 504.29,282.26 504.44,282.00 504.59,282.40 504.74,282.34 504.89,282.20 505.04,282.13 505.19,282.10 505.34,282.07 505.49,281.92 505.63,282.06 505.78,282.16 505.93,282.37 506.08,282.08 506.23,282.01 506.38,282.22 506.53,282.45 506.68,282.43 506.83,282.25 506.98,282.00 507.12,281.79 507.27,281.98 507.42,282.31 507.57,282.23 507.72,282.08 507.87,282.00 508.02,282.02 508.17,281.58 508.32,281.15 508.47,281.40 508.61,281.63 508.76,281.46 508.91,281.01 509.06,281.22 509.21,281.81 509.36,283.12 509.51,282.12 509.66,281.78 509.81,280.71 509.96,281.91 510.10,281.62 510.25,281.64 510.40,281.96 510.55,282.05 510.70,281.67 510.85,281.62 511.00,281.88 511.15,281.85 511.30,281.74 511.45,282.02 511.59,282.11 511.74,282.14 511.89,281.93 512.04,281.73 512.19,281.58 512.34,281.69 512.49,282.07 512.64,282.27 512.79,282.41 512.94,282.22 513.08,281.98 513.23,281.94 513.38,281.75 513.53,281.38 513.68,281.34 513.83,281.37 513.98,281.37 514.13,281.58 514.28,282.04 514.43,282.24 514.58,281.92 514.72,281.88 514.87,281.57 515.02,281.30 515.17,281.05 515.32,281.10 515.47,281.41 515.62,281.51 515.77,281.33 515.92,281.18 516.07,281.44 516.21,281.82 516.36,281.47 516.51,281.04 516.66,280.45 516.81,280.62 516.96,280.89 517.11,281.14 517.26,281.26 517.41,281.24 517.56,281.11 517.70,280.72 517.85,280.63 518.00,280.69 518.15,280.84 518.30,280.93 518.45,280.72 518.60,280.45 518.75,280.37 518.90,280.58 519.05,280.67 519.19,280.63 519.34,280.58 519.49,280.55 519.64,280.31 519.79,280.29 519.94,280.79 520.09,281.22 520.24,281.15 520.39,280.70 520.54,280.45 520.68,280.65 520.83,280.65 520.98,280.94 521.13,280.92 521.28,281.07 521.43,280.70 521.58,280.81 521.73,280.99 521.88,280.91 522.03,280.96 522.17,280.98 522.32,280.74 522.47,280.40 522.62,280.54 522.77,280.82 522.92,280.88 523.07,281.05 523.22,280.83 523.37,280.51 523.52,280.36 523.66,280.59 523.81,280.33 523.96,280.30 524.11,280.43 524.26,281.09 524.41,281.02 524.56,280.78 524.71,280.56 524.86,280.78 525.01,281.01 525.16,281.21 525.30,281.10 525.45,280.86 525.60,280.84 525.75,280.91 525.90,281.23 526.05,281.36 526.20,281.43 526.35,280.78 526.50,280.53 526.65,280.22 526.79,280.54 526.94,280.69 527.09,280.99 527.24,281.00 527.39,281.20 527.54,281.12 527.69,281.16 527.84,281.00 527.99,280.64 528.14,280.21 528.28,280.57 528.43,281.29 528.58,281.47 528.73,281.13 528.88,280.96 529.03,280.91 529.18,280.82 529.33,280.55 529.48,280.74 529.63,280.40 529.77,280.22 529.92,279.99 530.07,280.48 530.22,280.94 530.37,281.27 530.52,281.63 530.67,281.68 530.82,281.40 530.97,280.90 531.12,281.05 531.26,281.37 531.41,281.83 531.56,281.85 531.71,281.49 531.86,280.86 532.01,280.96 532.16,279.80 532.31,280.80 532.46,281.00 532.61,281.44 532.75,281.34 532.90,281.47 533.05,281.88 533.20,282.09 533.35,282.03 533.50,281.76" fill="none" stroke="#ff0000" stroke-width="2.9" stroke-linejoin="round"/>
<path d="M56.80,244.21 56.95,244.54 57.10,244.89 57.25,244.56 57.40,244.12 57.55,243.99 57.69,244.28 57.84,244.03 57.99,244.08 58.14,244.21 58.29,244.78 58.44,244.88 58.59,244.85 58.74,244.31 58.89,244.54 59.04,244.33 59.18,244.54 59.33,244.26 59.48,244.36 59.63,244.01 59.78,243.96 59.93,244.19 60.08,244.35 60.23,244.71 60.38,244.41 60.53,244.23 60.67,243.91 60.82,244.33 60.97,244.04 61.12,243.97 61.27,243.97 61.42,244.12 61.57,244.26 61.72,244.40 61.87,244.80 62.02,244.85 62.16,244.64 62.31,244.19 62.46,244.00 62.61,244.34 62.76,244.70 62.91,244.61 63.06,244.27 63.21,243.98 63.36,243.99 63.51,244.07 63.65,244.21 63.80,244.70 63.95,244.78 64.10,244.60 64.25,244.32 64.40,244.29 64.55,244.19 64.70,244.14 64.85,244.48 65.00,244.35 65.14,244.47 65.29,244.43 65.44,244.59 65.59,244.53 65.74,244.75 65.89,244.90 66.04,244.80 66.19,244.63 66.34,244.48 66.49,244.29 66.64,244.44 66.78,244.37 66.93,244.21 67.08,244.33 67.23,244.64 67.38,244.53 67.53,244.43 67.68,244.57 67.83,244.85 67.98,244.45 68.13,244.35 68.27,243.89 68.42,243.61 68.57,243.46 68.72,243.80 68.87,244.34 69.02,245.01 69.17,244.93 69.32,244.76 69.47,244.33 69.62,244.39 69.76,243.97 69.91,243.73 70.06,243.61 70.21,243.70 70.36,243.94 70.51,245.61 70.66,244.42 70.81,244.56 70.96,244.64 71.11,244.62 71.25,244.74 71.40,244.66 71.55,244.40 71.70,244.27 71.85,244.47 72.00,244.69 72.15,244.76 72.30,244.67 72.45,244.45 72.60,244.39 72.74,244.05 72.89,244.27 73.04,244.35 73.19,244.56 73.34,244.42 73.49,244.42 73.64,244.30 73.79,244.38 73.94,244.49 74.09,244.30 74.23,244.09 74.38,243.84 74.53,244.16 74.68,244.25 74.83,244.45 74.98,244.56 75.13,245.10 75.28,245.10 75.43,244.68 75.58,245.67 75.72,244.81 75.87,244.70 76.02,244.41 76.17,244.34 76.32,244.46 76.47,244.51 76.62,244.42 76.77,244.15 76.92,243.75 77.07,243.17 77.22,243.21 77.36,243.74 77.51,244.11 77.66,244.22 77.81,244.29 77.96,244.46 78.11,244.16 78.26,243.99 78.41,243.85 78.56,243.73 78.71,243.74 78.85,244.01 79.00,243.36 79.15,244.11 79.30,244.05 79.45,243.85 79.60,243.85 79.75,243.80 79.90,243.96 80.05,243.94 80.20,243.10 80.34,243.83 80.49,243.67 80.64,243.58 80.79,243.87 80.94,244.03 81.09,244.34 81.24,244.32 81.39,243.69 81.54,243.07 81.69,243.48 81.83,244.14 81.98,244.03 82.13,243.54 82.28,243.74 82.43,244.13 82.58,244.38 82.73,244.19 82.88,244.25 83.03,244.33 83.18,243.99 83.32,243.74 83.47,243.73 83.62,243.89 83.77,243.86 83.92,243.88 84.07,243.33 84.22,243.28 84.37,243.73 84.52,244.20 84.67,243.77 84.81,243.60 84.96,243.42 85.11,243.45 85.26,243.45 85.41,243.58 85.56,243.34 85.71,243.22 85.86,243.49 86.01,244.00 86.16,244.21 86.31,243.95 86.45,243.51 86.60,243.49 86.75,243.88 86.90,243.79 87.05,243.67 87.20,243.15 87.35,243.17 87.50,243.13 87.65,243.31 87.80,242.98 87.94,242.93 88.09,243.42 88.24,243.64 88.39,243.76 88.54,243.56 88.69,243.83 88.84,243.75 88.99,243.82 89.14,243.61 89.29,243.66 89.43,243.93 89.58,244.29 89.73,244.34 89.88,243.87 90.03,243.21 90.18,242.90 90.33,242.95 90.48,243.18 90.63,243.29 90.78,243.28 90.92,243.37 91.07,243.16 91.22,242.85 91.37,242.97 91.52,243.48 91.67,243.54 91.82,243.47 91.97,243.30 92.12,243.21 92.27,242.66 92.41,242.83 92.56,243.01 92.71,243.47 92.86,243.49 93.01,243.47 93.16,243.25 93.31,243.32 93.46,243.31 93.61,243.16 93.76,242.93 93.90,243.10 94.05,243.31 94.20,243.63 94.35,243.51 94.50,243.42 94.65,243.02 94.80,243.00 94.95,242.85 95.10,243.23 95.25,243.30 95.39,243.11 95.54,242.81 95.69,242.80 95.84,242.78 95.99,242.56 96.14,242.31 96.29,242.79 96.44,243.07 96.59,243.23 96.74,242.55 96.89,242.17 97.03,241.95 97.18,242.16 97.33,242.47 97.48,242.35 97.63,242.33 97.78,242.53 97.93,242.57 98.08,242.46 98.23,242.10 98.38,242.18 98.52,242.13 98.67,242.59 98.82,242.45 98.97,242.24 99.12,242.13 99.27,242.07 99.42,241.87 99.57,241.56 99.72,241.56 99.87,241.66 100.01,241.99 100.16,242.55 100.31,242.75 100.46,242.74 100.61,242.21 100.76,241.78 100.91,241.52 101.06,241.13 101.21,241.29 101.36,241.34 101.50,241.38 101.65,241.79 101.80,241.20 101.95,241.65 102.10,241.64 102.25,241.42 102.40,241.19 102.55,241.01 102.70,240.86 102.85,240.91 102.99,240.76 103.14,240.79 103.29,240.62 103.44,240.74 103.59,240.43 103.74,240.45 103.89,240.26 104.04,240.54 104.19,239.04 104.34,240.45 104.48,240.63 104.63,240.80 104.78,240.66 104.93,240.50 105.08,240.53 105.23,239.50 105.38,240.30 105.53,240.43 105.68,238.74 105.83,240.28 105.98,240.31 106.12,240.39 106.27,240.38 106.42,239.92 106.57,239.78 106.72,239.80 106.87,239.99 107.02,240.25 107.17,240.06 107.32,239.78 107.47,239.82 107.61,240.15 107.76,240.19 107.91,240.25 108.06,240.31 108.21,240.21 108.36,239.89 108.51,240.08 108.66,240.26 108.81,240.06 108.96,239.70 109.10,239.34 109.25,239.53 109.40,238.11 109.55,239.77 109.70,239.42 109.85,238.92 110.00,238.97 110.15,239.13 110.30,239.31 110.45,239.25 110.59,239.18 110.74,239.01 110.89,238.72 111.04,238.55 111.19,239.01 111.34,239.29 111.49,239.27 111.64,238.95 111.79,238.46 111.94,238.23 112.08,238.22 112.23,238.58 112.38,238.57 112.53,238.25 112.68,238.24 112.83,238.39 112.98,238.37 113.13,237.87 113.28,237.69 113.43,238.11 113.57,238.22 113.72,238.23 113.87,238.29 114.02,238.11 114.17,237.88 114.32,237.64 114.47,237.39 114.62,236.88 114.77,237.23 114.92,237.74 115.06,238.41 115.21,238.04 115.36,237.75 115.51,237.48 115.66,237.71 115.81,237.79 115.96,237.75 116.11,237.60 116.26,237.00 116.41,236.65 116.56,237.11 116.70,237.78 116.85,238.10 117.00,237.67 117.15,237.33 117.30,236.90 117.45,236.99 117.60,237.06 117.75,237.23 117.90,237.45 118.05,237.31 118.19,237.16 118.34,236.63 118.49,236.79 118.64,236.68 118.79,236.77 118.94,236.56 119.09,236.89 119.24,236.92 119.39,236.65 119.54,236.05 119.68,234.29 119.83,235.96 119.98,235.95 120.13,235.85 120.28,236.09 120.43,236.02 120.58,236.00 120.73,236.21 120.88,236.06 121.03,235.92 121.17,236.09 121.32,236.22 121.47,235.84 121.62,235.20 121.77,235.16 121.92,235.01 122.07,235.18 122.22,234.90 122.37,234.65 122.52,234.42 122.66,234.39 122.81,234.31 122.96,234.26 123.11,234.12 123.26,234.05 123.41,234.13 123.56,233.85 123.71,233.64 123.86,233.47 124.01,234.48 124.15,233.13 124.30,232.99 124.45,232.99 124.60,233.20 124.75,233.09 124.90,233.22 125.05,233.05 125.20,233.19 125.35,233.19 125.50,233.04 125.65,232.88 125.79,233.12 125.94,233.23 126.09,232.89 126.24,232.45 126.39,232.40 126.54,232.18 126.69,232.00 126.84,232.00 126.99,232.17 127.14,232.17 127.28,232.16 127.43,232.19 127.58,232.18 127.73,231.66 127.88,231.61 128.03,231.77 128.18,231.37 128.33,230.51 128.48,230.14 128.63,230.62 128.77,231.02 128.92,230.96 129.07,230.64 129.22,230.46 129.37,230.20 129.52,230.04 129.67,229.86 129.82,229.96 129.97,229.76 130.12,229.48 130.26,229.08 130.41,229.00 130.56,229.18 130.71,229.19 130.86,229.23 131.01,229.10 131.16,227.02 131.31,228.28 131.46,228.23 131.61,228.30 131.75,228.43 131.90,228.48 132.05,228.51 132.20,228.29 132.35,227.98 132.50,227.76 132.65,227.50 132.80,227.30 132.95,226.76 133.10,226.53 133.24,226.26 133.39,226.25 133.54,226.35 133.69,226.67 133.84,226.56 133.99,225.88 134.14,225.27 134.29,224.91 134.44,224.49 134.59,224.01 134.74,223.69 134.88,223.41 135.03,223.39 135.18,223.19 135.33,222.85 135.48,222.48 135.63,222.29 135.78,221.84 135.93,221.29 136.08,221.28 136.23,221.39 136.37,221.35 136.52,220.93 136.67,220.42 136.82,220.26 136.97,219.96 137.12,219.71 137.27,219.15 137.42,219.05 137.57,218.91 137.72,219.17 137.86,218.61 138.01,218.42 138.16,218.08 138.31,218.28 138.46,218.01 138.61,217.80 138.76,217.35 138.91,217.03 139.06,216.85 139.21,216.35 139.35,215.90 139.50,215.63 139.65,215.13 139.80,214.88 139.95,214.73 140.10,214.16 140.25,213.27 140.40,213.32 140.55,213.87 140.70,213.74 140.84,212.72 140.99,211.94 141.14,211.83 141.29,211.93 141.44,211.50 141.59,210.74 141.74,210.39 141.89,210.08 142.04,209.77 142.19,209.29 142.33,209.17 142.48,208.74 142.63,208.13 142.78,207.03 142.93,206.57 143.08,206.36 143.23,206.14 143.38,204.93 143.53,203.97 143.68,203.52 143.82,203.76 143.97,203.52 144.12,202.98 144.27,202.20 144.42,201.79 144.57,200.94 144.72,199.97 144.87,199.03 145.02,198.67 145.17,198.32 145.32,198.06 145.46,197.48 145.61,197.01 145.76,196.43 145.91,196.46 146.06,196.04 146.21,196.00 146.36,195.60 146.51,194.92 146.66,193.95 146.81,193.36 146.95,192.73 147.10,191.98 147.25,191.40 147.40,191.11 147.55,190.27 147.70,189.59 147.85,189.02 148.00,188.54 148.15,187.77 148.30,186.99 148.44,186.22 148.59,185.69 148.74,184.67 148.89,184.30 149.04,183.86 149.19,183.68 149.34,182.95 149.49,182.09 149.64,181.62 149.79,180.79 149.93,180.17 150.08,179.15 150.23,178.78 150.38,177.90 150.53,176.59 150.68,175.34 150.83,173.96 150.98,172.91 151.13,171.73 151.28,171.22 151.42,170.05 151.57,168.62 151.72,166.81 151.87,165.26 152.02,163.76 152.17,162.36 152.32,159.11 152.47,158.43 152.62,156.08 152.77,154.19 152.91,152.43 153.06,150.77 153.21,149.14 153.36,147.88 153.51,147.09 153.66,146.22 153.81,144.93 153.96,143.11 154.11,140.79 154.26,138.66 154.41,137.09 154.55,135.97 154.70,134.91 154.85,135.40 155.00,132.59 155.15,131.81 155.30,131.05 155.45,130.25 155.60,129.18 155.75,128.26 155.90,127.19 156.04,125.68 156.19,123.94 156.34,121.72 156.49,119.96 156.64,118.33 156.79,116.96 156.94,115.39 157.09,113.76 157.24,111.72 157.39,109.25 157.53,106.01 157.68,105.81 157.83,104.71 157.98,103.42 158.13,102.69 158.28,102.06 158.43,100.69 158.58,98.69 158.73,97.20 158.88,95.78 159.02,93.58 159.17,93.62 159.32,92.31 159.47,90.77 159.62,89.50 159.77,88.73 159.92,87.93 160.07,87.71 160.22,87.00 160.37,86.35 160.51,85.58 160.66,85.18 160.81,84.58 160.96,83.95 161.11,83.10 161.26,82.38 161.41,81.78 161.56,81.64 161.71,81.23 161.86,80.82 162.00,80.37 162.15,79.91 162.30,79.39 162.45,77.04 162.60,77.76 162.75,76.77 162.90,75.91 163.05,75.25 163.20,74.85 163.35,73.73 163.49,72.14 163.64,70.41 163.79,68.74 163.94,68.89 164.09,69.84 164.24,73.53 164.39,79.49 164.54,81.86 164.69,83.04 164.84,83.99 164.99,84.94 165.13,85.63 165.28,86.35 165.43,87.13 165.58,87.98 165.73,88.54 165.88,89.55 166.03,90.77 166.18,92.11 166.33,93.04 166.48,93.80 166.62,94.88 166.77,96.02 166.92,98.47 167.07,98.18 167.22,99.25 167.37,100.24 167.52,101.07 167.67,102.43 167.82,103.20 167.97,103.87 168.11,104.99 168.26,106.52 168.41,107.19 168.56,108.12 168.71,109.71 168.86,111.77 169.01,113.27 169.16,114.85 169.31,116.70 169.46,118.83 169.60,120.95 169.75,122.97 169.90,124.87 170.05,126.31 170.20,127.70 170.35,129.14 170.50,130.64 170.65,131.16 170.80,132.14 170.95,133.63 171.09,135.65 171.24,139.60 171.39,140.79 171.54,143.14 171.69,144.69 171.84,145.94 171.99,146.89 172.14,148.00 172.29,149.21 172.44,150.11 172.58,152.00 172.73,155.33 172.88,159.27 173.03,162.06 173.18,164.16 173.33,166.17 173.48,168.25 173.63,169.75 173.78,171.10 173.93,172.70 174.08,174.55 174.22,176.48 174.37,178.03 174.52,179.06 174.67,179.55 174.82,180.15 174.97,180.88 175.12,182.10 175.27,181.41 175.42,183.78 175.57,184.61 175.71,185.59 175.86,186.58 176.01,187.61 176.16,188.70 176.31,189.46 176.46,190.66 176.61,192.20 176.76,193.18 176.91,194.12 177.06,194.99 177.20,196.03 177.35,196.71 177.50,197.59 177.65,198.51 177.80,199.45 177.95,200.10 178.10,201.13 178.25,202.09 178.40,202.86 178.55,202.84 178.69,203.37 178.84,204.28 178.99,204.45 179.14,206.45 179.29,207.60 179.44,208.22 179.59,208.79 179.74,209.08 179.89,209.61 180.04,210.37 180.18,211.14 180.33,211.69 180.48,211.93 180.63,212.58 180.78,213.32 180.93,213.95 181.08,214.20 181.23,214.64 181.38,215.15 181.53,215.76 181.67,216.30 181.82,217.06 181.97,217.23 182.12,217.86 182.27,218.72 182.42,219.95 182.57,220.68 182.72,220.91 182.87,220.76 183.02,220.88 183.16,221.80 183.31,222.38 183.46,222.71 183.61,223.28 183.76,223.81 183.91,224.29 184.06,224.84 184.21,225.48 184.36,225.94 184.51,226.21 184.66,226.30 184.80,226.32 184.95,226.70 185.10,227.27 185.25,227.67 185.40,228.09 185.55,228.50 185.70,228.80 185.85,228.90 186.00,227.49 186.15,229.19 186.29,229.40 186.44,229.92 186.59,230.00 186.74,230.18 186.89,229.98 187.04,230.31 187.19,230.69 187.34,231.23 187.49,231.74 187.64,231.74 187.78,231.81 187.93,231.71 188.08,232.11 188.23,232.40 188.38,232.69 188.53,232.97 188.68,233.52 188.83,233.94 188.98,234.13 189.13,234.12 189.27,234.17 189.42,234.08 189.57,234.08 189.72,234.40 189.87,234.53 190.02,234.87 190.17,235.09 190.32,235.34 190.47,235.23 190.62,235.58 190.76,236.02 190.91,236.27 191.06,236.59 191.21,237.16 191.36,237.04 191.51,236.78 191.66,236.46 191.81,236.46 191.96,236.28 192.11,236.76 192.25,237.15 192.40,237.19 192.55,237.35 192.70,237.72 192.85,237.84 193.00,237.97 193.15,238.18 193.30,238.09 193.45,237.58 193.60,237.49 193.75,237.78 193.89,238.27 194.04,238.64 194.19,238.70 194.34,238.36 194.49,238.38 194.64,238.58 194.79,238.61 194.94,238.22 195.09,238.31 195.24,240.47 195.38,239.17 195.53,239.01 195.68,239.24 195.83,239.02 195.98,239.07 196.13,239.14 196.28,239.81 196.43,239.69 196.58,239.51 196.73,239.70 196.87,240.11 197.02,239.86 197.17,239.90 197.32,241.08 197.47,239.76 197.62,239.43 197.77,239.65 197.92,239.69 198.07,240.04 198.22,240.01 198.36,240.07 198.51,240.37 198.66,240.75 198.81,240.80 198.96,240.73 199.11,240.64 199.26,238.85 199.41,240.47 199.56,240.78 199.71,241.30 199.85,241.73 200.00,241.59 200.15,241.06 200.30,240.63 200.45,240.30 200.60,240.58 200.75,241.12 200.90,241.18 201.05,240.83 201.20,241.32 201.34,241.94 201.49,241.95 201.64,241.59 201.79,241.38 201.94,241.05 202.09,240.87 202.24,241.09 202.39,241.35 202.54,241.64 202.69,242.02 202.84,242.26 202.98,242.25 203.13,241.91 203.28,241.52 203.43,241.73 203.58,243.31 203.73,242.56 203.88,242.15 204.03,241.64 204.18,241.61 204.33,241.50 204.47,241.59 204.62,241.40 204.77,241.83 204.92,242.08 205.07,242.39 205.22,241.99 205.37,241.87 205.52,241.58 205.67,241.94 205.82,241.86 205.96,241.96 206.11,241.72 206.26,241.62 206.41,241.80 206.56,242.18 206.71,242.65 206.86,242.68 207.01,242.69 207.16,241.42 207.31,243.10 207.45,243.13 207.60,242.85 207.75,242.37 207.90,242.18 208.05,242.24 208.20,242.32 208.35,242.63 208.50,242.91 208.65,242.98 208.80,242.92 208.94,242.69 209.09,242.55 209.24,242.06 209.39,241.97 209.54,242.11 209.69,243.08 209.84,243.20 209.99,243.09 210.14,242.68 210.29,242.65 210.43,242.64 210.58,242.85 210.73,242.89 210.88,242.35 211.03,242.32 211.18,241.38 211.33,243.00 211.48,243.12 211.63,243.45 211.78,243.36 211.92,243.67 212.07,243.85 212.22,244.16 212.37,243.99 212.52,243.62 212.67,243.04 212.82,242.94 212.97,243.27 213.12,243.49 213.27,244.01 213.42,244.16 213.56,244.24 213.71,243.87 213.86,243.65 214.01,243.71 214.16,243.99 214.31,244.38 214.46,244.06 214.61,245.34 214.76,243.78 214.91,244.19 215.05,244.03 215.20,244.03 215.35,244.20 215.50,244.44 215.65,244.09 215.80,244.10 215.95,244.38 216.10,243.80 216.25,244.67 216.40,244.82 216.54,244.62 216.69,244.04 216.84,243.86 216.99,243.96 217.14,244.41 217.29,244.30 217.44,244.68 217.59,244.68 217.74,244.84 217.89,244.83 218.03,244.90 218.18,244.76 218.33,244.59 218.48,244.44 218.63,244.61 218.78,244.62 218.93,244.37 219.08,243.99 219.23,244.26 219.38,244.62 219.52,244.67 219.67,244.55 219.82,244.16 219.97,244.25 220.12,244.84 220.27,245.19 220.42,244.61 220.57,244.38 220.72,244.65 220.87,244.21 221.01,243.72 221.16,243.70 221.31,244.19 221.46,244.73 221.61,245.39 221.76,245.54 221.91,245.12 222.06,245.26 222.21,245.20 222.36,245.18 222.51,244.90 222.65,245.19 222.80,245.20 222.95,245.16 223.10,245.16 223.25,245.34 223.40,245.80 223.55,245.63 223.70,245.43 223.85,245.00 224.00,245.27 224.14,245.23 224.29,245.25 224.44,245.32 224.59,245.65 224.74,245.67 224.89,245.48 225.04,245.45 225.19,245.53 225.34,245.46 225.49,244.97 225.63,245.01 225.78,245.08 225.93,245.65 226.08,245.65 226.23,246.35 226.38,246.41 226.53,246.32 226.68,245.86 226.83,245.42 226.98,245.24 227.12,245.11 227.27,245.34 227.42,244.96 227.57,244.50 227.72,244.62 227.87,245.20 228.02,245.49 228.17,245.32 228.32,245.21 228.47,245.18 228.61,245.34 228.76,245.49 228.91,245.66 229.06,245.47 229.21,245.09 229.36,244.77 229.51,244.96 229.66,245.12 229.81,245.12 229.96,245.10 230.10,245.48 230.25,245.81 230.40,246.11 230.55,245.81 230.70,245.61 230.85,245.72 231.00,245.96 231.15,245.82 231.30,245.43 231.45,245.51 231.59,245.66 231.74,245.96 231.89,245.83 232.04,246.12 232.19,246.07 232.34,245.74 232.49,245.33 232.64,245.52 232.79,246.01 232.94,245.94 233.09,245.64 233.23,245.35 233.38,245.39 233.53,245.09 233.68,245.18 233.83,245.67 233.98,245.96 234.13,245.52 234.28,245.25 234.43,245.30 234.58,245.60 234.72,245.61 234.87,245.80 235.02,245.50 235.17,245.24 235.32,244.84 235.47,244.80 235.62,245.16 235.77,245.73 235.92,246.05 236.07,245.97 236.21,245.41 236.36,245.45 236.51,245.39 236.66,245.91 236.81,246.31 236.96,246.63 237.11,246.36 237.26,246.07 237.41,245.82 237.56,245.38 237.70,245.15 237.85,245.46 238.00,245.88 238.15,246.08 238.30,246.22 238.45,246.04 238.60,245.66 238.75,245.41 238.90,245.59 239.05,245.59 239.19,245.69 239.34,245.68 239.49,245.70 239.64,245.57 239.79,245.61 239.94,245.78 240.09,245.93 240.24,246.20 240.39,246.10 240.54,245.91 240.68,245.66 240.83,245.71 240.98,246.12 241.13,246.48 241.28,246.46 241.43,246.37 241.58,246.52 241.73,246.24 241.88,245.90 242.03,245.96 242.18,246.15 242.32,245.96 242.47,245.87 242.62,246.02 242.77,246.28 242.92,246.20 243.07,246.26 243.22,246.56 243.37,246.96 243.52,246.51 243.67,245.70 243.81,245.32 243.96,245.57 244.11,245.56 244.26,245.77 244.41,246.22 244.56,246.84 244.71,246.59 244.86,246.07 245.01,245.76 245.16,245.74 245.30,246.07 245.45,246.16 245.60,245.96 245.75,245.68 245.90,245.96 246.05,246.45 246.20,246.74 246.35,246.64 246.50,245.86 246.65,245.59 246.79,245.94 246.94,246.67 247.09,246.31 247.24,245.74 247.39,245.72 247.54,246.47 247.69,246.93 247.84,246.62 247.99,246.47 248.14,246.21 248.28,245.87 248.43,245.58 248.58,245.77 248.73,246.16 248.88,246.41 249.03,246.08 249.18,245.81 249.33,245.82 249.48,245.93 249.63,245.72 249.77,245.70 249.92,246.03 250.07,245.95 250.22,245.74 250.37,245.47 250.52,245.66 250.67,245.80 250.82,245.85 250.97,245.89 251.12,246.00 251.26,245.83 251.41,245.86 251.56,246.21 251.71,246.51 251.86,246.08 252.01,246.01 252.16,245.95 252.31,245.69 252.46,245.39 252.61,245.93 252.76,246.31 252.90,246.30 253.05,246.29 253.20,246.45 253.35,246.21 253.50,245.94 253.65,246.03 253.80,246.03 253.95,246.02 254.10,246.07 254.25,246.11 254.39,246.12 254.54,246.18 254.69,246.18 254.84,245.97 254.99,245.89 255.14,245.94 255.29,245.92 255.44,245.71 255.59,245.71 255.74,245.95 255.88,248.07 256.03,246.12 256.18,246.00 256.33,246.07 256.48,246.06 256.63,245.95 256.78,245.90 256.93,245.95 257.08,245.88 257.23,245.91 257.37,245.54 257.52,245.41 257.67,245.38 257.82,245.68 257.97,245.82 258.12,246.02 258.27,245.89 258.42,245.77 258.57,245.93 258.72,245.87 258.86,245.64 259.01,245.64 259.16,246.14 259.31,246.31 259.46,246.27 259.61,245.88 259.76,245.78 259.91,245.66 260.06,245.56 260.21,245.45 260.35,245.46 260.50,245.20 260.65,245.02 260.80,245.22 260.95,245.72 261.10,245.75 261.25,244.36 261.40,245.16 261.55,245.05 261.70,245.08 261.85,245.05 261.99,245.28 262.14,245.33 262.29,245.18 262.44,245.27 262.59,245.48 262.74,245.20 262.89,244.82 263.04,244.90 263.19,245.05 263.34,244.65 263.48,244.52 263.63,244.63 263.78,245.25 263.93,245.37 264.08,245.10 264.23,244.68 264.38,244.67 264.53,244.69 264.68,244.52 264.83,244.60 264.97,244.74 265.12,244.72 265.27,244.25 265.42,244.09 265.57,243.68 265.72,243.87 265.87,243.84 266.02,244.13 266.17,244.17 266.32,244.04 266.46,242.83 266.61,243.80 266.76,244.09 266.91,243.82 267.06,243.51 267.21,243.47 267.36,243.68 267.51,243.71 267.66,243.21 267.81,243.26 267.95,243.30 268.10,243.33 268.25,242.94 268.40,242.93 268.55,243.08 268.70,243.19 268.85,243.10 269.00,242.85 269.15,243.06 269.30,243.45 269.44,243.47 269.59,242.90 269.74,242.58 269.89,242.38 270.04,242.42 270.19,242.50 270.34,242.77 270.49,242.96 270.64,243.28 270.79,243.30 270.94,242.82 271.08,242.58 271.23,242.73 271.38,242.54 271.53,242.04 271.68,241.76 271.83,241.65 271.98,241.44 272.13,241.74 272.28,241.92 272.43,243.79 272.57,241.66 272.72,241.90 272.87,241.84 273.02,242.04 273.17,241.59 273.32,241.38 273.47,241.15 273.62,241.41 273.77,241.49 273.92,241.55 274.06,241.29 274.21,241.07 274.36,241.02 274.51,240.89 274.66,240.70 274.81,240.46 274.96,240.26 275.11,240.41 275.26,240.32 275.41,240.50 275.55,240.49 275.70,240.28 275.85,239.48 276.00,239.25 276.15,239.37 276.30,239.55 276.45,239.68 276.60,239.88 276.75,239.69 276.90,239.36 277.04,239.47 277.19,239.46 277.34,239.62 277.49,239.77 277.64,239.73 277.79,239.27 277.94,239.21 278.09,239.20 278.24,239.05 278.39,238.97 278.53,238.93 278.68,238.77 278.83,238.67 278.98,238.73 279.13,238.88 279.28,238.94 279.43,239.32 279.58,239.31 279.73,239.10 279.88,238.65 280.02,238.43 280.17,238.62 280.32,238.77 280.47,238.68 280.62,238.34 280.77,238.34 280.92,238.60 281.07,238.46 281.22,238.49 281.37,238.83 281.52,238.74 281.66,238.62 281.81,238.18 281.96,238.19 282.11,237.90 282.26,238.10 282.41,238.14 282.56,238.07 282.71,238.04 282.86,238.34 283.01,238.71 283.15,238.89 283.30,238.78 283.45,238.35 283.60,238.23 283.75,238.40 283.90,238.72 284.05,238.31 284.20,237.98 284.35,237.65 284.50,237.64 284.64,237.79 284.79,238.97 284.94,237.92 285.09,237.55 285.24,237.33 285.39,237.28 285.54,237.67 285.69,237.80 285.84,237.83 285.99,237.81 286.13,237.87 286.28,237.90 286.43,238.13 286.58,238.31 286.73,238.18 286.88,238.10 287.03,238.42 287.18,238.76 287.33,238.48 287.48,238.46 287.62,238.56 287.77,238.83 287.92,238.76 288.07,238.90 288.22,239.06 288.37,239.37 288.52,239.46 288.67,239.36 288.82,239.26 288.97,239.30 289.11,239.52 289.26,239.56 289.41,239.72 289.56,239.53 289.71,239.66 289.86,239.79 290.01,239.78 290.16,239.51 290.31,239.51 290.46,239.52 290.61,239.38 290.75,239.52 290.90,239.99 291.05,240.48 291.20,240.28 291.35,240.04 291.50,239.56 291.65,240.05 291.80,240.16 291.95,238.55 292.10,240.49 292.24,241.15 292.39,241.06 292.54,241.03 292.69,241.08 292.84,240.99 292.99,240.59 293.14,240.74 293.29,241.09 293.44,240.71 293.59,240.79 293.73,240.67 293.88,240.83 294.03,240.88 294.18,241.35 294.33,241.36 294.48,241.01 294.63,241.04 294.78,241.39 294.93,241.47 295.08,241.37 295.22,242.01 295.37,241.15 295.52,240.74 295.67,240.78 295.82,241.18 295.97,241.59 296.12,241.69 296.27,241.65 296.42,241.87 296.57,241.80 296.71,241.67 296.86,241.37 297.01,241.37 297.16,241.55 297.31,241.53 297.46,241.45 297.61,241.23 297.76,241.08 297.91,241.24 298.06,241.68 298.20,242.07 298.35,242.03 298.50,241.99 298.65,243.90 298.80,242.12 298.95,241.99 299.10,242.03 299.25,242.62 299.40,241.79 299.55,242.35 299.69,241.80 299.84,240.50 299.99,241.75 300.14,241.97 300.29,242.09 300.44,242.21 300.59,242.15 300.74,241.86 300.89,241.70 301.04,241.91 301.19,242.41 301.33,242.26 301.48,242.20 301.63,242.04 301.78,242.45 301.93,242.68 302.08,242.88 302.23,242.43 302.38,241.95 302.53,241.98 302.68,242.18 302.82,242.21 302.97,242.05 303.12,242.04 303.27,241.98 303.42,242.25 303.57,242.44 303.72,242.65 303.87,242.26 304.02,242.00 304.17,241.82 304.31,242.02 304.46,241.97 304.61,241.96 304.76,242.32 304.91,242.57 305.06,242.38 305.21,242.01 305.36,242.50 305.51,242.99 305.66,242.81 305.80,242.29 305.95,242.20 306.10,242.38 306.25,242.12 306.40,241.87 306.55,241.89 306.70,241.97 306.85,242.01 307.00,242.15 307.15,242.60 307.29,242.86 307.44,242.84 307.59,242.67 307.74,242.64 307.89,242.87 308.04,242.87 308.19,242.57 308.34,242.45 308.49,242.67 308.64,242.84 308.78,242.80 308.93,242.95 309.08,242.89 309.23,242.56 309.38,242.08 309.53,242.21 309.68,242.57 309.83,242.70 309.98,242.86 310.13,242.73 310.28,242.72 310.42,242.43 310.57,242.74 310.72,241.62 310.87,242.85 311.02,242.70 311.17,242.47 311.32,242.02 311.47,242.05 311.62,242.59 311.77,242.70 311.91,242.59 312.06,242.68 312.21,242.90 312.36,242.67 312.51,242.13 312.66,241.82 312.81,241.93 312.96,242.36 313.11,242.61 313.26,242.26 313.40,242.05 313.55,242.18 313.70,242.31 313.85,242.32 314.00,242.35 314.15,242.28 314.30,242.34 314.45,242.08 314.60,241.78 314.75,240.75 314.89,241.72 315.04,242.10 315.19,241.93 315.34,242.06 315.49,242.06 315.64,242.48 315.79,242.41 315.94,242.21 316.09,241.96 316.24,242.12 316.38,242.31 316.53,242.08 316.68,241.54 316.83,241.31 316.98,241.58 317.13,242.09 317.28,242.35 317.43,242.24 317.58,241.97 317.73,242.14 317.87,242.34 318.02,242.58 318.17,242.74 318.32,242.42 318.47,242.22 318.62,241.76 318.77,241.96 318.92,242.09 319.07,242.48 319.22,242.49 319.36,242.32 319.51,242.03 319.66,241.99 319.81,241.98 319.96,242.13 320.11,241.93 320.26,242.00 320.41,241.99 320.56,241.98 320.71,241.80 320.86,241.93 321.00,242.14 321.15,242.23 321.30,242.00 321.45,241.95 321.60,241.64 321.75,241.50 321.90,241.73 322.05,242.18 322.20,242.27 322.35,242.04 322.49,241.71 322.64,241.69 322.79,241.55 322.94,241.55 323.09,241.62 323.24,241.77 323.39,241.72 323.54,241.59 323.69,241.75 323.84,242.06 323.98,241.85 324.13,241.58 324.28,241.51 324.43,241.77 324.58,241.70 324.73,241.45 324.88,241.45 325.03,241.65 325.18,242.04 325.33,242.18 325.47,242.24 325.62,242.10 325.77,241.67 325.92,241.46 326.07,241.22 326.22,241.33 326.37,242.79 326.52,241.44 326.67,241.34 326.82,241.29 326.96,241.48 327.11,241.49 327.26,241.65 327.41,241.61 327.56,241.69 327.71,241.63 327.86,241.69 328.01,241.61 328.16,240.44 328.31,241.62 328.45,241.77 328.60,241.42 328.75,240.85 328.90,241.09 329.05,241.58 329.20,242.14 329.35,242.08 329.50,242.06 329.65,241.49 329.80,241.31 329.95,241.26 330.09,241.49 330.24,241.57 330.39,241.47 330.54,241.12 330.69,240.95 330.84,240.89 330.99,241.01 331.14,242.58 331.29,240.78 331.44,240.70 331.58,240.43 331.73,240.21 331.88,240.14 332.03,242.41 332.18,240.81 332.33,240.67 332.48,240.67 332.63,240.83 332.78,241.17 332.93,241.08 333.07,240.86 333.22,240.51 333.37,240.84 333.52,241.31 333.67,241.36 333.82,241.13 333.97,240.66 334.12,240.69 334.27,240.69 334.42,240.84 334.56,240.58 334.71,240.54 334.86,240.47 335.01,240.33 335.16,240.06 335.31,240.32 335.46,240.36 335.61,240.37 335.76,240.29 335.91,240.69 336.05,240.93 336.20,240.64 336.35,240.22 336.50,239.94 336.65,239.72 336.80,239.81 336.95,239.67 337.10,239.79 337.25,239.85 337.40,240.30 337.54,240.22 337.69,240.12 337.84,240.21 337.99,239.98 338.14,239.60 338.29,239.59 338.44,239.98 338.59,239.95 338.74,239.77 338.89,240.07 339.04,240.16 339.18,240.19 339.33,239.66 339.48,239.67 339.63,239.75 339.78,239.89 339.93,239.61 340.08,239.72 340.23,239.89 340.38,240.04 340.53,239.54 340.67,239.71 340.82,239.37 340.97,239.24 341.12,240.67 341.27,239.24 341.42,239.45 341.57,239.82 341.72,240.25 341.87,240.56 342.02,240.40 342.16,240.02 342.31,239.30 342.46,239.01 342.61,238.97 342.76,239.39 342.91,239.29 343.06,239.14 343.21,238.91 343.36,239.18 343.51,239.42 343.65,239.33 343.80,238.85 343.95,238.68 344.10,238.80 344.25,238.98 344.40,239.09 344.55,239.35 344.70,239.61 344.85,239.47 345.00,239.13 345.14,239.25 345.29,239.45 345.44,239.60 345.59,239.43 345.74,239.50 345.89,239.66 346.04,239.66 346.19,239.68 346.34,239.58 346.49,239.57 346.63,239.26 346.78,239.07 346.93,239.29 347.08,239.63 347.23,239.57 347.38,239.34 347.53,238.93 347.68,238.96 347.83,239.35 347.98,239.57 348.12,239.43 348.27,239.06 348.42,239.22 348.57,239.03 348.72,239.10 348.87,238.76 349.02,238.76 349.17,238.79 349.32,239.16 349.47,239.56 349.62,239.54 349.76,239.25 349.91,238.70 350.06,238.95 350.21,239.17 350.36,239.17 350.51,239.18 350.66,239.34 350.81,239.75 350.96,241.56 351.11,239.71 351.25,239.29 351.40,238.75 351.55,238.55 351.70,238.97 351.85,239.40 352.00,239.29 352.15,239.11 352.30,239.35 352.45,240.02 352.60,239.94 352.74,239.56 352.89,238.94 353.04,238.96 353.19,239.22 353.34,239.52 353.49,239.36 353.64,239.38 353.79,239.89 353.94,240.33 354.09,239.90 354.23,239.34 354.38,239.44 354.53,239.60 354.68,239.59 354.83,239.17 354.98,239.64 355.13,239.85 355.28,239.95 355.43,239.55 355.58,239.54 355.72,239.40 355.87,239.73 356.02,239.89 356.17,240.27 356.32,240.01 356.47,240.09 356.62,240.14 356.77,240.23 356.92,240.11 357.07,239.96 357.21,239.96 357.36,239.85 357.51,239.71 357.66,239.80 357.81,239.74 357.96,240.15 358.11,240.63 358.26,241.23 358.41,241.03 358.56,240.66 358.71,240.84 358.85,241.35 359.00,241.49 359.15,240.79 359.30,240.41 359.45,240.84 359.60,241.49 359.75,241.42 359.90,241.05 360.05,241.47 360.20,241.97 360.34,241.72 360.49,241.01 360.64,240.86 360.79,241.43 360.94,241.62 361.09,241.45 361.24,240.85 361.39,240.81 361.54,241.18 361.69,241.85 361.83,241.75 361.98,241.72 362.13,241.64 362.28,241.60 362.43,241.57 362.58,241.59 362.73,241.68 362.88,241.55 363.03,241.84 363.18,242.05 363.32,242.20 363.47,242.09 363.62,241.98 363.77,241.71 363.92,241.78 364.07,242.42 364.22,243.09 364.37,243.27 364.52,243.02 364.67,242.95 364.81,242.88 364.96,243.07 365.11,243.25 365.26,243.07 365.41,242.91 365.56,242.63 365.71,242.91 365.86,243.10 366.01,242.16 366.16,241.93 366.30,242.97 366.45,243.34 366.60,243.73 366.75,243.85 366.90,243.61 367.05,243.61 367.20,243.55 367.35,243.19 367.50,242.96 367.65,242.99 367.79,243.40 367.94,243.32 368.09,243.34 368.24,243.58 368.39,243.75 368.54,243.87 368.69,243.89 368.84,243.98 368.99,243.70 369.14,243.57 369.29,243.73 369.43,243.81 369.58,243.81 369.73,244.14 369.88,244.57 370.03,244.84 370.18,244.93 370.33,244.81 370.48,244.50 370.63,244.08 370.78,244.22 370.92,244.28 371.07,244.50 371.22,244.68 371.37,244.90 371.52,244.47 371.67,243.92 371.82,243.89 371.97,244.46 372.12,244.71 372.27,244.67 372.41,244.28 372.56,244.37 372.71,244.52 372.86,244.87 373.01,244.70 373.16,244.71 373.31,244.43 373.46,244.39 373.61,244.24 373.76,244.49 373.90,244.72 374.05,244.46 374.20,244.34 374.35,244.35 374.50,244.53 374.65,244.46 374.80,244.69 374.95,244.91 375.10,244.85 375.25,244.91 375.39,244.94 375.54,245.15 375.69,245.22 375.84,245.41 375.99,245.35 376.14,245.53 376.29,245.39 376.44,245.38 376.59,245.13 376.74,245.22 376.88,245.21 377.03,245.42 377.18,245.15 377.33,244.76 377.48,246.26 377.63,244.76 377.78,245.08 377.93,245.40 378.08,245.17 378.23,245.09 378.38,245.29 378.52,245.65 378.67,245.55 378.82,245.52 378.97,245.83 379.12,246.16 379.27,246.29 379.42,245.80 379.57,245.64 379.72,245.48 379.87,245.77 380.01,245.49 380.16,245.53 380.31,245.35 380.46,245.36 380.61,245.66 380.76,245.70 380.91,245.75 381.06,245.55 381.21,245.53 381.36,245.53 381.50,245.67 381.65,245.71 381.80,245.51 381.95,245.42 382.10,245.76 382.25,245.59 382.40,245.47 382.55,244.88 382.70,245.11 382.85,245.49 382.99,246.05 383.14,247.40 383.29,246.20 383.44,245.87 383.59,245.74 383.74,245.73 383.89,245.79 384.04,245.61 384.19,245.55 384.34,245.47 384.48,245.81 384.63,246.18 384.78,246.21 384.93,245.51 385.08,245.19 385.23,245.40 385.38,246.00 385.53,245.89 385.68,245.94 385.83,246.01 385.97,245.77 386.12,245.60 386.27,246.00 386.42,246.45 386.57,246.11 386.72,246.09 386.87,246.38 387.02,246.16 387.17,245.87 387.32,245.94 387.46,246.29 387.61,245.79 387.76,245.30 387.91,245.29 388.06,246.07 388.21,246.51 388.36,246.40 388.51,245.95 388.66,245.82 388.81,245.18 388.96,246.07 389.10,246.38 389.25,246.45 389.40,246.56 389.55,244.50 389.70,245.97 389.85,245.84 390.00,245.63 390.15,245.71 390.30,245.51 390.45,246.05 390.59,246.28 390.74,246.22 390.89,245.79 391.04,245.93 391.19,246.10 391.34,246.07 391.49,245.96 391.64,245.98 391.79,245.95 391.94,246.19 392.08,246.16 392.23,246.19 392.38,245.66 392.53,245.78 392.68,246.00 392.83,246.56 392.98,246.36 393.13,246.45 393.28,246.43 393.43,246.46 393.57,246.34 393.72,246.26 393.87,246.03 394.02,246.10 394.17,246.41 394.32,246.58 394.47,246.68 394.62,246.68 394.77,246.72 394.92,246.72 395.06,246.87 395.21,246.74 395.36,244.96 395.51,245.99 395.66,245.86 395.81,246.18 395.96,245.80 396.11,246.10 396.26,246.13 396.41,246.80 396.55,246.62 396.70,246.83 396.85,246.43 397.00,246.46 397.15,246.49 397.30,246.77 397.45,246.47 397.60,246.40 397.75,246.22 397.90,246.41 398.05,246.60 398.19,246.72 398.34,246.69 398.49,246.71 398.64,246.75 398.79,246.59 398.94,246.15 399.09,246.25 399.24,246.52 399.39,246.77 399.54,246.60 399.68,246.51 399.83,246.46 399.98,246.53 400.13,246.40 400.28,246.29 400.43,246.32 400.58,246.35 400.73,246.11 400.88,246.32 401.03,247.14 401.17,247.45 401.32,247.24 401.47,246.73 401.62,246.83 401.77,246.84 401.92,246.93 402.07,246.78 402.22,246.71 402.37,246.51 402.52,246.43 402.66,246.39 402.81,246.35 402.96,245.93 403.11,245.82 403.26,246.11 403.41,246.86 403.56,247.19 403.71,246.93 403.86,246.66 404.01,246.44 404.15,246.34 404.30,246.50 404.45,246.73 404.60,246.79 404.75,246.65 404.90,246.92 405.05,247.05 405.20,245.57 405.35,246.81 405.50,246.81 405.64,246.78 405.79,246.32 405.94,246.08 406.09,246.20 406.24,246.46 406.39,246.90 406.54,247.51 406.69,248.03 406.84,247.51 406.99,247.05 407.14,246.91 407.28,247.13 407.43,246.77 407.58,246.75 407.73,247.14 407.88,247.63 408.03,247.79 408.18,247.52 408.33,247.36 408.48,247.28 408.63,247.21 408.77,246.94 408.92,246.63 409.07,246.92 409.22,246.85 409.37,246.92 409.52,246.76 409.67,247.08 409.82,247.02 409.97,247.01 410.12,246.92 410.26,246.90 410.41,246.80 410.56,246.73 410.71,246.79 410.86,246.90 411.01,246.86 411.16,246.90 411.31,246.85 411.46,246.85 411.61,246.62 411.75,246.31 411.90,246.25 412.05,246.60 412.20,246.95 412.35,247.28 412.50,247.12 412.65,246.97 412.80,246.45 412.95,246.76 413.10,246.75 413.24,246.96 413.39,246.92 413.54,247.61 413.69,247.91 413.84,247.92 413.99,247.46 414.14,247.53 414.29,247.43 414.44,247.06 414.59,246.84 414.73,247.02 414.88,247.07 415.03,246.94 415.18,247.11 415.33,246.97 415.48,246.97 415.63,247.38 415.78,247.65 415.93,247.08 416.08,246.71 416.22,246.87 416.37,247.25 416.52,247.43 416.67,247.44 416.82,247.52 416.97,248.34 417.12,246.81 417.27,246.65 417.42,248.25 417.57,247.24 417.72,247.27 417.86,247.00 418.01,246.51 418.16,246.52 418.31,245.77 418.46,247.63 418.61,247.20 418.76,246.77 418.91,246.91 419.06,247.24 419.21,246.50 419.35,247.84 419.50,248.05 419.65,247.75 419.80,247.56 419.95,247.51 420.10,247.56 420.25,247.39 420.40,247.29 420.55,247.06 420.70,247.04 420.84,247.00 420.99,247.11 421.14,247.23 421.29,247.56 421.44,247.24 421.59,246.82 421.74,246.56 421.89,246.91 422.04,246.98 422.19,247.29 422.33,247.26 422.48,247.39 422.63,247.11 422.78,246.97 422.93,246.86 423.08,247.14 423.23,246.95 423.38,246.86 423.53,246.66 423.68,246.96 423.82,246.73 423.97,246.80 424.12,247.06 424.27,247.74 424.42,247.65 424.57,247.59 424.72,247.42 424.87,248.46 425.02,247.30 425.17,247.43 425.31,247.46 425.46,247.42 425.61,247.55 425.76,247.57 425.91,247.42 426.06,247.05 426.21,246.79 426.36,246.85 426.51,247.22 426.66,247.51 426.81,247.45 426.95,247.36 427.10,247.25 427.25,247.27 427.40,245.74 427.55,247.37 427.70,247.54 427.85,247.76 428.00,247.77 428.15,247.56 428.30,247.46 428.44,247.54 428.59,247.50 428.74,247.71 428.89,247.77 429.04,247.72 429.19,247.65 429.34,247.80 429.49,248.05 429.64,247.80 429.79,247.62 429.93,247.08 430.08,247.09 430.23,246.86 430.38,246.88 430.53,246.86 430.68,246.97 430.83,247.10 430.98,246.69 431.13,246.98 431.28,246.80 431.42,246.93 431.57,247.10 431.72,247.48 431.87,247.72 432.02,247.80 432.17,247.99 432.32,247.56 432.47,247.31 432.62,247.38 432.77,247.65 432.91,247.98 433.06,247.58 433.21,247.37 433.36,247.42 433.51,247.57 433.66,247.46 433.81,247.65 433.96,248.03 434.11,247.86 434.26,247.78 434.40,247.89 434.55,247.82 434.70,247.48 434.85,247.17 435.00,247.50 435.15,247.69 435.30,247.60 435.45,247.17 435.60,246.93 435.75,247.08 435.89,247.50 436.04,247.99 436.19,247.80 436.34,247.35 436.49,246.96 436.64,246.99 436.79,246.90 436.94,247.30 437.09,247.72 437.24,247.83 437.39,247.05 437.53,247.09 437.68,247.55 437.83,247.99 437.98,247.83 438.13,247.61 438.28,246.47 438.43,247.48 438.58,247.62 438.73,247.54 438.88,247.37 439.02,247.03 439.17,247.26 439.32,247.80 439.47,247.96 439.62,247.57 439.77,247.29 439.92,247.41 440.07,247.34 440.22,247.49 440.37,247.42 440.51,247.36 440.66,247.17 440.81,247.72 440.96,246.37 441.11,247.70 441.26,247.17 441.41,247.30 441.56,247.50 441.71,247.71 441.86,247.58 442.00,247.58 442.15,247.77 442.30,247.79 442.45,247.61 442.60,248.70 442.75,247.32 442.90,247.59 443.05,247.63 443.20,247.63 443.35,247.67 443.49,247.81 443.64,247.79 443.79,247.81 443.94,247.65 444.09,247.59 444.24,247.43 444.39,247.59 444.54,247.22 444.69,247.01 444.84,246.94 444.98,247.59 445.13,248.44 445.28,249.03 445.43,249.01 445.58,248.69 445.73,248.33 445.88,248.19 446.03,247.92 446.18,247.64 446.33,247.60 446.48,247.80 446.62,247.78 446.77,247.43 446.92,247.19 447.07,247.92 447.22,248.26 447.37,248.41 447.52,248.16 447.67,248.47 447.82,248.10 447.97,248.14 448.11,248.16 448.26,248.07 448.41,247.53 448.56,247.45 448.71,247.97 448.86,248.00 449.01,247.71 449.16,247.37 449.31,247.73 449.46,247.69 449.60,247.42 449.75,245.85 449.90,247.58 450.05,247.80 450.20,247.81 450.35,247.73 450.50,247.80 450.65,248.01 450.80,247.90 450.95,247.78 451.09,246.03 451.24,249.28 451.39,248.00 451.54,248.08 451.69,248.10 451.84,248.00 451.99,248.22 452.14,248.04 452.29,247.89 452.44,247.37 452.58,247.20 452.73,247.24 452.88,247.17 453.03,247.24 453.18,247.59 453.33,248.12 453.48,248.14 453.63,248.09 453.78,247.92 453.93,247.73 454.07,247.77 454.22,247.92 454.37,248.13 454.52,247.97 454.67,248.03 454.82,248.14 454.97,248.25 455.12,248.35 455.27,248.52 455.42,248.09 455.56,248.03 455.71,247.77 455.86,248.39 456.01,248.00 456.16,247.71 456.31,246.95 456.46,247.24 456.61,247.55 456.76,247.60 456.91,247.76 457.06,247.87 457.20,247.93 457.35,248.03 457.50,247.93 457.65,247.44 457.80,247.29 457.95,247.71 458.10,247.96 458.25,247.58 458.40,247.29 458.55,247.38 458.69,247.92 458.84,248.32 458.99,248.22 459.14,247.89 459.29,247.46 459.44,247.35 459.59,247.11 459.74,247.53 459.89,247.84 460.04,247.95 460.18,247.51 460.33,247.69 460.48,247.91 460.63,247.85 460.78,249.42 460.93,248.01 461.08,248.07 461.23,247.86 461.38,248.04 461.53,248.27 461.67,248.22 461.82,248.15 461.97,247.70 462.12,247.65 462.27,247.49 462.42,247.67 462.57,247.51 462.72,248.02 462.87,248.23 463.02,248.13 463.16,247.90 463.31,247.61 463.46,247.44 463.61,247.56 463.76,247.80 463.91,247.84 464.06,247.68 464.21,247.51 464.36,247.51 464.51,247.81 464.65,248.17 464.80,248.08 464.95,247.84 465.10,247.82 465.25,247.99 465.40,248.22 465.55,247.97 465.70,247.65 465.85,247.80 466.00,248.16 466.15,248.36 466.29,247.96 466.44,248.02 466.59,247.95 466.74,247.79 466.89,247.93 467.04,248.37 467.19,248.58 467.34,248.34 467.49,247.51 467.64,248.60 467.78,248.46 467.93,247.93 468.08,247.78 468.23,247.47 468.38,247.46 468.53,247.52 468.68,247.94 468.83,248.30 468.98,248.21 469.13,247.77 469.27,247.55 469.42,247.59 469.57,248.02 469.72,247.08 469.87,248.31 470.02,247.91 470.17,247.98 470.32,248.06 470.47,247.80 470.62,247.58 470.76,248.01 470.91,248.27 471.06,248.18 471.21,247.95 471.36,247.90 471.51,247.96 471.66,249.00 471.81,248.05 471.96,248.11 472.11,248.05 472.25,247.92 472.40,247.73 472.55,247.44 472.70,247.32 472.85,247.76 473.00,248.17 473.15,248.23 473.30,248.10 473.45,248.04 473.60,247.80 473.74,247.75 473.89,247.72 474.04,247.85 474.19,247.98 474.34,248.18 474.49,248.03 474.64,247.23 474.79,248.05 474.94,247.52 475.09,247.33 475.24,247.32 475.38,247.59 475.53,247.45 475.68,247.54 475.83,247.33 475.98,246.99 476.13,247.04 476.28,247.46 476.43,247.88 476.58,247.69 476.73,247.53 476.87,247.66 477.02,247.88 477.17,247.76 477.32,247.97 477.47,247.90 477.62,247.64 477.77,247.13 477.92,247.32 478.07,248.07 478.22,248.29 478.36,248.08 478.51,247.47 478.66,247.50 478.81,247.68 478.96,247.79 479.11,248.05 479.26,248.25 479.41,248.26 479.56,248.21 479.71,247.86 479.85,247.85 480.00,247.87 480.15,247.95 480.30,247.76 480.45,247.72 480.60,248.04 480.75,248.12 480.90,248.37 481.05,248.34 481.20,248.37 481.34,248.47 481.49,248.44 481.64,249.43 481.79,247.43 481.94,247.63 482.09,248.06 482.24,247.97 482.39,247.49 482.54,247.17 482.69,247.90 482.83,248.17 482.98,248.19 483.13,247.62 483.28,247.75 483.43,247.61 483.58,247.70 483.73,248.99 483.88,247.53 484.03,247.57 484.18,247.79 484.32,247.86 484.47,248.21 484.62,248.13 484.77,248.18 484.92,248.03 485.07,248.07 485.22,247.85 485.37,247.87 485.52,248.05 485.67,248.17 485.82,248.23 485.96,248.11 486.11,247.66 486.26,247.59 486.41,247.88 486.56,248.25 486.71,248.10 486.86,247.75 487.01,247.66 487.16,247.82 487.31,247.77 487.45,248.48 487.60,247.30 487.75,247.75 487.90,247.85 488.05,247.51 488.20,247.23 488.35,247.66 488.50,248.02 488.65,247.82 488.80,246.75 488.94,247.97 489.09,248.08 489.24,247.88 489.39,247.64 489.54,247.59 489.69,247.26 489.84,247.15 489.99,247.33 490.14,247.66 490.29,247.70 490.43,247.84 490.58,247.60 490.73,247.54 490.88,247.36 491.03,247.54 491.18,247.47 491.33,247.88 491.48,247.78 491.63,247.30 491.78,246.93 491.92,247.15 492.07,247.35 492.22,247.33 492.37,247.77 492.52,247.98 492.67,247.70 492.82,247.62 492.97,247.97 493.12,248.08 493.27,247.66 493.41,247.54 493.56,247.48 493.71,247.38 493.86,247.10 494.01,247.31 494.16,247.76 494.31,247.97 494.46,248.09 494.61,247.57 494.76,247.33 494.91,246.82 495.05,247.22 495.20,247.60 495.35,247.60 495.50,247.12 495.65,246.95 495.80,247.05 495.95,246.93 496.10,246.76 496.25,247.02 496.40,247.10 496.54,247.01 496.69,246.82 496.84,245.82 496.99,247.19 497.14,247.30 497.29,247.51 497.44,247.51 497.59,247.46 497.74,247.38 497.89,247.40 498.03,247.56 498.18,247.69 498.33,247.85 498.48,247.46 498.63,247.20 498.78,247.20 498.93,247.58 499.08,247.51 499.23,247.22 499.38,246.81 499.52,246.60 499.67,246.87 499.82,247.25 499.97,247.54 500.12,247.57 500.27,247.60 500.42,247.45 500.57,247.08 500.72,246.91 500.87,246.99 501.01,247.47 501.16,247.81 501.31,247.59 501.46,247.10 501.61,247.03 501.76,247.32 501.91,247.53 502.06,247.45 502.21,247.57 502.36,247.58 502.50,247.72 502.65,247.66 502.80,247.55 502.95,247.07 503.10,246.95 503.25,247.18 503.40,247.44 503.55,247.16 503.70,246.61 503.85,246.46 503.99,247.03 504.14,247.27 504.29,247.06 504.44,246.80 504.59,247.20 504.74,247.14 504.89,247.00 505.04,246.93 505.19,246.90 505.34,246.87 505.49,246.72 505.63,246.86 505.78,246.96 505.93,247.17 506.08,246.88 506.23,246.81 506.38,247.02 506.53,247.25 506.68,247.23 506.83,247.05 506.98,246.80 507.12,246.59 507.27,246.78 507.42,247.11 507.57,247.03 507.72,246.88 507.87,246.80 508.02,246.82 508.17,246.38 508.32,245.95 508.47,246.20 508.61,246.43 508.76,246.26 508.91,245.81 509.06,246.02 509.21,246.61 509.36,247.92 509.51,246.92 509.66,246.58 509.81,245.51 509.96,246.71 510.10,246.42 510.25,246.44 510.40,246.76 510.55,246.85 510.70,246.47 510.85,246.42 511.00,246.68 511.15,246.65 511.30,246.54 511.45,246.82 511.59,246.91 511.74,246.94 511.89,246.73 512.04,246.53 512.19,246.38 512.34,246.49 512.49,246.87 512.64,247.07 512.79,247.21 512.94,247.02 513.08,246.78 513.23,246.74 513.38,246.55 513.53,246.18 513.68,246.14 513.83,246.17 513.98,246.17 514.13,246.38 514.28,246.84 514.43,247.04 514.58,246.72 514.72,246.68 514.87,246.37 515.02,246.10 515.17,245.85 515.32,245.90 515.47,246.21 515.62,246.31 515.77,246.13 515.92,245.98 516.07,246.24 516.21,246.62 516.36,246.27 516.51,245.84 516.66,245.25 516.81,245.42 516.96,245.69 517.11,245.94 517.26,246.06 517.41,246.04 517.56,245.91 517.70,245.52 517.85,245.43 518.00,245.49 518.15,245.64 518.30,245.73 518.45,245.52 518.60,245.25 518.75,245.17 518.90,245.38 519.05,245.47 519.19,245.43 519.34,245.38 519.49,245.35 519.64,245.11 519.79,245.09 519.94,245.59 520.09,246.02 520.24,245.95 520.39,245.50 520.54,245.25 520.68,245.45 520.83,245.45 520.98,245.74 521.13,245.72 521.28,245.87 521.43,245.50 521.58,245.61 521.73,245.79 521.88,245.71 522.03,245.76 522.17,245.78 522.32,245.54 522.47,245.20 522.62,245.34 522.77,245.62 522.92,245.68 523.07,245.85 523.22,245.63 523.37,245.31 523.52,245.16 523.66,245.39 523.81,245.13 523.96,245.10 524.11,245.23 524.26,245.89 524.41,245.82 524.56,245.58 524.71,245.36 524.86,245.58 525.01,245.81 525.16,246.01 525.30,245.90 525.45,245.66 525.60,245.64 525.75,245.71 525.90,246.03 526.05,246.16 526.20,246.23 526.35,245.58 526.50,245.33 526.65,245.02 526.79,245.34 526.94,245.49 527.09,245.79 527.24,245.80 527.39,246.00 527.54,245.92 527.69,245.96 527.84,245.80 527.99,245.44 528.14,245.01 528.28,245.37 528.43,246.09 528.58,246.27 528.73,245.93 528.88,245.76 529.03,245.71 529.18,245.62 529.33,245.35 529.48,245.54 529.63,245.20 529.77,245.02 529.92,244.79 530.07,245.28 530.22,245.74 530.37,246.07 530.52,246.43 530.67,246.48 530.82,246.20 530.97,245.70 531.12,245.85 531.26,246.17 531.41,246.63 531.56,246.65 531.71,246.29 531.86,245.66 532.01,245.76 532.16,244.60 532.31,245.60 532.46,245.80 532.61,246.24 532.75,246.14 532.90,246.27 533.05,246.68 533.20,246.89 533.35,246.83 533.50,246.56" fill="none" stroke="#0000ff" stroke-width="2.9" stroke-linejoin="round"/>
<path d="M56.80,209.31 56.95,209.64 57.10,209.99 57.25,209.66 57.40,209.22 57.55,209.09 57.69,209.38 57.84,209.13 57.99,209.18 58.14,209.31 58.29,209.88 58.44,209.98 58.59,209.95 58.74,209.41 58.89,209.64 59.04,209.43 59.18,209.64 59.33,209.36 59.48,209.46 59.63,209.11 59.78,209.06 59.93,209.29 60.08,209.45 60.23,209.81 60.38,209.51 60.53,209.33 60.67,209.01 60.82,209.43 60.97,209.14 61.12,209.07 61.27,209.07 61.42,209.22 61.57,209.36 61.72,209.50 61.87,209.90 62.02,209.95 62.16,209.74 62.31,209.29 62.46,209.10 62.61,209.44 62.76,209.80 62.91,209.71 63.06,209.37 63.21,209.08 63.36,209.09 63.51,209.17 63.65,209.31 63.80,209.80 63.95,209.88 64.10,209.70 64.25,209.42 64.40,209.39 64.55,209.29 64.70,209.24 64.85,209.58 65.00,209.45 65.14,209.57 65.29,209.53 65.44,209.69 65.59,209.63 65.74,209.85 65.89,210.00 66.04,209.90 66.19,209.73 66.34,209.58 66.49,209.39 66.64,209.54 66.78,209.47 66.93,209.31 67.08,209.43 67.23,209.74 67.38,209.63 67.53,209.53 67.68,209.67 67.83,209.95 67.98,209.55 68.13,209.45 68.27,208.99 68.42,208.71 68.57,208.56 68.72,208.90 68.87,209.44 69.02,210.11 69.17,210.03 69.32,209.86 69.47,209.43 69.62,209.49 69.76,209.07 69.91,208.83 70.06,208.71 70.21,208.80 70.36,209.04 70.51,210.71 70.66,209.52 70.81,209.66 70.96,209.74 71.11,209.72 71.25,209.84 71.40,209.76 71.55,209.50 71.70,209.37 71.85,209.57 72.00,209.79 72.15,209.86 72.30,209.77 72.45,209.55 72.60,209.49 72.74,209.15 72.89,209.37 73.04,209.45 73.19,209.66 73.34,209.52 73.49,209.52 73.64,209.40 73.79,209.48 73.94,209.59 74.09,209.40 74.23,209.19 74.38,208.94 74.53,209.26 74.68,209.35 74.83,209.55 74.98,209.66 75.13,210.20 75.28,210.20 75.43,209.78 75.58,210.77 75.72,209.91 75.87,209.80 76.02,209.51 76.17,209.44 76.32,209.56 76.47,209.61 76.62,209.52 76.77,209.25 76.92,208.85 77.07,208.27 77.22,208.31 77.36,208.84 77.51,209.21 77.66,209.32 77.81,209.39 77.96,209.56 78.11,209.26 78.26,209.09 78.41,208.95 78.56,208.83 78.71,208.84 78.85,209.11 79.00,208.46 79.15,209.21 79.30,209.15 79.45,208.95 79.60,208.95 79.75,208.90 79.90,209.06 80.05,209.04 80.20,208.20 80.34,208.93 80.49,208.77 80.64,208.68 80.79,208.97 80.94,209.13 81.09,209.44 81.24,209.42 81.39,208.79 81.54,208.17 81.69,208.58 81.83,209.24 81.98,209.13 82.13,208.64 82.28,208.84 82.43,209.23 82.58,209.48 82.73,209.29 82.88,209.35 83.03,209.43 83.18,209.09 83.32,208.84 83.47,208.83 83.62,208.99 83.77,208.96 83.92,208.98 84.07,208.43 84.22,208.38 84.37,208.83 84.52,209.30 84.67,208.87 84.81,208.70 84.96,208.52 85.11,208.55 85.26,208.55 85.41,208.68 85.56,208.44 85.71,208.32 85.86,208.59 86.01,209.10 86.16,209.31 86.31,209.05 86.45,208.61 86.60,208.59 86.75,208.98 86.90,208.89 87.05,208.77 87.20,208.25 87.35,208.27 87.50,208.23 87.65,208.41 87.80,208.08 87.94,208.03 88.09,208.52 88.24,208.74 88.39,208.86 88.54,208.66 88.69,208.93 88.84,208.85 88.99,208.92 89.14,208.71 89.29,208.76 89.43,209.03 89.58,209.39 89.73,209.44 89.88,208.97 90.03,208.31 90.18,208.00 90.33,208.05 90.48,208.28 90.63,208.39 90.78,208.38 90.92,208.47 91.07,208.26 91.22,207.95 91.37,208.07 91.52,208.58 91.67,208.64 91.82,208.57 91.97,208.40 92.12,208.31 92.27,207.76 92.41,207.93 92.56,208.11 92.71,208.57 92.86,208.59 93.01,208.57 93.16,208.35 93.31,208.42 93.46,208.41 93.61,208.26 93.76,208.03 93.90,208.20 94.05,208.41 94.20,208.73 94.35,208.61 94.50,208.52 94.65,208.12 94.80,208.10 94.95,207.95 95.10,208.33 95.25,208.40 95.39,208.21 95.54,207.91 95.69,207.90 95.84,207.88 95.99,207.66 96.14,207.41 96.29,207.89 96.44,208.17 96.59,208.33 96.74,207.65 96.89,207.27 97.03,207.05 97.18,207.26 97.33,207.57 97.48,207.45 97.63,207.43 97.78,207.63 97.93,207.67 98.08,207.56 98.23,207.20 98.38,207.28 98.52,207.23 98.67,207.69 98.82,207.55 98.97,207.34 99.12,207.23 99.27,207.17 99.42,206.97 99.57,206.66 99.72,206.66 99.87,206.76 100.01,207.09 100.16,207.65 100.31,207.85 100.46,207.84 100.61,207.31 100.76,206.88 100.91,206.62 101.06,206.23 101.21,206.39 101.36,206.44 101.50,206.48 101.65,206.89 101.80,206.30 101.95,206.75 102.10,206.74 102.25,206.52 102.40,206.29 102.55,206.11 102.70,205.96 102.85,206.01 102.99,205.86 103.14,205.89 103.29,205.72 103.44,205.84 103.59,205.53 103.74,205.55 103.89,205.36 104.04,205.64 104.19,204.14 104.34,205.55 104.48,205.73 104.63,205.90 104.78,205.76 104.93,205.60 105.08,205.63 105.23,204.60 105.38,205.40 105.53,205.53 105.68,203.84 105.83,205.38 105.98,205.41 106.12,205.49 106.27,205.48 106.42,205.02 106.57,204.88 106.72,204.90 106.87,205.09 107.02,205.35 107.17,205.16 107.32,204.88 107.47,204.92 107.61,205.25 107.76,205.29 107.91,205.35 108.06,205.41 108.21,205.31 108.36,204.99 108.51,205.18 108.66,205.36 108.81,205.16 108.96,204.80 109.10,204.44 109.25,204.63 109.40,203.21 109.55,204.87 109.70,204.52 109.85,204.02 110.00,204.07 110.15,204.23 110.30,204.41 110.45,204.35 110.59,204.28 110.74,204.11 110.89,203.82 111.04,203.65 111.19,204.11 111.34,204.39 111.49,204.37 111.64,204.05 111.79,203.56 111.94,203.33 112.08,203.32 112.23,203.68 112.38,203.67 112.53,203.35 112.68,203.34 112.83,203.49 112.98,203.47 113.13,202.97 113.28,202.79 113.43,203.21 113.57,203.32 113.72,203.33 113.87,203.39 114.02,203.21 114.17,202.98 114.32,202.74 114.47,202.49 114.62,201.98 114.77,202.33 114.92,202.84 115.06,203.51 115.21,203.14 115.36,202.85 115.51,202.58 115.66,202.81 115.81,202.89 115.96,202.85 116.11,202.70 116.26,202.10 116.41,201.75 116.56,202.21 116.70,202.88 116.85,203.20 117.00,202.77 117.15,202.43 117.30,202.00 117.45,202.09 117.60,202.16 117.75,202.33 117.90,202.55 118.05,202.41 118.19,202.26 118.34,201.73 118.49,201.89 118.64,201.78 118.79,201.87 118.94,201.66 119.09,201.99 119.24,202.02 119.39,201.75 119.54,201.15 119.68,199.39 119.83,201.06 119.98,201.05 120.13,200.95 120.28,201.19 120.43,201.12 120.58,201.10 120.73,201.31 120.88,201.16 121.03,201.02 121.17,201.19 121.32,201.32 121.47,200.94 121.62,200.30 121.77,200.26 121.92,200.11 122.07,200.28 122.22,200.00 122.37,199.75 122.52,199.52 122.66,199.49 122.81,199.41 122.96,199.36 123.11,199.22 123.26,199.15 123.41,199.23 123.56,198.95 123.71,198.74 123.86,198.57 124.01,199.58 124.15,198.23 124.30,198.09 124.45,198.09 124.60,198.30 124.75,198.19 124.90,198.32 125.05,198.15 125.20,198.29 125.35,198.29 125.50,198.14 125.65,197.98 125.79,198.22 125.94,198.33 126.09,197.99 126.24,197.55 126.39,197.50 126.54,197.28 126.69,197.10 126.84,197.10 126.99,197.27 127.14,197.27 127.28,197.26 127.43,197.29 127.58,197.28 127.73,196.76 127.88,196.71 128.03,196.87 128.18,196.47 128.33,195.61 128.48,195.24 128.63,195.72 128.77,196.12 128.92,196.06 129.07,195.74 129.22,195.56 129.37,195.30 129.52,195.14 129.67,194.96 129.82,195.06 129.97,194.86 130.12,194.58 130.26,194.18 130.41,194.10 130.56,194.28 130.71,194.29 130.86,194.33 131.01,194.20 131.16,192.12 131.31,193.38 131.46,193.33 131.61,193.40 131.75,193.53 131.90,193.58 132.05,193.61 132.20,193.39 132.35,193.08 132.50,192.86 132.65,192.60 132.80,192.40 132.95,191.86 133.10,191.63 133.24,191.36 133.39,191.35 133.54,191.45 133.69,191.77 133.84,191.66 133.99,190.98 134.14,190.37 134.29,190.01 134.44,189.59 134.59,189.11 134.74,188.79 134.88,188.51 135.03,188.49 135.18,188.29 135.33,187.95 135.48,187.58 135.63,187.39 135.78,186.94 135.93,186.39 136.08,186.38 136.23,186.49 136.37,186.45 136.52,186.03 136.67,185.52 136.82,185.36 136.97,185.06 137.12,184.81 137.27,184.25 137.42,184.15 137.57,184.01 137.72,184.27 137.86,183.71 138.01,183.52 138.16,183.18 138.31,183.38 138.46,183.11 138.61,182.90 138.76,182.45 138.91,182.13 139.06,181.95 139.21,181.45 139.35,181.00 139.50,180.73 139.65,180.23 139.80,179.98 139.95,179.83 140.10,179.26 140.25,178.37 140.40,178.42 140.55,178.97 140.70,178.84 140.84,177.82 140.99,177.04 141.14,176.93 141.29,177.03 141.44,176.60 141.59,175.84 141.74,175.49 141.89,175.18 142.04,174.87 142.19,174.39 142.33,174.27 142.48,173.84 142.63,173.23 142.78,172.13 142.93,171.67 143.08,171.46 143.23,171.24 143.38,170.03 143.53,169.07 143.68,168.62 143.82,168.86 143.97,168.62 144.12,168.08 144.27,167.30 144.42,166.89 144.57,166.04 144.72,165.07 144.87,164.13 145.02,163.77 145.17,163.42 145.32,163.16 145.46,162.58 145.61,162.11 145.76,161.53 145.91,161.56 146.06,161.14 146.21,161.10 146.36,160.70 146.51,160.02 146.66,159.05 146.81,158.46 146.95,157.83 147.10,157.08 147.25,156.50 147.40,156.21 147.55,155.37 147.70,154.69 147.85,154.12 148.00,153.64 148.15,152.87 148.30,152.09 148.44,151.32 148.59,150.79 148.74,149.77 148.89,149.40 149.04,148.96 149.19,148.78 149.34,148.05 149.49,147.19 149.64,146.72 149.79,145.89 149.93,145.27 150.08,144.25 150.23,143.88 150.38,143.00 150.53,141.69 150.68,140.44 150.83,139.06 150.98,138.01 151.13,136.83 151.28,136.32 151.42,135.15 151.57,133.72 151.72,131.91 151.87,130.36 152.02,128.86 152.17,127.46 152.32,124.21 152.47,123.53 152.62,121.18 152.77,119.29 152.91,117.53 153.06,115.87 153.21,114.24 153.36,112.98 153.51,112.19 153.66,111.32 153.81,110.03 153.96,108.21 154.11,105.89 154.26,103.76 154.41,102.19 154.55,101.07 154.70,100.01 154.85,100.50 155.00,97.69 155.15,96.91 155.30,96.15 155.45,95.35 155.60,94.28 155.75,93.36 155.90,92.29 156.04,90.78 156.19,89.04 156.34,86.82 156.49,85.06 156.64,83.43 156.79,82.06 156.94,80.49 157.09,78.86 157.24,76.82 157.39,74.35 157.53,71.11 157.68,70.91 157.83,69.81 157.98,68.52 158.13,67.79 158.28,67.16 158.43,65.79 158.58,63.79 158.73,62.30 158.88,60.88 159.02,58.68 159.17,58.72 159.32,57.41 159.47,55.87 159.62,54.60 159.77,53.83 159.92,53.03 160.07,52.81 160.22,52.10 160.37,51.45 160.51,50.68 160.66,50.28 160.81,49.68 160.96,49.05 161.11,48.20 161.26,47.48 161.41,46.88 161.56,46.74 161.71,46.33 161.86,45.92 162.00,45.47 162.15,45.01 162.30,44.49 162.45,42.14 162.60,42.86 162.75,41.87 162.90,41.01 163.05,40.35 163.20,39.95 163.35,38.83 163.49,37.24 163.64,35.51 163.79,33.84 163.94,33.99 164.09,34.94 164.24,38.63 164.39,44.59 164.54,46.96 164.69,48.14 164.84,49.09 164.99,50.04 165.13,50.73 165.28,51.45 165.43,52.23 165.58,53.08 165.73,53.64 165.88,54.65 166.03,55.87 166.18,57.21 166.33,58.14 166.48,58.90 166.62,59.98 166.77,61.12 166.92,63.57 167.07,63.28 167.22,64.35 167.37,65.34 167.52,66.17 167.67,67.53 167.82,68.30 167.97,68.97 168.11,70.09 168.26,71.62 168.41,72.29 168.56,73.22 168.71,74.81 168.86,76.87 169.01,78.37 169.16,79.95 169.31,81.80 169.46,83.93 169.60,86.05 169.75,88.07 169.90,89.97 170.05,91.41 170.20,92.80 170.35,94.24 170.50,95.74 170.65,96.26 170.80,97.24 170.95,98.73 171.09,100.75 171.24,104.70 171.39,105.89 171.54,108.24 171.69,109.79 171.84,111.04 171.99,111.99 172.14,113.10 172.29,114.31 172.44,115.21 172.58,117.10 172.73,120.43 172.88,124.37 173.03,127.16 173.18,129.26 173.33,131.27 173.48,133.35 173.63,134.85 173.78,136.20 173.93,137.80 174.08,139.65 174.22,141.58 174.37,143.13 174.52,144.16 174.67,144.65 174.82,145.25 174.97,145.98 175.12,147.20 175.27,146.51 175.42,148.88 175.57,149.71 175.71,150.69 175.86,151.68 176.01,152.71 176.16,153.80 176.31,154.56 176.46,155.76 176.61,157.30 176.76,158.28 176.91,159.22 177.06,160.09 177.20,161.13 177.35,161.81 177.50,162.69 177.65,163.61 177.80,164.55 177.95,165.20 178.10,166.23 178.25,167.19 178.40,167.96 178.55,167.94 178.69,168.47 178.84,169.38 178.99,169.55 179.14,171.55 179.29,172.70 179.44,173.32 179.59,173.89 179.74,174.18 179.89,174.71 180.04,175.47 180.18,176.24 180.33,176.79 180.48,177.03 180.63,177.68 180.78,178.42 180.93,179.05 181.08,179.30 181.23,179.74 181.38,180.25 181.53,180.86 181.67,181.40 181.82,182.16 181.97,182.33 182.12,182.96 182.27,183.82 182.42,185.05 182.57,185.78 182.72,186.01 182.87,185.86 183.02,185.98 183.16,186.90 183.31,187.48 183.46,187.81 183.61,188.38 183.76,188.91 183.91,189.39 184.06,189.94 184.21,190.58 184.36,191.04 184.51,191.31 184.66,191.40 184.80,191.42 184.95,191.80 185.10,192.37 185.25,192.77 185.40,193.19 185.55,193.60 185.70,193.90 185.85,194.00 186.00,192.59 186.15,194.29 186.29,194.50 186.44,195.02 186.59,195.10 186.74,195.28 186.89,195.08 187.04,195.41 187.19,195.79 187.34,196.33 187.49,196.84 187.64,196.84 187.78,196.91 187.93,196.81 188.08,197.21 188.23,197.50 188.38,197.79 188.53,198.07 188.68,198.62 188.83,199.04 188.98,199.23 189.13,199.22 189.27,199.27 189.42,199.18 189.57,199.18 189.72,199.50 189.87,199.63 190.02,199.97 190.17,200.19 190.32,200.44 190.47,200.33 190.62,200.68 190.76,201.12 190.91,201.37 191.06,201.69 191.21,202.26 191.36,202.14 191.51,201.88 191.66,201.56 191.81,201.56 191.96,201.38 192.11,201.86 192.25,202.25 192.40,202.29 192.55,202.45 192.70,202.82 192.85,202.94 193.00,203.07 193.15,203.28 193.30,203.19 193.45,202.68 193.60,202.59 193.75,202.88 193.89,203.37 194.04,203.74 194.19,203.80 194.34,203.46 194.49,203.48 194.64,203.68 194.79,203.71 194.94,203.32 195.09,203.41 195.24,205.57 195.38,204.27 195.53,204.11 195.68,204.34 195.83,204.12 195.98,204.17 196.13,204.24 196.28,204.91 196.43,204.79 196.58,204.61 196.73,204.80 196.87,205.21 197.02,204.96 197.17,205.00 197.32,206.18 197.47,204.86 197.62,204.53 197.77,204.75 197.92,204.79 198.07,205.14 198.22,205.11 198.36,205.17 198.51,205.47 198.66,205.85 198.81,205.90 198.96,205.83 199.11,205.74 199.26,203.95 199.41,205.57 199.56,205.88 199.71,206.40 199.85,206.83 200.00,206.69 200.15,206.16 200.30,205.73 200.45,205.40 200.60,205.68 200.75,206.22 200.90,206.28 201.05,205.93 201.20,206.42 201.34,207.04 201.49,207.05 201.64,206.69 201.79,206.48 201.94,206.15 202.09,205.97 202.24,206.19 202.39,206.45 202.54,206.74 202.69,207.12 202.84,207.36 202.98,207.35 203.13,207.01 203.28,206.62 203.43,206.83 203.58,208.41 203.73,207.66 203.88,207.25 204.03,206.74 204.18,206.71 204.33,206.60 204.47,206.69 204.62,206.50 204.77,206.93 204.92,207.18 205.07,207.49 205.22,207.09 205.37,206.97 205.52,206.68 205.67,207.04 205.82,206.96 205.96,207.06 206.11,206.82 206.26,206.72 206.41,206.90 206.56,207.28 206.71,207.75 206.86,207.78 207.01,207.79 207.16,206.52 207.31,208.20 207.45,208.23 207.60,207.95 207.75,207.47 207.90,207.28 208.05,207.34 208.20,207.42 208.35,207.73 208.50,208.01 208.65,208.08 208.80,208.02 208.94,207.79 209.09,207.65 209.24,207.16 209.39,207.07 209.54,207.21 209.69,208.18 209.84,208.30 209.99,208.19 210.14,207.78 210.29,207.75 210.43,207.74 210.58,207.95 210.73,207.99 210.88,207.45 211.03,207.42 211.18,206.48 211.33,208.10 211.48,208.22 211.63,208.55 211.78,208.46 211.92,208.77 212.07,208.95 212.22,209.26 212.37,209.09 212.52,208.72 212.67,208.14 212.82,208.04 212.97,208.37 213.12,208.59 213.27,209.11 213.42,209.26 213.56,209.34 213.71,208.97 213.86,208.75 214.01,208.81 214.16,209.09 214.31,209.48 214.46,209.16 214.61,210.44 214.76,208.88 214.91,209.29 215.05,209.13 215.20,209.13 215.35,209.30 215.50,209.54 215.65,209.19 215.80,209.20 215.95,209.48 216.10,208.90 216.25,209.77 216.40,209.92 216.54,209.72 216.69,209.14 216.84,208.96 216.99,209.06 217.14,209.51 217.29,209.40 217.44,209.78 217.59,209.78 217.74,209.94 217.89,209.93 218.03,210.00 218.18,209.86 218.33,209.69 218.48,209.54 218.63,209.71 218.78,209.72 218.93,209.47 219.08,209.09 219.23,209.36 219.38,209.72 219.52,209.77 219.67,209.65 219.82,209.26 219.97,209.35 220.12,209.94 220.27,210.29 220.42,209.71 220.57,209.48 220.72,209.75 220.87,209.31 221.01,208.82 221.16,208.80 221.31,209.29 221.46,209.83 221.61,210.49 221.76,210.64 221.91,210.22 222.06,210.36 222.21,210.30 222.36,210.28 222.51,210.00 222.65,210.29 222.80,210.30 222.95,210.26 223.10,210.26 223.25,210.44 223.40,210.90 223.55,210.73 223.70,210.53 223.85,210.10 224.00,210.37 224.14,210.33 224.29,210.35 224.44,210.42 224.59,210.75 224.74,210.77 224.89,210.58 225.04,210.55 225.19,210.63 225.34,210.56 225.49,210.07 225.63,210.11 225.78,210.18 225.93,210.75 226.08,210.75 226.23,211.45 226.38,211.51 226.53,211.42 226.68,210.96 226.83,210.52 226.98,210.34 227.12,210.21 227.27,210.44 227.42,210.06 227.57,209.60 227.72,209.72 227.87,210.30 228.02,210.59 228.17,210.42 228.32,210.31 228.47,210.28 228.61,210.44 228.76,210.59 228.91,210.76 229.06,210.57 229.21,210.19 229.36,209.87 229.51,210.06 229.66,210.22 229.81,210.22 229.96,210.20 230.10,210.58 230.25,210.91 230.40,211.21 230.55,210.91 230.70,210.71 230.85,210.82 231.00,211.06 231.15,210.92 231.30,210.53 231.45,210.61 231.59,210.76 231.74,211.06 231.89,210.93 232.04,211.22 232.19,211.17 232.34,210.84 232.49,210.43 232.64,210.62 232.79,211.11 232.94,211.04 233.09,210.74 233.23,210.45 233.38,210.49 233.53,210.19 233.68,210.28 233.83,210.77 233.98,211.06 234.13,210.62 234.28,210.35 234.43,210.40 234.58,210.70 234.72,210.71 234.87,210.90 235.02,210.60 235.17,210.34 235.32,209.94 235.47,209.90 235.62,210.26 235.77,210.83 235.92,211.15 236.07,211.07 236.21,210.51 236.36,210.55 236.51,210.49 236.66,211.01 236.81,211.41 236.96,211.73 237.11,211.46 237.26,211.17 237.41,210.92 237.56,210.48 237.70,210.25 237.85,210.56 238.00,210.98 238.15,211.18 238.30,211.32 238.45,211.14 238.60,210.76 238.75,210.51 238.90,210.69 239.05,210.69 239.19,210.79 239.34,210.78 239.49,210.80 239.64,210.67 239.79,210.71 239.94,210.88 240.09,211.03 240.24,211.30 240.39,211.20 240.54,211.01 240.68,210.76 240.83,210.81 240.98,211.22 241.13,211.58 241.28,211.56 241.43,211.47 241.58,211.62 241.73,211.34 241.88,211.00 242.03,211.06 242.18,211.25 242.32,211.06 242.47,210.97 242.62,211.12 242.77,211.38 242.92,211.30 243.07,211.36 243.22,211.66 243.37,212.06 243.52,211.61 243.67,210.80 243.81,210.42 243.96,210.67 244.11,210.66 244.26,210.87 244.41,211.32 244.56,211.94 244.71,211.69 244.86,211.17 245.01,210.86 245.16,210.84 245.30,211.17 245.45,211.26 245.60,211.06 245.75,210.78 245.90,211.06 246.05,211.55 246.20,211.84 246.35,211.74 246.50,210.96 246.65,210.69 246.79,211.04 246.94,211.77 247.09,211.41 247.24,210.84 247.39,210.82 247.54,211.57 247.69,212.03 247.84,211.72 247.99,211.57 248.14,211.31 248.28,210.97 248.43,210.68 248.58,210.87 248.73,211.26 248.88,211.51 249.03,211.18 249.18,210.91 249.33,210.92 249.48,211.03 249.63,210.82 249.77,210.80 249.92,211.13 250.07,211.05 250.22,210.84 250.37,210.57 250.52,210.76 250.67,210.90 250.82,210.95 250.97,210.99 251.12,211.10 251.26,210.93 251.41,210.96 251.56,211.31 251.71,211.61 251.86,211.18 252.01,211.11 252.16,211.05 252.31,210.79 252.46,210.49 252.61,211.03 252.76,211.41 252.90,211.40 253.05,211.39 253.20,211.55 253.35,211.31 253.50,211.04 253.65,211.13 253.80,211.13 253.95,211.12 254.10,211.17 254.25,211.21 254.39,211.22 254.54,211.28 254.69,211.28 254.84,211.07 254.99,210.99 255.14,211.04 255.29,211.02 255.44,210.81 255.59,210.81 255.74,211.05 255.88,213.17 256.03,211.22 256.18,211.10 256.33,211.17 256.48,211.16 256.63,211.05 256.78,211.00 256.93,211.05 257.08,210.98 257.23,211.01 257.37,210.64 257.52,210.51 257.67,210.48 257.82,210.78 257.97,210.92 258.12,211.12 258.27,210.99 258.42,210.87 258.57,211.03 258.72,210.97 258.86,210.74 259.01,210.74 259.16,211.24 259.31,211.41 259.46,211.37 259.61,210.98 259.76,210.88 259.91,210.76 260.06,210.66 260.21,210.55 260.35,210.56 260.50,210.30 260.65,210.12 260.80,210.32 260.95,210.82 261.10,210.85 261.25,209.46 261.40,210.26 261.55,210.15 261.70,210.18 261.85,210.15 261.99,210.38 262.14,210.43 262.29,210.28 262.44,210.37 262.59,210.58 262.74,210.30 262.89,209.92 263.04,210.00 263.19,210.15 263.34,209.75 263.48,209.62 263.63,209.73 263.78,210.35 263.93,210.47 264.08,210.20 264.23,209.78 264.38,209.77 264.53,209.79 264.68,209.62 264.83,209.70 264.97,209.84 265.12,209.82 265.27,209.35 265.42,209.19 265.57,208.78 265.72,208.97 265.87,208.94 266.02,209.23 266.17,209.27 266.32,209.14 266.46,207.93 266.61,208.90 266.76,209.19 266.91,208.92 267.06,208.61 267.21,208.57 267.36,208.78 267.51,208.81 267.66,208.31 267.81,208.36 267.95,208.40 268.10,208.43 268.25,208.04 268.40,208.03 268.55,208.18 268.70,208.29 268.85,208.20 269.00,207.95 269.15,208.16 269.30,208.55 269.44,208.57 269.59,208.00 269.74,207.68 269.89,207.48 270.04,207.52 270.19,207.60 270.34,207.87 270.49,208.06 270.64,208.38 270.79,208.40 270.94,207.92 271.08,207.68 271.23,207.83 271.38,207.64 271.53,207.14 271.68,206.86 271.83,206.75 271.98,206.54 272.13,206.84 272.28,207.02 272.43,208.89 272.57,206.76 272.72,207.00 272.87,206.94 273.02,207.14 273.17,206.69 273.32,206.48 273.47,206.25 273.62,206.51 273.77,206.59 273.92,206.65 274.06,206.39 274.21,206.17 274.36,206.12 274.51,205.99 274.66,205.80 274.81,205.56 274.96,205.36 275.11,205.51 275.26,205.42 275.41,205.60 275.55,205.59 275.70,205.38 275.85,204.58 276.00,204.35 276.15,204.47 276.30,204.65 276.45,204.78 276.60,204.98 276.75,204.79 276.90,204.46 277.04,204.57 277.19,204.56 277.34,204.72 277.49,204.87 277.64,204.83 277.79,204.37 277.94,204.31 278.09,204.30 278.24,204.15 278.39,204.07 278.53,204.03 278.68,203.87 278.83,203.77 278.98,203.83 279.13,203.98 279.28,204.04 279.43,204.42 279.58,204.41 279.73,204.20 279.88,203.75 280.02,203.53 280.17,203.72 280.32,203.87 280.47,203.78 280.62,203.44 280.77,203.44 280.92,203.70 281.07,203.56 281.22,203.59 281.37,203.93 281.52,203.84 281.66,203.72 281.81,203.28 281.96,203.29 282.11,203.00 282.26,203.20 282.41,203.24 282.56,203.17 282.71,203.14 282.86,203.44 283.01,203.81 283.15,203.99 283.30,203.88 283.45,203.45 283.60,203.33 283.75,203.50 283.90,203.82 284.05,203.41 284.20,203.08 284.35,202.75 284.50,202.74 284.64,202.89 284.79,204.07 284.94,203.02 285.09,202.65 285.24,202.43 285.39,202.38 285.54,202.77 285.69,202.90 285.84,202.93 285.99,202.91 286.13,202.97 286.28,203.00 286.43,203.23 286.58,203.41 286.73,203.28 286.88,203.20 287.03,203.52 287.18,203.86 287.33,203.58 287.48,203.56 287.62,203.66 287.77,203.93 287.92,203.86 288.07,204.00 288.22,204.16 288.37,204.47 288.52,204.56 288.67,204.46 288.82,204.36 288.97,204.40 289.11,204.62 289.26,204.66 289.41,204.82 289.56,204.63 289.71,204.76 289.86,204.89 290.01,204.88 290.16,204.61 290.31,204.61 290.46,204.62 290.61,204.48 290.75,204.62 290.90,205.09 291.05,205.58 291.20,205.38 291.35,205.14 291.50,204.66 291.65,205.15 291.80,205.26 291.95,203.65 292.10,205.59 292.24,206.25 292.39,206.16 292.54,206.13 292.69,206.18 292.84,206.09 292.99,205.69 293.14,205.84 293.29,206.19 293.44,205.81 293.59,205.89 293.73,205.77 293.88,205.93 294.03,205.98 294.18,206.45 294.33,206.46 294.48,206.11 294.63,206.14 294.78,206.49 294.93,206.57 295.08,206.47 295.22,207.11 295.37,206.25 295.52,205.84 295.67,205.88 295.82,206.28 295.97,206.69 296.12,206.79 296.27,206.75 296.42,206.97 296.57,206.90 296.71,206.77 296.86,206.47 297.01,206.47 297.16,206.65 297.31,206.63 297.46,206.55 297.61,206.33 297.76,206.18 297.91,206.34 298.06,206.78 298.20,207.17 298.35,207.13 298.50,207.09 298.65,209.00 298.80,207.22 298.95,207.09 299.10,207.13 299.25,207.72 299.40,206.89 299.55,207.45 299.69,206.90 299.84,205.60 299.99,206.85 300.14,207.07 300.29,207.19 300.44,207.31 300.59,207.25 300.74,206.96 300.89,206.80 301.04,207.01 301.19,207.51 301.33,207.36 301.48,207.30 301.63,207.14 301.78,207.55 301.93,207.78 302.08,207.98 302.23,207.53 302.38,207.05 302.53,207.08 302.68,207.28 302.82,207.31 302.97,207.15 303.12,207.14 303.27,207.08 303.42,207.35 303.57,207.54 303.72,207.75 303.87,207.36 304.02,207.10 304.17,206.92 304.31,207.12 304.46,207.07 304.61,207.06 304.76,207.42 304.91,207.67 305.06,207.48 305.21,207.11 305.36,207.60 305.51,208.09 305.66,207.91 305.80,207.39 305.95,207.30 306.10,207.48 306.25,207.22 306.40,206.97 306.55,206.99 306.70,207.07 306.85,207.11 307.00,207.25 307.15,207.70 307.29,207.96 307.44,207.94 307.59,207.77 307.74,207.74 307.89,207.97 308.04,207.97 308.19,207.67 308.34,207.55 308.49,207.77 308.64,207.94 308.78,207.90 308.93,208.05 309.08,207.99 309.23,207.66 309.38,207.18 309.53,207.31 309.68,207.67 309.83,207.80 309.98,207.96 310.13,207.83 310.28,207.82 310.42,207.53 310.57,207.84 310.72,206.72 310.87,207.95 311.02,207.80 311.17,207.57 311.32,207.12 311.47,207.15 311.62,207.69 311.77,207.80 311.91,207.69 312.06,207.78 312.21,208.00 312.36,207.77 312.51,207.23 312.66,206.92 312.81,207.03 312.96,207.46 313.11,207.71 313.26,207.36 313.40,207.15 313.55,207.28 313.70,207.41 313.85,207.42 314.00,207.45 314.15,207.38 314.30,207.44 314.45,207.18 314.60,206.88 314.75,205.85 314.89,206.82 315.04,207.20 315.19,207.03 315.34,207.16 315.49,207.16 315.64,207.58 315.79,207.51 315.94,207.31 316.09,207.06 316.24,207.22 316.38,207.41 316.53,207.18 316.68,206.64 316.83,206.41 316.98,206.68 317.13,207.19 317.28,207.45 317.43,207.34 317.58,207.07 317.73,207.24 317.87,207.44 318.02,207.68 318.17,207.84 318.32,207.52 318.47,207.32 318.62,206.86 318.77,207.06 318.92,207.19 319.07,207.58 319.22,207.59 319.36,207.42 319.51,207.13 319.66,207.09 319.81,207.08 319.96,207.23 320.11,207.03 320.26,207.10 320.41,207.09 320.56,207.08 320.71,206.90 320.86,207.03 321.00,207.24 321.15,207.33 321.30,207.10 321.45,207.05 321.60,206.74 321.75,206.60 321.90,206.83 322.05,207.28 322.20,207.37 322.35,207.14 322.49,206.81 322.64,206.79 322.79,206.65 322.94,206.65 323.09,206.72 323.24,206.87 323.39,206.82 323.54,206.69 323.69,206.85 323.84,207.16 323.98,206.95 324.13,206.68 324.28,206.61 324.43,206.87 324.58,206.80 324.73,206.55 324.88,206.55 325.03,206.75 325.18,207.14 325.33,207.28 325.47,207.34 325.62,207.20 325.77,206.77 325.92,206.56 326.07,206.32 326.22,206.43 326.37,207.89 326.52,206.54 326.67,206.44 326.82,206.39 326.96,206.58 327.11,206.59 327.26,206.75 327.41,206.71 327.56,206.79 327.71,206.73 327.86,206.79 328.01,206.71 328.16,205.54 328.31,206.72 328.45,206.87 328.60,206.52 328.75,205.95 328.90,206.19 329.05,206.68 329.20,207.24 329.35,207.18 329.50,207.16 329.65,206.59 329.80,206.41 329.95,206.36 330.09,206.59 330.24,206.67 330.39,206.57 330.54,206.22 330.69,206.05 330.84,205.99 330.99,206.11 331.14,207.68 331.29,205.88 331.44,205.80 331.58,205.53 331.73,205.31 331.88,205.24 332.03,207.51 332.18,205.91 332.33,205.77 332.48,205.77 332.63,205.93 332.78,206.27 332.93,206.18 333.07,205.96 333.22,205.61 333.37,205.94 333.52,206.41 333.67,206.46 333.82,206.23 333.97,205.76 334.12,205.79 334.27,205.79 334.42,205.94 334.56,205.68 334.71,205.64 334.86,205.57 335.01,205.43 335.16,205.16 335.31,205.42 335.46,205.46 335.61,205.47 335.76,205.39 335.91,205.79 336.05,206.03 336.20,205.74 336.35,205.32 336.50,205.04 336.65,204.82 336.80,204.91 336.95,204.77 337.10,204.89 337.25,204.95 337.40,205.40 337.54,205.32 337.69,205.22 337.84,205.31 337.99,205.08 338.14,204.70 338.29,204.69 338.44,205.08 338.59,205.05 338.74,204.87 338.89,205.17 339.04,205.26 339.18,205.29 339.33,204.76 339.48,204.77 339.63,204.85 339.78,204.99 339.93,204.71 340.08,204.82 340.23,204.99 340.38,205.14 340.53,204.64 340.67,204.81 340.82,204.47 340.97,204.34 341.12,205.77 341.27,204.34 341.42,204.55 341.57,204.92 341.72,205.35 341.87,205.66 342.02,205.50 342.16,205.12 342.31,204.40 342.46,204.11 342.61,204.07 342.76,204.49 342.91,204.39 343.06,204.24 343.21,204.01 343.36,204.28 343.51,204.52 343.65,204.43 343.80,203.95 343.95,203.78 344.10,203.90 344.25,204.08 344.40,204.19 344.55,204.45 344.70,204.71 344.85,204.57 345.00,204.23 345.14,204.35 345.29,204.55 345.44,204.70 345.59,204.53 345.74,204.60 345.89,204.76 346.04,204.76 346.19,204.78 346.34,204.68 346.49,204.67 346.63,204.36 346.78,204.17 346.93,204.39 347.08,204.73 347.23,204.67 347.38,204.44 347.53,204.03 347.68,204.06 347.83,204.45 347.98,204.67 348.12,204.53 348.27,204.16 348.42,204.32 348.57,204.13 348.72,204.20 348.87,203.86 349.02,203.86 349.17,203.89 349.32,204.26 349.47,204.66 349.62,204.64 349.76,204.35 349.91,203.80 350.06,204.05 350.21,204.27 350.36,204.27 350.51,204.28 350.66,204.44 350.81,204.85 350.96,206.66 351.11,204.81 351.25,204.39 351.40,203.85 351.55,203.65 351.70,204.07 351.85,204.50 352.00,204.39 352.15,204.21 352.30,204.45 352.45,205.12 352.60,205.04 352.74,204.66 352.89,204.04 353.04,204.06 353.19,204.32 353.34,204.62 353.49,204.46 353.64,204.48 353.79,204.99 353.94,205.43 354.09,205.00 354.23,204.44 354.38,204.54 354.53,204.70 354.68,204.69 354.83,204.27 354.98,204.74 355.13,204.95 355.28,205.05 355.43,204.65 355.58,204.64 355.72,204.50 355.87,204.83 356.02,204.99 356.17,205.37 356.32,205.11 356.47,205.19 356.62,205.24 356.77,205.33 356.92,205.21 357.07,205.06 357.21,205.06 357.36,204.95 357.51,204.81 357.66,204.90 357.81,204.84 357.96,205.25 358.11,205.73 358.26,206.33 358.41,206.13 358.56,205.76 358.71,205.94 358.85,206.45 359.00,206.59 359.15,205.89 359.30,205.51 359.45,205.94 359.60,206.59 359.75,206.52 359.90,206.15 360.05,206.57 360.20,207.07 360.34,206.82 360.49,206.11 360.64,205.96 360.79,206.53 360.94,206.72 361.09,206.55 361.24,205.95 361.39,205.91 361.54,206.28 361.69,206.95 361.83,206.85 361.98,206.82 362.13,206.74 362.28,206.70 362.43,206.67 362.58,206.69 362.73,206.78 362.88,206.65 363.03,206.94 363.18,207.15 363.32,207.30 363.47,207.19 363.62,207.08 363.77,206.81 363.92,206.88 364.07,207.52 364.22,208.19 364.37,208.37 364.52,208.12 364.67,208.05 364.81,207.98 364.96,208.17 365.11,208.35 365.26,208.17 365.41,208.01 365.56,207.73 365.71,208.01 365.86,208.20 366.01,207.26 366.16,207.03 366.30,208.07 366.45,208.44 366.60,208.83 366.75,208.95 366.90,208.71 367.05,208.71 367.20,208.65 367.35,208.29 367.50,208.06 367.65,208.09 367.79,208.50 367.94,208.42 368.09,208.44 368.24,208.68 368.39,208.85 368.54,208.97 368.69,208.99 368.84,209.08 368.99,208.80 369.14,208.67 369.29,208.83 369.43,208.91 369.58,208.91 369.73,209.24 369.88,209.67 370.03,209.94 370.18,210.03 370.33,209.91 370.48,209.60 370.63,209.18 370.78,209.32 370.92,209.38 371.07,209.60 371.22,209.78 371.37,210.00 371.52,209.57 371.67,209.02 371.82,208.99 371.97,209.56 372.12,209.81 372.27,209.77 372.41,209.38 372.56,209.47 372.71,209.62 372.86,209.97 373.01,209.80 373.16,209.81 373.31,209.53 373.46,209.49 373.61,209.34 373.76,209.59 373.90,209.82 374.05,209.56 374.20,209.44 374.35,209.45 374.50,209.63 374.65,209.56 374.80,209.79 374.95,210.01 375.10,209.95 375.25,210.01 375.39,210.04 375.54,210.25 375.69,210.32 375.84,210.51 375.99,210.45 376.14,210.63 376.29,210.49 376.44,210.48 376.59,210.23 376.74,210.32 376.88,210.31 377.03,210.52 377.18,210.25 377.33,209.86 377.48,211.36 377.63,209.86 377.78,210.18 377.93,210.50 378.08,210.27 378.23,210.19 378.38,210.39 378.52,210.75 378.67,210.65 378.82,210.62 378.97,210.93 379.12,211.26 379.27,211.39 379.42,210.90 379.57,210.74 379.72,210.58 379.87,210.87 380.01,210.59 380.16,210.63 380.31,210.45 380.46,210.46 380.61,210.76 380.76,210.80 380.91,210.85 381.06,210.65 381.21,210.63 381.36,210.63 381.50,210.77 381.65,210.81 381.80,210.61 381.95,210.52 382.10,210.86 382.25,210.69 382.40,210.57 382.55,209.98 382.70,210.21 382.85,210.59 382.99,211.15 383.14,212.50 383.29,211.30 383.44,210.97 383.59,210.84 383.74,210.83 383.89,210.89 384.04,210.71 384.19,210.65 384.34,210.57 384.48,210.91 384.63,211.28 384.78,211.31 384.93,210.61 385.08,210.29 385.23,210.50 385.38,211.10 385.53,210.99 385.68,211.04 385.83,211.11 385.97,210.87 386.12,210.70 386.27,211.10 386.42,211.55 386.57,211.21 386.72,211.19 386.87,211.48 387.02,211.26 387.17,210.97 387.32,211.04 387.46,211.39 387.61,210.89 387.76,210.40 387.91,210.39 388.06,211.17 388.21,211.61 388.36,211.50 388.51,211.05 388.66,210.92 388.81,210.28 388.96,211.17 389.10,211.48 389.25,211.55 389.40,211.66 389.55,209.60 389.70,211.07 389.85,210.94 390.00,210.73 390.15,210.81 390.30,210.61 390.45,211.15 390.59,211.38 390.74,211.32 390.89,210.89 391.04,211.03 391.19,211.20 391.34,211.17 391.49,211.06 391.64,211.08 391.79,211.05 391.94,211.29 392.08,211.26 392.23,211.29 392.38,210.76 392.53,210.88 392.68,211.10 392.83,211.66 392.98,211.46 393.13,211.55 393.28,211.53 393.43,211.56 393.57,211.44 393.72,211.36 393.87,211.13 394.02,211.20 394.17,211.51 394.32,211.68 394.47,211.78 394.62,211.78 394.77,211.82 394.92,211.82 395.06,211.97 395.21,211.84 395.36,210.06 395.51,211.09 395.66,210.96 395.81,211.28 395.96,210.90 396.11,211.20 396.26,211.23 396.41,211.90 396.55,211.72 396.70,211.93 396.85,211.53 397.00,211.56 397.15,211.59 397.30,211.87 397.45,211.57 397.60,211.50 397.75,211.32 397.90,211.51 398.05,211.70 398.19,211.82 398.34,211.79 398.49,211.81 398.64,211.85 398.79,211.69 398.94,211.25 399.09,211.35 399.24,211.62 399.39,211.87 399.54,211.70 399.68,211.61 399.83,211.56 399.98,211.63 400.13,211.50 400.28,211.39 400.43,211.42 400.58,211.45 400.73,211.21 400.88,211.42 401.03,212.24 401.17,212.55 401.32,212.34 401.47,211.83 401.62,211.93 401.77,211.94 401.92,212.03 402.07,211.88 402.22,211.81 402.37,211.61 402.52,211.53 402.66,211.49 402.81,211.45 402.96,211.03 403.11,210.92 403.26,211.21 403.41,211.96 403.56,212.29 403.71,212.03 403.86,211.76 404.01,211.54 404.15,211.44 404.30,211.60 404.45,211.83 404.60,211.89 404.75,211.75 404.90,212.02 405.05,212.15 405.20,210.67 405.35,211.91 405.50,211.91 405.64,211.88 405.79,211.42 405.94,211.18 406.09,211.30 406.24,211.56 406.39,212.00 406.54,212.61 406.69,213.13 406.84,212.61 406.99,212.15 407.14,212.01 407.28,212.23 407.43,211.87 407.58,211.85 407.73,212.24 407.88,212.73 408.03,212.89 408.18,212.62 408.33,212.46 408.48,212.38 408.63,212.31 408.77,212.04 408.92,211.73 409.07,212.02 409.22,211.95 409.37,212.02 409.52,211.86 409.67,212.18 409.82,212.12 409.97,212.11 410.12,212.02 410.26,212.00 410.41,211.90 410.56,211.83 410.71,211.89 410.86,212.00 411.01,211.96 411.16,212.00 411.31,211.95 411.46,211.95 411.61,211.72 411.75,211.41 411.90,211.35 412.05,211.70 412.20,212.05 412.35,212.38 412.50,212.22 412.65,212.07 412.80,211.55 412.95,211.86 413.10,211.85 413.24,212.06 413.39,212.02 413.54,212.71 413.69,213.01 413.84,213.02 413.99,212.56 414.14,212.63 414.29,212.53 414.44,212.16 414.59,211.94 414.73,212.12 414.88,212.17 415.03,212.04 415.18,212.21 415.33,212.07 415.48,212.07 415.63,212.48 415.78,212.75 415.93,212.18 416.08,211.81 416.22,211.97 416.37,212.35 416.52,212.53 416.67,212.54 416.82,212.62 416.97,213.44 417.12,211.91 417.27,211.75 417.42,213.35 417.57,212.34 417.72,212.37 417.86,212.10 418.01,211.61 418.16,211.62 418.31,210.87 418.46,212.73 418.61,212.30 418.76,211.87 418.91,212.01 419.06,212.34 419.21,211.60 419.35,212.94 419.50,213.15 419.65,212.85 419.80,212.66 419.95,212.61 420.10,212.66 420.25,212.49 420.40,212.39 420.55,212.16 420.70,212.14 420.84,212.10 420.99,212.21 421.14,212.33 421.29,212.66 421.44,212.34 421.59,211.92 421.74,211.66 421.89,212.01 422.04,212.08 422.19,212.39 422.33,212.36 422.48,212.49 422.63,212.21 422.78,212.07 422.93,211.96 423.08,212.24 423.23,212.05 423.38,211.96 423.53,211.76 423.68,212.06 423.82,211.83 423.97,211.90 424.12,212.16 424.27,212.84 424.42,212.75 424.57,212.69 424.72,212.52 424.87,213.56 425.02,212.40 425.17,212.53 425.31,212.56 425.46,212.52 425.61,212.65 425.76,212.67 425.91,212.52 426.06,212.15 426.21,211.89 426.36,211.95 426.51,212.32 426.66,212.61 426.81,212.55 426.95,212.46 427.10,212.35 427.25,212.37 427.40,210.84 427.55,212.47 427.70,212.64 427.85,212.86 428.00,212.87 428.15,212.66 428.30,212.56 428.44,212.64 428.59,212.60 428.74,212.81 428.89,212.87 429.04,212.82 429.19,212.75 429.34,212.90 429.49,213.15 429.64,212.90 429.79,212.72 429.93,212.18 430.08,212.19 430.23,211.96 430.38,211.98 430.53,211.96 430.68,212.07 430.83,212.20 430.98,211.79 431.13,212.08 431.28,211.90 431.42,212.03 431.57,212.20 431.72,212.58 431.87,212.82 432.02,212.90 432.17,213.09 432.32,212.66 432.47,212.41 432.62,212.48 432.77,212.75 432.91,213.08 433.06,212.68 433.21,212.47 433.36,212.52 433.51,212.67 433.66,212.56 433.81,212.75 433.96,213.13 434.11,212.96 434.26,212.88 434.40,212.99 434.55,212.92 434.70,212.58 434.85,212.27 435.00,212.60 435.15,212.79 435.30,212.70 435.45,212.27 435.60,212.03 435.75,212.18 435.89,212.60 436.04,213.09 436.19,212.90 436.34,212.45 436.49,212.06 436.64,212.09 436.79,212.00 436.94,212.40 437.09,212.82 437.24,212.93 437.39,212.15 437.53,212.19 437.68,212.65 437.83,213.09 437.98,212.93 438.13,212.71 438.28,211.57 438.43,212.58 438.58,212.72 438.73,212.64 438.88,212.47 439.02,212.13 439.17,212.36 439.32,212.90 439.47,213.06 439.62,212.67 439.77,212.39 439.92,212.51 440.07,212.44 440.22,212.59 440.37,212.52 440.51,212.46 440.66,212.27 440.81,212.82 440.96,211.47 441.11,212.80 441.26,212.27 441.41,212.40 441.56,212.60 441.71,212.81 441.86,212.68 442.00,212.68 442.15,212.87 442.30,212.89 442.45,212.71 442.60,213.80 442.75,212.42 442.90,212.69 443.05,212.73 443.20,212.73 443.35,212.77 443.49,212.91 443.64,212.89 443.79,212.91 443.94,212.75 444.09,212.69 444.24,212.53 444.39,212.69 444.54,212.32 444.69,212.11 444.84,212.04 444.98,212.69 445.13,213.54 445.28,214.13 445.43,214.11 445.58,213.79 445.73,213.43 445.88,213.29 446.03,213.02 446.18,212.74 446.33,212.70 446.48,212.90 446.62,212.88 446.77,212.53 446.92,212.29 447.07,213.02 447.22,213.36 447.37,213.51 447.52,213.26 447.67,213.57 447.82,213.20 447.97,213.24 448.11,213.26 448.26,213.17 448.41,212.63 448.56,212.55 448.71,213.07 448.86,213.10 449.01,212.81 449.16,212.47 449.31,212.83 449.46,212.79 449.60,212.52 449.75,210.95 449.90,212.68 450.05,212.90 450.20,212.91 450.35,212.83 450.50,212.90 450.65,213.11 450.80,213.00 450.95,212.88 451.09,211.13 451.24,214.38 451.39,213.10 451.54,213.18 451.69,213.20 451.84,213.10 451.99,213.32 452.14,213.14 452.29,212.99 452.44,212.47 452.58,212.30 452.73,212.34 452.88,212.27 453.03,212.34 453.18,212.69 453.33,213.22 453.48,213.24 453.63,213.19 453.78,213.02 453.93,212.83 454.07,212.87 454.22,213.02 454.37,213.23 454.52,213.07 454.67,213.13 454.82,213.24 454.97,213.35 455.12,213.45 455.27,213.62 455.42,213.19 455.56,213.13 455.71,212.87 455.86,213.49 456.01,213.10 456.16,212.81 456.31,212.05 456.46,212.34 456.61,212.65 456.76,212.70 456.91,212.86 457.06,212.97 457.20,213.03 457.35,213.13 457.50,213.03 457.65,212.54 457.80,212.39 457.95,212.81 458.10,213.06 458.25,212.68 458.40,212.39 458.55,212.48 458.69,213.02 458.84,213.42 458.99,213.32 459.14,212.99 459.29,212.56 459.44,212.45 459.59,212.21 459.74,212.63 459.89,212.94 460.04,213.05 460.18,212.61 460.33,212.79 460.48,213.01 460.63,212.95 460.78,214.52 460.93,213.11 461.08,213.17 461.23,212.96 461.38,213.14 461.53,213.37 461.67,213.32 461.82,213.25 461.97,212.80 462.12,212.75 462.27,212.59 462.42,212.77 462.57,212.61 462.72,213.12 462.87,213.33 463.02,213.23 463.16,213.00 463.31,212.71 463.46,212.54 463.61,212.66 463.76,212.90 463.91,212.94 464.06,212.78 464.21,212.61 464.36,212.61 464.51,212.91 464.65,213.27 464.80,213.18 464.95,212.94 465.10,212.92 465.25,213.09 465.40,213.32 465.55,213.07 465.70,212.75 465.85,212.90 466.00,213.26 466.15,213.46 466.29,213.06 466.44,213.12 466.59,213.05 466.74,212.89 466.89,213.03 467.04,213.47 467.19,213.68 467.34,213.44 467.49,212.61 467.64,213.70 467.78,213.56 467.93,213.03 468.08,212.88 468.23,212.57 468.38,212.56 468.53,212.62 468.68,213.04 468.83,213.40 468.98,213.31 469.13,212.87 469.27,212.65 469.42,212.69 469.57,213.12 469.72,212.18 469.87,213.41 470.02,213.01 470.17,213.08 470.32,213.16 470.47,212.90 470.62,212.68 470.76,213.11 470.91,213.37 471.06,213.28 471.21,213.05 471.36,213.00 471.51,213.06 471.66,214.10 471.81,213.15 471.96,213.21 472.11,213.15 472.25,213.02 472.40,212.83 472.55,212.54 472.70,212.42 472.85,212.86 473.00,213.27 473.15,213.33 473.30,213.20 473.45,213.14 473.60,212.90 473.74,212.85 473.89,212.82 474.04,212.95 474.19,213.08 474.34,213.28 474.49,213.13 474.64,212.33 474.79,213.15 474.94,212.62 475.09,212.43 475.24,212.42 475.38,212.69 475.53,212.55 475.68,212.64 475.83,212.43 475.98,212.09 476.13,212.14 476.28,212.56 476.43,212.98 476.58,212.79 476.73,212.63 476.87,212.76 477.02,212.98 477.17,212.86 477.32,213.07 477.47,213.00 477.62,212.74 477.77,212.23 477.92,212.42 478.07,213.17 478.22,213.39 478.36,213.18 478.51,212.57 478.66,212.60 478.81,212.78 478.96,212.89 479.11,213.15 479.26,213.35 479.41,213.36 479.56,213.31 479.71,212.96 479.85,212.95 480.00,212.97 480.15,213.05 480.30,212.86 480.45,212.82 480.60,213.14 480.75,213.22 480.90,213.47 481.05,213.44 481.20,213.47 481.34,213.57 481.49,213.54 481.64,214.53 481.79,212.53 481.94,212.73 482.09,213.16 482.24,213.07 482.39,212.59 482.54,212.27 482.69,213.00 482.83,213.27 482.98,213.29 483.13,212.72 483.28,212.85 483.43,212.71 483.58,212.80 483.73,214.09 483.88,212.63 484.03,212.67 484.18,212.89 484.32,212.96 484.47,213.31 484.62,213.23 484.77,213.28 484.92,213.13 485.07,213.17 485.22,212.95 485.37,212.97 485.52,213.15 485.67,213.27 485.82,213.33 485.96,213.21 486.11,212.76 486.26,212.69 486.41,212.98 486.56,213.35 486.71,213.20 486.86,212.85 487.01,212.76 487.16,212.92 487.31,212.87 487.45,213.58 487.60,212.40 487.75,212.85 487.90,212.95 488.05,212.61 488.20,212.33 488.35,212.76 488.50,213.12 488.65,212.92 488.80,211.85 488.94,213.07 489.09,213.18 489.24,212.98 489.39,212.74 489.54,212.69 489.69,212.36 489.84,212.25 489.99,212.43 490.14,212.76 490.29,212.80 490.43,212.94 490.58,212.70 490.73,212.64 490.88,212.46 491.03,212.64 491.18,212.57 491.33,212.98 491.48,212.88 491.63,212.40 491.78,212.03 491.92,212.25 492.07,212.45 492.22,212.43 492.37,212.87 492.52,213.08 492.67,212.80 492.82,212.72 492.97,213.07 493.12,213.18 493.27,212.76 493.41,212.64 493.56,212.58 493.71,212.48 493.86,212.20 494.01,212.41 494.16,212.86 494.31,213.07 494.46,213.19 494.61,212.67 494.76,212.43 494.91,211.92 495.05,212.32 495.20,212.70 495.35,212.70 495.50,212.22 495.65,212.05 495.80,212.15 495.95,212.03 496.10,211.86 496.25,212.12 496.40,212.20 496.54,212.11 496.69,211.92 496.84,210.92 496.99,212.29 497.14,212.40 497.29,212.61 497.44,212.61 497.59,212.56 497.74,212.48 497.89,212.50 498.03,212.66 498.18,212.79 498.33,212.95 498.48,212.56 498.63,212.30 498.78,212.30 498.93,212.68 499.08,212.61 499.23,212.32 499.38,211.91 499.52,211.70 499.67,211.97 499.82,212.35 499.97,212.64 500.12,212.67 500.27,212.70 500.42,212.55 500.57,212.18 500.72,212.01 500.87,212.09 501.01,212.57 501.16,212.91 501.31,212.69 501.46,212.20 501.61,212.13 501.76,212.42 501.91,212.63 502.06,212.55 502.21,212.67 502.36,212.68 502.50,212.82 502.65,212.76 502.80,212.65 502.95,212.17 503.10,212.05 503.25,212.28 503.40,212.54 503.55,212.26 503.70,211.71 503.85,211.56 503.99,212.13 504.14,212.37 504.29,212.16 504.44,211.90 504.59,212.30 504.74,212.24 504.89,212.10 505.04,212.03 505.19,212.00 505.34,211.97 505.49,211.82 505.63,211.96 505.78,212.06 505.93,212.27 506.08,211.98 506.23,211.91 506.38,212.12 506.53,212.35 506.68,212.33 506.83,212.15 506.98,211.90 507.12,211.69 507.27,211.88 507.42,212.21 507.57,212.13 507.72,211.98 507.87,211.90 508.02,211.92 508.17,211.48 508.32,211.05 508.47,211.30 508.61,211.53 508.76,211.36 508.91,210.91 509.06,211.12 509.21,211.71 509.36,213.02 509.51,212.02 509.66,211.68 509.81,210.61 509.96,211.81 510.10,211.52 510.25,211.54 510.40,211.86 510.55,211.95 510.70,211.57 510.85,211.52 511.00,211.78 511.15,211.75 511.30,211.64 511.45,211.92 511.59,212.01 511.74,212.04 511.89,211.83 512.04,211.63 512.19,211.48 512.34,211.59 512.49,211.97 512.64,212.17 512.79,212.31 512.94,212.12 513.08,211.88 513.23,211.84 513.38,211.65 513.53,211.28 513.68,211.24 513.83,211.27 513.98,211.27 514.13,211.48 514.28,211.94 514.43,212.14 514.58,211.82 514.72,211.78 514.87,211.47 515.02,211.20 515.17,210.95 515.32,211.00 515.47,211.31 515.62,211.41 515.77,211.23 515.92,211.08 516.07,211.34 516.21,211.72 516.36,211.37 516.51,210.94 516.66,210.35 516.81,210.52 516.96,210.79 517.11,211.04 517.26,211.16 517.41,211.14 517.56,211.01 517.70,210.62 517.85,210.53 518.00,210.59 518.15,210.74 518.30,210.83 518.45,210.62 518.60,210.35 518.75,210.27 518.90,210.48 519.05,210.57 519.19,210.53 519.34,210.48 519.49,210.45 519.64,210.21 519.79,210.19 519.94,210.69 520.09,211.12 520.24,211.05 520.39,210.60 520.54,210.35 520.68,210.55 520.83,210.55 520.98,210.84 521.13,210.82 521.28,210.97 521.43,210.60 521.58,210.71 521.73,210.89 521.88,210.81 522.03,210.86 522.17,210.88 522.32,210.64 522.47,210.30 522.62,210.44 522.77,210.72 522.92,210.78 523.07,210.95 523.22,210.73 523.37,210.41 523.52,210.26 523.66,210.49 523.81,210.23 523.96,210.20 524.11,210.33 524.26,210.99 524.41,210.92 524.56,210.68 524.71,210.46 524.86,210.68 525.01,210.91 525.16,211.11 525.30,211.00 525.45,210.76 525.60,210.74 525.75,210.81 525.90,211.13 526.05,211.26 526.20,211.33 526.35,210.68 526.50,210.43 526.65,210.12 526.79,210.44 526.94,210.59 527.09,210.89 527.24,210.90 527.39,211.10 527.54,211.02 527.69,211.06 527.84,210.90 527.99,210.54 528.14,210.11 528.28,210.47 528.43,211.19 528.58,211.37 528.73,211.03 528.88,210.86 529.03,210.81 529.18,210.72 529.33,210.45 529.48,210.64 529.63,210.30 529.77,210.12 529.92,209.89 530.07,210.38 530.22,210.84 530.37,211.17 530.52,211.53 530.67,211.58 530.82,211.30 530.97,210.80 531.12,210.95 531.26,211.27 531.41,211.73 531.56,211.75 531.71,211.39 531.86,210.76 532.01,210.86 532.16,209.70 532.31,210.70 532.46,210.90 532.61,211.34 532.75,211.24 532.90,211.37 533.05,211.78 533.20,211.99 533.35,211.93 533.50,211.66" fill="none" stroke="#ff00ff" stroke-width="2.9" stroke-linejoin="round"/>
</g>
<clipPath id="clip"><rect x="56.7" y="8" width="476.9" height="350"/></clipPath>
<g fill="none" stroke="#1a1a1a" stroke-width="1.3">
<rect x="141.45" y="27.4" width="46.1" height="260.4"/>
<rect x="258.25" y="195.1" width="45.95" height="129.9"/>
</g>
<rect x="56.7" y="8.0" width="476.9" height="349.95" fill="none" stroke="#000" stroke-width="1.7"/>
<g stroke="#000" stroke-width="1.7">
<line x1="56.70" y1="358" x2="56.70" y2="365"/><line x1="90.77" y1="358" x2="90.77" y2="361.7"/><line x1="124.83" y1="358" x2="124.83" y2="365"/><line x1="158.89" y1="358" x2="158.89" y2="361.7"/><line x1="192.96" y1="358" x2="192.96" y2="365"/><line x1="227.02" y1="358" x2="227.02" y2="361.7"/><line x1="261.09" y1="358" x2="261.09" y2="365"/><line x1="295.15" y1="358" x2="295.15" y2="361.7"/><line x1="329.22" y1="358" x2="329.22" y2="365"/><line x1="363.28" y1="358" x2="363.28" y2="361.7"/><line x1="397.35" y1="358" x2="397.35" y2="365"/><line x1="431.41" y1="358" x2="431.41" y2="361.7"/><line x1="465.48" y1="358" x2="465.48" y2="365"/><line x1="499.54" y1="358" x2="499.54" y2="361.7"/><line x1="533.61" y1="358" x2="533.61" y2="365"/>
</g>
<g class="serif" font-size="18.6" fill="#000">
<text x="56.70" y="384.4" text-anchor="middle">10</text><text x="124.83" y="384.4" text-anchor="middle">20</text><text x="192.96" y="384.4" text-anchor="middle">30</text><text x="261.09" y="384.4" text-anchor="middle">40</text><text x="329.22" y="384.4" text-anchor="middle">50</text><text x="397.35" y="384.4" text-anchor="middle">60</text><text x="465.48" y="384.4" text-anchor="middle">70</text><text x="533.61" y="384.4" text-anchor="middle">80</text>
</g>
<g class="serif" font-size="17.5" fill="#000">
<text x="163" y="23.4" text-anchor="middle">002</text>
<text x="280" y="187.2" text-anchor="middle">100</text>
</g>
<text class="serif" x="294.4" y="418.5" font-size="20.4" text-anchor="middle">2Theta (degrees)</text>
<text class="serif" transform="translate(22,196.3) rotate(-90)" font-size="20" text-anchor="middle">Intensity</text>
<g class="sans" font-size="18" fill="#000" stroke="#000" stroke-width="0.3">
<text x="449.3" y="206.8" text-anchor="middle">4#</text>
<text x="451" y="242.6" text-anchor="middle">3#</text>
<text x="451.8" y="276" text-anchor="middle">2#</text>
<text x="451.5" y="312.3" text-anchor="middle">1#</text>
</g>
</svg>
</body></html>
